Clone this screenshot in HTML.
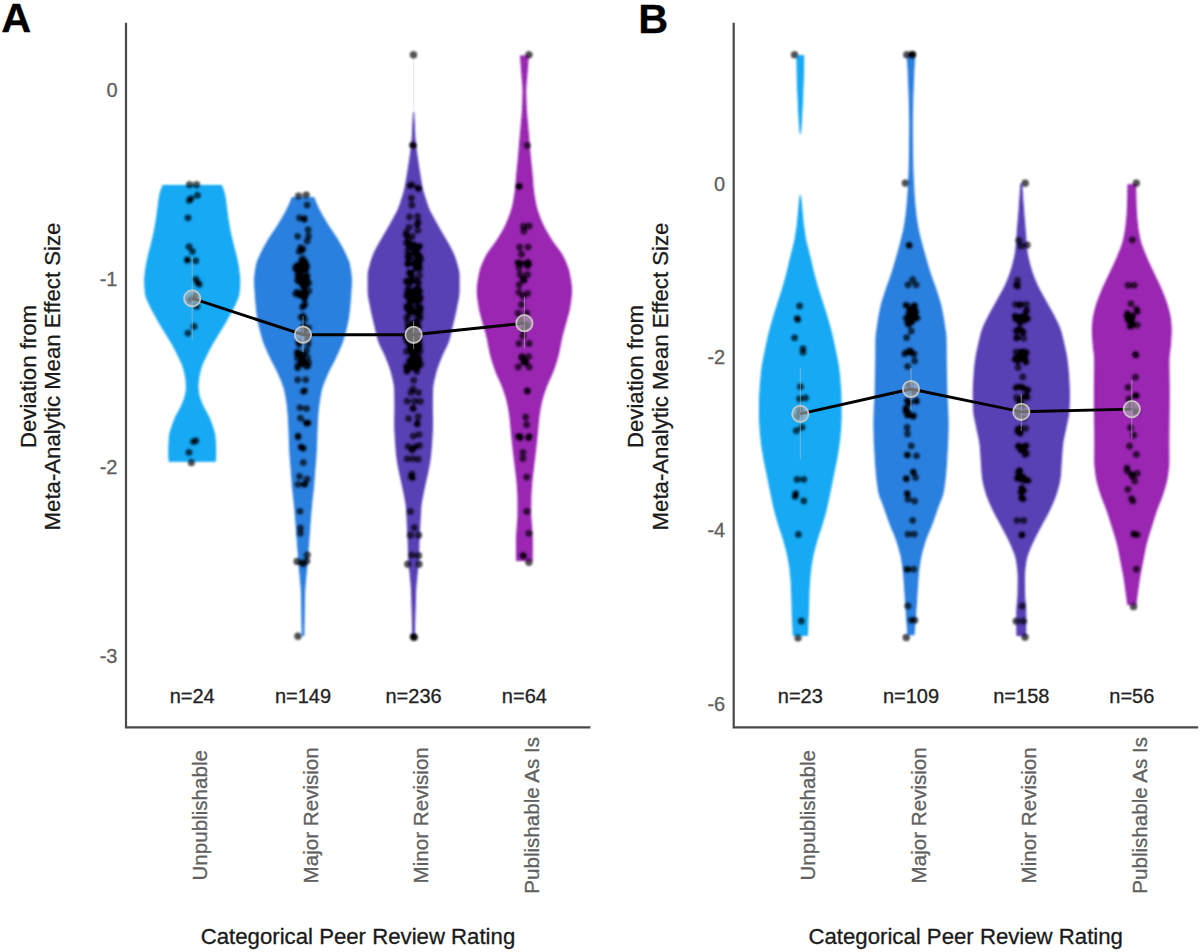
<!DOCTYPE html>
<html><head><meta charset="utf-8"><style>
html,body{margin:0;padding:0;background:#fff;}
body{width:1200px;height:952px;overflow:hidden;font-family:"Liberation Sans",sans-serif;}
svg{display:block;}
#w{width:1200px;height:952px;}
</style></head><body><div id="w">
<svg width="1200" height="952" viewBox="0 0 1200 952">
<style>text{stroke-width:0.3px;paint-order:stroke;} .d{fill:#000;fill-opacity:.68;stroke:#000;stroke-opacity:.55;stroke-width:.8}</style>
<defs><filter id="bl" x="0" y="0" width="1200" height="952" filterUnits="userSpaceOnUse"><feGaussianBlur stdDeviation="0.9"/></filter></defs>
<rect width="1200" height="952" fill="#fff"/>
<g filter="url(#bl)">
<path d="M221.40,185.60 L221.83,186.60 L222.23,187.60 L222.62,188.60 L222.98,189.60 L223.32,190.60 L223.62,191.60 L223.90,192.60 L224.15,193.60 L224.38,194.60 L224.60,195.60 L224.80,196.60 L224.98,197.60 L225.15,198.60 L225.31,199.60 L225.44,200.60 L225.57,201.60 L225.69,202.60 L225.80,203.60 L225.92,204.60 L226.05,205.60 L226.18,206.60 L226.31,207.60 L226.44,208.60 L226.57,209.60 L226.70,210.60 L226.83,211.60 L226.97,212.60 L227.10,213.60 L227.24,214.60 L227.38,215.60 L227.52,216.60 L227.67,217.60 L227.82,218.60 L227.97,219.60 L228.12,220.60 L228.28,221.60 L228.44,222.60 L228.60,223.60 L228.76,224.60 L228.93,225.60 L229.10,226.60 L229.28,227.60 L229.46,228.60 L229.65,229.60 L229.84,230.60 L230.04,231.60 L230.24,232.60 L230.46,233.60 L230.68,234.60 L230.91,235.60 L231.14,236.60 L231.37,237.60 L231.61,238.60 L231.85,239.60 L232.10,240.60 L232.34,241.60 L232.58,242.60 L232.82,243.60 L233.07,244.60 L233.33,245.60 L233.59,246.60 L233.85,247.60 L234.12,248.60 L234.38,249.60 L234.64,250.60 L234.90,251.60 L235.16,252.60 L235.41,253.60 L235.65,254.60 L235.88,255.60 L236.10,256.60 L236.33,257.60 L236.55,258.60 L236.78,259.60 L237.00,260.60 L237.21,261.60 L237.42,262.60 L237.62,263.60 L237.81,264.60 L237.99,265.60 L238.16,266.60 L238.31,267.60 L238.44,268.60 L238.57,269.60 L238.70,270.60 L238.84,271.60 L238.96,272.60 L239.09,273.60 L239.20,274.60 L239.31,275.60 L239.40,276.60 L239.48,277.60 L239.54,278.60 L239.58,279.60 L239.60,280.60 L239.60,281.60 L239.58,282.60 L239.56,283.60 L239.52,284.60 L239.47,285.60 L239.41,286.60 L239.34,287.60 L239.27,288.60 L239.19,289.60 L239.10,290.60 L239.00,291.60 L238.90,292.60 L238.79,293.60 L238.64,294.60 L238.41,295.60 L238.13,296.60 L237.80,297.60 L237.43,298.60 L237.02,299.60 L236.59,300.60 L236.14,301.60 L235.68,302.60 L235.22,303.60 L234.76,304.60 L234.32,305.60 L233.87,306.60 L233.39,307.60 L232.89,308.60 L232.37,309.60 L231.84,310.60 L231.30,311.60 L230.74,312.60 L230.18,313.60 L229.61,314.60 L229.05,315.60 L228.48,316.60 L227.91,317.60 L227.35,318.60 L226.77,319.60 L226.19,320.60 L225.60,321.60 L225.01,322.60 L224.41,323.60 L223.81,324.60 L223.20,325.60 L222.60,326.60 L221.99,327.60 L221.38,328.60 L220.78,329.60 L220.18,330.60 L219.58,331.60 L218.96,332.60 L218.35,333.60 L217.73,334.60 L217.11,335.60 L216.50,336.60 L215.88,337.60 L215.27,338.60 L214.67,339.60 L214.08,340.60 L213.50,341.60 L212.92,342.60 L212.37,343.60 L211.81,344.60 L211.26,345.60 L210.72,346.60 L210.18,347.60 L209.65,348.60 L209.13,349.60 L208.61,350.60 L208.10,351.60 L207.60,352.60 L207.11,353.60 L206.62,354.60 L206.15,355.60 L205.67,356.60 L205.19,357.60 L204.71,358.60 L204.22,359.60 L203.74,360.60 L203.27,361.60 L202.82,362.60 L202.38,363.60 L201.96,364.60 L201.58,365.60 L201.22,366.60 L200.90,367.60 L200.62,368.60 L200.35,369.60 L200.09,370.60 L199.83,371.60 L199.59,372.60 L199.36,373.60 L199.14,374.60 L198.94,375.60 L198.75,376.60 L198.58,377.60 L198.44,378.60 L198.32,379.60 L198.22,380.60 L198.15,381.60 L198.08,382.60 L198.01,383.60 L197.96,384.60 L197.92,385.60 L197.90,386.60 L197.91,387.60 L197.95,388.60 L198.03,389.60 L198.13,390.60 L198.25,391.60 L198.38,392.60 L198.51,393.60 L198.69,394.60 L198.91,395.60 L199.18,396.60 L199.48,397.60 L199.82,398.60 L200.18,399.60 L200.57,400.60 L200.96,401.60 L201.35,402.60 L201.75,403.60 L202.14,404.60 L202.57,405.60 L203.03,406.60 L203.52,407.60 L204.03,408.60 L204.57,409.60 L205.11,410.60 L205.66,411.60 L206.22,412.60 L206.77,413.60 L207.32,414.60 L207.85,415.60 L208.36,416.60 L208.85,417.60 L209.31,418.60 L209.74,419.60 L210.13,420.60 L210.49,421.60 L210.85,422.60 L211.21,423.60 L211.58,424.60 L211.93,425.60 L212.28,426.60 L212.62,427.60 L212.95,428.60 L213.27,429.60 L213.56,430.60 L213.84,431.60 L214.09,432.60 L214.31,433.60 L214.51,434.60 L214.67,435.60 L214.81,436.60 L214.90,437.60 L214.97,438.60 L215.04,439.60 L215.11,440.60 L215.18,441.60 L215.24,442.60 L215.29,443.60 L215.34,444.60 L215.38,445.60 L215.42,446.60 L215.45,447.60 L215.48,448.60 L215.49,449.60 L215.50,450.60 L215.50,451.60 L215.49,452.60 L215.48,453.60 L215.46,454.60 L215.44,455.60 L215.41,456.60 L215.38,457.60 L215.33,458.60 L215.29,459.60 L215.23,460.60 L215.20,461.10 L169.20,461.10 L169.17,460.60 L169.11,459.60 L169.07,458.60 L169.02,457.60 L168.99,456.60 L168.96,455.60 L168.94,454.60 L168.92,453.60 L168.91,452.60 L168.90,451.60 L168.90,450.60 L168.91,449.60 L168.92,448.60 L168.95,447.60 L168.98,446.60 L169.02,445.60 L169.06,444.60 L169.11,443.60 L169.16,442.60 L169.22,441.60 L169.29,440.60 L169.36,439.60 L169.43,438.60 L169.50,437.60 L169.59,436.60 L169.73,435.60 L169.89,434.60 L170.09,433.60 L170.31,432.60 L170.56,431.60 L170.84,430.60 L171.13,429.60 L171.45,428.60 L171.78,427.60 L172.12,426.60 L172.47,425.60 L172.82,424.60 L173.19,423.60 L173.55,422.60 L173.91,421.60 L174.27,420.60 L174.66,419.60 L175.09,418.60 L175.55,417.60 L176.04,416.60 L176.55,415.60 L177.08,414.60 L177.63,413.60 L178.18,412.60 L178.74,411.60 L179.29,410.60 L179.83,409.60 L180.37,408.60 L180.88,407.60 L181.37,406.60 L181.83,405.60 L182.26,404.60 L182.65,403.60 L183.05,402.60 L183.44,401.60 L183.83,400.60 L184.22,399.60 L184.58,398.60 L184.92,397.60 L185.22,396.60 L185.49,395.60 L185.71,394.60 L185.89,393.60 L186.02,392.60 L186.15,391.60 L186.27,390.60 L186.37,389.60 L186.45,388.60 L186.49,387.60 L186.50,386.60 L186.48,385.60 L186.44,384.60 L186.39,383.60 L186.32,382.60 L186.25,381.60 L186.18,380.60 L186.08,379.60 L185.96,378.60 L185.82,377.60 L185.65,376.60 L185.46,375.60 L185.26,374.60 L185.04,373.60 L184.81,372.60 L184.57,371.60 L184.31,370.60 L184.05,369.60 L183.78,368.60 L183.50,367.60 L183.18,366.60 L182.82,365.60 L182.44,364.60 L182.02,363.60 L181.58,362.60 L181.13,361.60 L180.66,360.60 L180.18,359.60 L179.69,358.60 L179.21,357.60 L178.73,356.60 L178.25,355.60 L177.78,354.60 L177.29,353.60 L176.80,352.60 L176.30,351.60 L175.79,350.60 L175.27,349.60 L174.75,348.60 L174.22,347.60 L173.68,346.60 L173.14,345.60 L172.59,344.60 L172.03,343.60 L171.48,342.60 L170.90,341.60 L170.32,340.60 L169.73,339.60 L169.13,338.60 L168.52,337.60 L167.90,336.60 L167.29,335.60 L166.67,334.60 L166.05,333.60 L165.44,332.60 L164.82,331.60 L164.22,330.60 L163.62,329.60 L163.02,328.60 L162.41,327.60 L161.80,326.60 L161.20,325.60 L160.59,324.60 L159.99,323.60 L159.39,322.60 L158.80,321.60 L158.21,320.60 L157.63,319.60 L157.05,318.60 L156.49,317.60 L155.92,316.60 L155.35,315.60 L154.79,314.60 L154.22,313.60 L153.66,312.60 L153.10,311.60 L152.56,310.60 L152.03,309.60 L151.51,308.60 L151.01,307.60 L150.53,306.60 L150.08,305.60 L149.64,304.60 L149.18,303.60 L148.72,302.60 L148.26,301.60 L147.81,300.60 L147.38,299.60 L146.97,298.60 L146.60,297.60 L146.27,296.60 L145.99,295.60 L145.76,294.60 L145.61,293.60 L145.50,292.60 L145.40,291.60 L145.30,290.60 L145.21,289.60 L145.13,288.60 L145.06,287.60 L144.99,286.60 L144.93,285.60 L144.88,284.60 L144.84,283.60 L144.82,282.60 L144.80,281.60 L144.80,280.60 L144.82,279.60 L144.86,278.60 L144.92,277.60 L145.00,276.60 L145.09,275.60 L145.20,274.60 L145.31,273.60 L145.44,272.60 L145.56,271.60 L145.70,270.60 L145.83,269.60 L145.96,268.60 L146.09,267.60 L146.24,266.60 L146.41,265.60 L146.59,264.60 L146.78,263.60 L146.98,262.60 L147.19,261.60 L147.40,260.60 L147.62,259.60 L147.85,258.60 L148.07,257.60 L148.30,256.60 L148.52,255.60 L148.75,254.60 L148.99,253.60 L149.24,252.60 L149.50,251.60 L149.76,250.60 L150.02,249.60 L150.28,248.60 L150.55,247.60 L150.81,246.60 L151.07,245.60 L151.33,244.60 L151.58,243.60 L151.82,242.60 L152.06,241.60 L152.30,240.60 L152.55,239.60 L152.79,238.60 L153.03,237.60 L153.26,236.60 L153.49,235.60 L153.72,234.60 L153.94,233.60 L154.16,232.60 L154.36,231.60 L154.56,230.60 L154.75,229.60 L154.94,228.60 L155.12,227.60 L155.30,226.60 L155.47,225.60 L155.64,224.60 L155.80,223.60 L155.96,222.60 L156.12,221.60 L156.28,220.60 L156.43,219.60 L156.58,218.60 L156.73,217.60 L156.88,216.60 L157.02,215.60 L157.16,214.60 L157.30,213.60 L157.43,212.60 L157.57,211.60 L157.70,210.60 L157.83,209.60 L157.96,208.60 L158.09,207.60 L158.22,206.60 L158.35,205.60 L158.48,204.60 L158.60,203.60 L158.71,202.60 L158.83,201.60 L158.96,200.60 L159.09,199.60 L159.25,198.60 L159.42,197.60 L159.60,196.60 L159.80,195.60 L160.02,194.60 L160.25,193.60 L160.50,192.60 L160.78,191.60 L161.08,190.60 L161.42,189.60 L161.78,188.60 L162.17,187.60 L162.57,186.60 L163.00,185.60Z" fill="#12a9f4" stroke="#06a0f2" stroke-width="1.1"/>
<path d="M313.80,197.80 L314.17,198.80 L314.56,199.80 L314.95,200.80 L315.36,201.80 L315.77,202.80 L316.20,203.80 L316.64,204.80 L317.09,205.80 L317.55,206.80 L318.02,207.80 L318.50,208.80 L318.99,209.80 L319.50,210.80 L320.03,211.80 L320.56,212.80 L321.12,213.80 L321.68,214.80 L322.25,215.80 L322.83,216.80 L323.42,217.80 L324.01,218.80 L324.61,219.80 L325.21,220.80 L325.82,221.80 L326.43,222.80 L327.04,223.80 L327.64,224.80 L328.27,225.80 L328.91,226.80 L329.56,227.80 L330.23,228.80 L330.90,229.80 L331.58,230.80 L332.26,231.80 L332.94,232.80 L333.61,233.80 L334.29,234.80 L334.95,235.80 L335.60,236.80 L336.24,237.80 L336.86,238.80 L337.46,239.80 L338.05,240.80 L338.63,241.80 L339.20,242.80 L339.77,243.80 L340.34,244.80 L340.90,245.80 L341.45,246.80 L341.99,247.80 L342.52,248.80 L343.05,249.80 L343.56,250.80 L344.06,251.80 L344.55,252.80 L345.03,253.80 L345.50,254.80 L345.96,255.80 L346.41,256.80 L346.87,257.80 L347.33,258.80 L347.78,259.80 L348.20,260.80 L348.58,261.80 L348.90,262.80 L349.16,263.80 L349.36,264.80 L349.56,265.80 L349.75,266.80 L349.93,267.80 L350.11,268.80 L350.28,269.80 L350.44,270.80 L350.59,271.80 L350.73,272.80 L350.85,273.80 L350.97,274.80 L351.06,275.80 L351.15,276.80 L351.21,277.80 L351.26,278.80 L351.29,279.80 L351.30,280.80 L351.29,281.80 L351.28,282.80 L351.25,283.80 L351.22,284.80 L351.18,285.80 L351.13,286.80 L351.08,287.80 L351.02,288.80 L350.96,289.80 L350.89,290.80 L350.82,291.80 L350.75,292.80 L350.67,293.80 L350.60,294.80 L350.53,295.80 L350.46,296.80 L350.39,297.80 L350.32,298.80 L350.24,299.80 L350.17,300.80 L350.09,301.80 L350.01,302.80 L349.93,303.80 L349.84,304.80 L349.75,305.80 L349.66,306.80 L349.56,307.80 L349.46,308.80 L349.35,309.80 L349.24,310.80 L349.12,311.80 L349.00,312.80 L348.88,313.80 L348.75,314.80 L348.61,315.80 L348.46,316.80 L348.30,317.80 L348.13,318.80 L347.95,319.80 L347.77,320.80 L347.58,321.80 L347.38,322.80 L347.17,323.80 L346.95,324.80 L346.73,325.80 L346.49,326.80 L346.26,327.80 L346.01,328.80 L345.76,329.80 L345.50,330.80 L345.24,331.80 L344.97,332.80 L344.70,333.80 L344.42,334.80 L344.14,335.80 L343.85,336.80 L343.56,337.80 L343.26,338.80 L342.96,339.80 L342.65,340.80 L342.32,341.80 L341.97,342.80 L341.60,343.80 L341.22,344.80 L340.82,345.80 L340.40,346.80 L339.98,347.80 L339.54,348.80 L339.10,349.80 L338.65,350.80 L338.20,351.80 L337.74,352.80 L337.28,353.80 L336.82,354.80 L336.36,355.80 L335.90,356.80 L335.44,357.80 L334.96,358.80 L334.46,359.80 L333.95,360.80 L333.44,361.80 L332.91,362.80 L332.39,363.80 L331.86,364.80 L331.33,365.80 L330.80,366.80 L330.28,367.80 L329.77,368.80 L329.27,369.80 L328.78,370.80 L328.31,371.80 L327.85,372.80 L327.41,373.80 L326.98,374.80 L326.55,375.80 L326.11,376.80 L325.68,377.80 L325.25,378.80 L324.83,379.80 L324.41,380.80 L324.00,381.80 L323.61,382.80 L323.23,383.80 L322.86,384.80 L322.51,385.80 L322.18,386.80 L321.88,387.80 L321.60,388.80 L321.34,389.80 L321.11,390.80 L320.89,391.80 L320.69,392.80 L320.49,393.80 L320.30,394.80 L320.11,395.80 L319.94,396.80 L319.77,397.80 L319.61,398.80 L319.46,399.80 L319.31,400.80 L319.17,401.80 L319.03,402.80 L318.90,403.80 L318.78,404.80 L318.66,405.80 L318.54,406.80 L318.43,407.80 L318.33,408.80 L318.22,409.80 L318.12,410.80 L318.03,411.80 L317.94,412.80 L317.85,413.80 L317.76,414.80 L317.68,415.80 L317.61,416.80 L317.54,417.80 L317.47,418.80 L317.41,419.80 L317.36,420.80 L317.30,421.80 L317.25,422.80 L317.21,423.80 L317.16,424.80 L317.12,425.80 L317.08,426.80 L317.04,427.80 L317.00,428.80 L316.97,429.80 L316.93,430.80 L316.89,431.80 L316.86,432.80 L316.82,433.80 L316.78,434.80 L316.74,435.80 L316.70,436.80 L316.66,437.80 L316.62,438.80 L316.58,439.80 L316.54,440.80 L316.50,441.80 L316.47,442.80 L316.43,443.80 L316.39,444.80 L316.35,445.80 L316.31,446.80 L316.27,447.80 L316.23,448.80 L316.19,449.80 L316.14,450.80 L316.09,451.80 L316.04,452.80 L315.99,453.80 L315.93,454.80 L315.87,455.80 L315.80,456.80 L315.73,457.80 L315.66,458.80 L315.58,459.80 L315.50,460.80 L315.42,461.80 L315.33,462.80 L315.25,463.80 L315.16,464.80 L315.08,465.80 L314.99,466.80 L314.91,467.80 L314.83,468.80 L314.75,469.80 L314.67,470.80 L314.59,471.80 L314.52,472.80 L314.44,473.80 L314.37,474.80 L314.30,475.80 L314.23,476.80 L314.15,477.80 L314.08,478.80 L314.00,479.80 L313.93,480.80 L313.85,481.80 L313.77,482.80 L313.69,483.80 L313.61,484.80 L313.52,485.80 L313.44,486.80 L313.34,487.80 L313.25,488.80 L313.14,489.80 L313.04,490.80 L312.93,491.80 L312.81,492.80 L312.70,493.80 L312.58,494.80 L312.47,495.80 L312.35,496.80 L312.24,497.80 L312.13,498.80 L312.02,499.80 L311.92,500.80 L311.81,501.80 L311.71,502.80 L311.60,503.80 L311.50,504.80 L311.40,505.80 L311.30,506.80 L311.20,507.80 L311.11,508.80 L311.02,509.80 L310.93,510.80 L310.84,511.80 L310.76,512.80 L310.68,513.80 L310.60,514.80 L310.52,515.80 L310.44,516.80 L310.36,517.80 L310.29,518.80 L310.21,519.80 L310.14,520.80 L310.06,521.80 L309.99,522.80 L309.91,523.80 L309.84,524.80 L309.77,525.80 L309.70,526.80 L309.63,527.80 L309.56,528.80 L309.50,529.80 L309.43,530.80 L309.36,531.80 L309.29,532.80 L309.23,533.80 L309.16,534.80 L309.09,535.80 L309.02,536.80 L308.94,537.80 L308.87,538.80 L308.79,539.80 L308.71,540.80 L308.63,541.80 L308.55,542.80 L308.47,543.80 L308.39,544.80 L308.31,545.80 L308.22,546.80 L308.14,547.80 L308.06,548.80 L307.97,549.80 L307.89,550.80 L307.82,551.80 L307.74,552.80 L307.66,553.80 L307.59,554.80 L307.52,555.80 L307.44,556.80 L307.37,557.80 L307.30,558.80 L307.23,559.80 L307.15,560.80 L307.08,561.80 L307.01,562.80 L306.93,563.80 L306.85,564.80 L306.77,565.80 L306.69,566.80 L306.61,567.80 L306.52,568.80 L306.43,569.80 L306.33,570.80 L306.23,571.80 L306.14,572.80 L306.04,573.80 L305.94,574.80 L305.85,575.80 L305.75,576.80 L305.66,577.80 L305.57,578.80 L305.48,579.80 L305.40,580.80 L305.32,581.80 L305.24,582.80 L305.15,583.80 L305.07,584.80 L304.98,585.80 L304.90,586.80 L304.82,587.80 L304.74,588.80 L304.67,589.80 L304.60,590.80 L304.54,591.80 L304.49,592.80 L304.44,593.80 L304.41,594.80 L304.38,595.80 L304.36,596.80 L304.34,597.80 L304.32,598.80 L304.30,599.80 L304.28,600.80 L304.26,601.80 L304.25,602.80 L304.24,603.80 L304.22,604.80 L304.21,605.80 L304.20,606.80 L304.18,607.80 L304.17,608.80 L304.16,609.80 L304.15,610.80 L304.14,611.80 L304.12,612.80 L304.11,613.80 L304.09,614.80 L304.08,615.80 L304.06,616.80 L304.05,617.80 L304.03,618.80 L304.02,619.80 L304.01,620.80 L303.99,621.80 L303.98,622.80 L303.96,623.80 L303.95,624.80 L303.93,625.80 L303.92,626.80 L303.91,627.80 L303.89,628.80 L303.88,629.80 L303.86,630.80 L303.85,631.80 L303.84,632.80 L303.82,633.80 L303.81,634.80 L303.80,635.40 L302.20,635.40 L302.19,634.80 L302.18,633.80 L302.16,632.80 L302.15,631.80 L302.14,630.80 L302.12,629.80 L302.11,628.80 L302.09,627.80 L302.08,626.80 L302.07,625.80 L302.05,624.80 L302.04,623.80 L302.02,622.80 L302.01,621.80 L301.99,620.80 L301.98,619.80 L301.97,618.80 L301.95,617.80 L301.94,616.80 L301.92,615.80 L301.91,614.80 L301.89,613.80 L301.88,612.80 L301.86,611.80 L301.85,610.80 L301.84,609.80 L301.83,608.80 L301.82,607.80 L301.80,606.80 L301.79,605.80 L301.78,604.80 L301.76,603.80 L301.75,602.80 L301.74,601.80 L301.72,600.80 L301.70,599.80 L301.68,598.80 L301.66,597.80 L301.64,596.80 L301.62,595.80 L301.59,594.80 L301.56,593.80 L301.51,592.80 L301.46,591.80 L301.40,590.80 L301.33,589.80 L301.26,588.80 L301.18,587.80 L301.10,586.80 L301.02,585.80 L300.93,584.80 L300.85,583.80 L300.76,582.80 L300.68,581.80 L300.60,580.80 L300.52,579.80 L300.43,578.80 L300.34,577.80 L300.25,576.80 L300.15,575.80 L300.06,574.80 L299.96,573.80 L299.86,572.80 L299.77,571.80 L299.67,570.80 L299.57,569.80 L299.48,568.80 L299.39,567.80 L299.31,566.80 L299.23,565.80 L299.15,564.80 L299.07,563.80 L298.99,562.80 L298.92,561.80 L298.85,560.80 L298.77,559.80 L298.70,558.80 L298.63,557.80 L298.56,556.80 L298.48,555.80 L298.41,554.80 L298.34,553.80 L298.26,552.80 L298.18,551.80 L298.11,550.80 L298.03,549.80 L297.94,548.80 L297.86,547.80 L297.78,546.80 L297.69,545.80 L297.61,544.80 L297.53,543.80 L297.45,542.80 L297.37,541.80 L297.29,540.80 L297.21,539.80 L297.13,538.80 L297.06,537.80 L296.98,536.80 L296.91,535.80 L296.84,534.80 L296.77,533.80 L296.71,532.80 L296.64,531.80 L296.57,530.80 L296.50,529.80 L296.44,528.80 L296.37,527.80 L296.30,526.80 L296.23,525.80 L296.16,524.80 L296.09,523.80 L296.01,522.80 L295.94,521.80 L295.86,520.80 L295.79,519.80 L295.71,518.80 L295.64,517.80 L295.56,516.80 L295.48,515.80 L295.40,514.80 L295.32,513.80 L295.24,512.80 L295.16,511.80 L295.07,510.80 L294.98,509.80 L294.89,508.80 L294.80,507.80 L294.70,506.80 L294.60,505.80 L294.50,504.80 L294.40,503.80 L294.29,502.80 L294.19,501.80 L294.08,500.80 L293.98,499.80 L293.87,498.80 L293.76,497.80 L293.65,496.80 L293.53,495.80 L293.42,494.80 L293.30,493.80 L293.19,492.80 L293.07,491.80 L292.96,490.80 L292.86,489.80 L292.75,488.80 L292.66,487.80 L292.56,486.80 L292.48,485.80 L292.39,484.80 L292.31,483.80 L292.23,482.80 L292.15,481.80 L292.07,480.80 L292.00,479.80 L291.92,478.80 L291.85,477.80 L291.77,476.80 L291.70,475.80 L291.63,474.80 L291.56,473.80 L291.48,472.80 L291.41,471.80 L291.33,470.80 L291.25,469.80 L291.17,468.80 L291.09,467.80 L291.01,466.80 L290.92,465.80 L290.84,464.80 L290.75,463.80 L290.67,462.80 L290.58,461.80 L290.50,460.80 L290.42,459.80 L290.34,458.80 L290.27,457.80 L290.20,456.80 L290.13,455.80 L290.07,454.80 L290.01,453.80 L289.96,452.80 L289.91,451.80 L289.86,450.80 L289.81,449.80 L289.77,448.80 L289.73,447.80 L289.69,446.80 L289.65,445.80 L289.61,444.80 L289.57,443.80 L289.53,442.80 L289.50,441.80 L289.46,440.80 L289.42,439.80 L289.38,438.80 L289.34,437.80 L289.30,436.80 L289.26,435.80 L289.22,434.80 L289.18,433.80 L289.14,432.80 L289.11,431.80 L289.07,430.80 L289.03,429.80 L289.00,428.80 L288.96,427.80 L288.92,426.80 L288.88,425.80 L288.84,424.80 L288.79,423.80 L288.75,422.80 L288.70,421.80 L288.64,420.80 L288.59,419.80 L288.53,418.80 L288.46,417.80 L288.39,416.80 L288.32,415.80 L288.24,414.80 L288.15,413.80 L288.06,412.80 L287.97,411.80 L287.88,410.80 L287.78,409.80 L287.67,408.80 L287.57,407.80 L287.46,406.80 L287.34,405.80 L287.22,404.80 L287.10,403.80 L286.97,402.80 L286.83,401.80 L286.69,400.80 L286.54,399.80 L286.39,398.80 L286.23,397.80 L286.06,396.80 L285.89,395.80 L285.70,394.80 L285.51,393.80 L285.31,392.80 L285.11,391.80 L284.89,390.80 L284.66,389.80 L284.40,388.80 L284.12,387.80 L283.82,386.80 L283.49,385.80 L283.14,384.80 L282.77,383.80 L282.39,382.80 L282.00,381.80 L281.59,380.80 L281.17,379.80 L280.75,378.80 L280.32,377.80 L279.89,376.80 L279.45,375.80 L279.02,374.80 L278.59,373.80 L278.15,372.80 L277.69,371.80 L277.22,370.80 L276.73,369.80 L276.23,368.80 L275.72,367.80 L275.20,366.80 L274.67,365.80 L274.14,364.80 L273.61,363.80 L273.09,362.80 L272.56,361.80 L272.05,360.80 L271.54,359.80 L271.04,358.80 L270.56,357.80 L270.10,356.80 L269.64,355.80 L269.18,354.80 L268.72,353.80 L268.26,352.80 L267.80,351.80 L267.35,350.80 L266.90,349.80 L266.46,348.80 L266.02,347.80 L265.60,346.80 L265.18,345.80 L264.78,344.80 L264.40,343.80 L264.03,342.80 L263.68,341.80 L263.35,340.80 L263.04,339.80 L262.74,338.80 L262.44,337.80 L262.15,336.80 L261.86,335.80 L261.58,334.80 L261.30,333.80 L261.03,332.80 L260.76,331.80 L260.50,330.80 L260.24,329.80 L259.99,328.80 L259.74,327.80 L259.51,326.80 L259.27,325.80 L259.05,324.80 L258.83,323.80 L258.62,322.80 L258.42,321.80 L258.23,320.80 L258.05,319.80 L257.87,318.80 L257.70,317.80 L257.54,316.80 L257.39,315.80 L257.25,314.80 L257.12,313.80 L257.00,312.80 L256.88,311.80 L256.76,310.80 L256.65,309.80 L256.54,308.80 L256.44,307.80 L256.34,306.80 L256.25,305.80 L256.16,304.80 L256.07,303.80 L255.99,302.80 L255.91,301.80 L255.83,300.80 L255.76,299.80 L255.68,298.80 L255.61,297.80 L255.54,296.80 L255.47,295.80 L255.40,294.80 L255.33,293.80 L255.25,292.80 L255.18,291.80 L255.11,290.80 L255.04,289.80 L254.98,288.80 L254.92,287.80 L254.87,286.80 L254.82,285.80 L254.78,284.80 L254.75,283.80 L254.72,282.80 L254.71,281.80 L254.70,280.80 L254.71,279.80 L254.74,278.80 L254.79,277.80 L254.85,276.80 L254.94,275.80 L255.03,274.80 L255.15,273.80 L255.27,272.80 L255.41,271.80 L255.56,270.80 L255.72,269.80 L255.89,268.80 L256.07,267.80 L256.25,266.80 L256.44,265.80 L256.64,264.80 L256.84,263.80 L257.10,262.80 L257.42,261.80 L257.80,260.80 L258.22,259.80 L258.67,258.80 L259.13,257.80 L259.59,256.80 L260.04,255.80 L260.50,254.80 L260.97,253.80 L261.45,252.80 L261.94,251.80 L262.44,250.80 L262.95,249.80 L263.48,248.80 L264.01,247.80 L264.55,246.80 L265.10,245.80 L265.66,244.80 L266.23,243.80 L266.80,242.80 L267.37,241.80 L267.95,240.80 L268.54,239.80 L269.14,238.80 L269.76,237.80 L270.40,236.80 L271.05,235.80 L271.71,234.80 L272.39,233.80 L273.06,232.80 L273.74,231.80 L274.42,230.80 L275.10,229.80 L275.77,228.80 L276.44,227.80 L277.09,226.80 L277.73,225.80 L278.36,224.80 L278.96,223.80 L279.57,222.80 L280.18,221.80 L280.79,220.80 L281.39,219.80 L281.99,218.80 L282.58,217.80 L283.17,216.80 L283.75,215.80 L284.32,214.80 L284.88,213.80 L285.44,212.80 L285.97,211.80 L286.50,210.80 L287.01,209.80 L287.50,208.80 L287.98,207.80 L288.45,206.80 L288.91,205.80 L289.36,204.80 L289.80,203.80 L290.23,202.80 L290.64,201.80 L291.05,200.80 L291.44,199.80 L291.83,198.80 L292.20,197.80Z" fill="#2b80df" stroke="#1f74da" stroke-width="1.1"/>
<path d="M413.60,112.00 L413.65,113.00 L413.70,114.00 L413.75,115.00 L413.80,116.00 L413.85,117.00 L413.90,118.00 L413.96,119.00 L414.02,120.00 L414.08,121.00 L414.14,122.00 L414.20,123.00 L414.25,124.00 L414.30,125.00 L414.34,126.00 L414.37,127.00 L414.41,128.00 L414.43,129.00 L414.46,130.00 L414.49,131.00 L414.53,132.00 L414.57,133.00 L414.61,134.00 L414.67,135.00 L414.73,136.00 L414.80,137.00 L414.88,138.00 L414.96,139.00 L415.05,140.00 L415.15,141.00 L415.24,142.00 L415.34,143.00 L415.45,144.00 L415.55,145.00 L415.66,146.00 L415.77,147.00 L415.88,148.00 L415.99,149.00 L416.12,150.00 L416.25,151.00 L416.38,152.00 L416.52,153.00 L416.66,154.00 L416.81,155.00 L416.96,156.00 L417.10,157.00 L417.25,158.00 L417.40,159.00 L417.55,160.00 L417.70,161.00 L417.85,162.00 L417.99,163.00 L418.14,164.00 L418.29,165.00 L418.44,166.00 L418.59,167.00 L418.75,168.00 L418.90,169.00 L419.06,170.00 L419.21,171.00 L419.37,172.00 L419.54,173.00 L419.70,174.00 L419.87,175.00 L420.03,176.00 L420.20,177.00 L420.36,178.00 L420.52,179.00 L420.69,180.00 L420.86,181.00 L421.03,182.00 L421.20,183.00 L421.38,184.00 L421.57,185.00 L421.76,186.00 L421.96,187.00 L422.16,188.00 L422.38,189.00 L422.60,190.00 L422.84,191.00 L423.10,192.00 L423.38,193.00 L423.67,194.00 L423.97,195.00 L424.28,196.00 L424.60,197.00 L424.92,198.00 L425.24,199.00 L425.56,200.00 L425.88,201.00 L426.20,202.00 L426.53,203.00 L426.87,204.00 L427.21,205.00 L427.57,206.00 L427.94,207.00 L428.33,208.00 L428.74,209.00 L429.18,210.00 L429.65,211.00 L430.15,212.00 L430.67,213.00 L431.20,214.00 L431.74,215.00 L432.29,216.00 L432.84,217.00 L433.39,218.00 L433.92,219.00 L434.46,220.00 L435.01,221.00 L435.55,222.00 L436.11,223.00 L436.66,224.00 L437.22,225.00 L437.78,226.00 L438.35,227.00 L438.91,228.00 L439.48,229.00 L440.06,230.00 L440.64,231.00 L441.22,232.00 L441.80,233.00 L442.38,234.00 L442.97,235.00 L443.55,236.00 L444.13,237.00 L444.71,238.00 L445.29,239.00 L445.88,240.00 L446.48,241.00 L447.07,242.00 L447.65,243.00 L448.23,244.00 L448.79,245.00 L449.33,246.00 L449.86,247.00 L450.38,248.00 L450.89,249.00 L451.40,250.00 L451.90,251.00 L452.39,252.00 L452.86,253.00 L453.31,254.00 L453.73,255.00 L454.12,256.00 L454.49,257.00 L454.85,258.00 L455.19,259.00 L455.52,260.00 L455.83,261.00 L456.13,262.00 L456.42,263.00 L456.69,264.00 L456.95,265.00 L457.20,266.00 L457.46,267.00 L457.73,268.00 L458.00,269.00 L458.25,270.00 L458.49,271.00 L458.69,272.00 L458.85,273.00 L458.96,274.00 L459.00,275.00 L459.00,276.00 L459.00,277.00 L459.00,278.00 L459.00,279.00 L459.00,280.00 L459.00,281.00 L459.00,282.00 L459.00,283.00 L459.00,284.00 L459.00,285.00 L459.00,286.00 L459.00,287.00 L459.00,288.00 L459.00,289.00 L459.00,290.00 L459.00,291.00 L458.98,292.00 L458.92,293.00 L458.84,294.00 L458.74,295.00 L458.61,296.00 L458.46,297.00 L458.30,298.00 L458.12,299.00 L457.93,300.00 L457.74,301.00 L457.53,302.00 L457.32,303.00 L457.12,304.00 L456.91,305.00 L456.71,306.00 L456.51,307.00 L456.33,308.00 L456.13,309.00 L455.94,310.00 L455.73,311.00 L455.52,312.00 L455.30,313.00 L455.07,314.00 L454.85,315.00 L454.61,316.00 L454.38,317.00 L454.14,318.00 L453.90,319.00 L453.66,320.00 L453.42,321.00 L453.18,322.00 L452.93,323.00 L452.70,324.00 L452.46,325.00 L452.23,326.00 L452.00,327.00 L451.77,328.00 L451.55,329.00 L451.32,330.00 L451.10,331.00 L450.87,332.00 L450.63,333.00 L450.40,334.00 L450.15,335.00 L449.90,336.00 L449.63,337.00 L449.36,338.00 L449.08,339.00 L448.78,340.00 L448.46,341.00 L448.13,342.00 L447.75,343.00 L447.35,344.00 L446.92,345.00 L446.46,346.00 L445.98,347.00 L445.49,348.00 L444.99,349.00 L444.49,350.00 L443.98,351.00 L443.49,352.00 L443.00,353.00 L442.52,354.00 L442.06,355.00 L441.63,356.00 L441.22,357.00 L440.82,358.00 L440.42,359.00 L440.02,360.00 L439.63,361.00 L439.23,362.00 L438.84,363.00 L438.46,364.00 L438.09,365.00 L437.72,366.00 L437.37,367.00 L437.02,368.00 L436.70,369.00 L436.38,370.00 L436.08,371.00 L435.81,372.00 L435.55,373.00 L435.30,374.00 L435.06,375.00 L434.82,376.00 L434.58,377.00 L434.34,378.00 L434.11,379.00 L433.88,380.00 L433.66,381.00 L433.45,382.00 L433.25,383.00 L433.07,384.00 L432.91,385.00 L432.76,386.00 L432.64,387.00 L432.54,388.00 L432.46,389.00 L432.41,390.00 L432.39,391.00 L432.37,392.00 L432.35,393.00 L432.33,394.00 L432.31,395.00 L432.29,396.00 L432.28,397.00 L432.26,398.00 L432.25,399.00 L432.24,400.00 L432.23,401.00 L432.22,402.00 L432.21,403.00 L432.21,404.00 L432.20,405.00 L432.20,406.00 L432.20,407.00 L432.20,408.00 L432.21,409.00 L432.21,410.00 L432.23,411.00 L432.24,412.00 L432.26,413.00 L432.27,414.00 L432.29,415.00 L432.31,416.00 L432.32,417.00 L432.34,418.00 L432.36,419.00 L432.37,420.00 L432.38,421.00 L432.39,422.00 L432.40,423.00 L432.40,424.00 L432.40,425.00 L432.38,426.00 L432.36,427.00 L432.34,428.00 L432.31,429.00 L432.27,430.00 L432.22,431.00 L432.18,432.00 L432.12,433.00 L432.07,434.00 L432.01,435.00 L431.95,436.00 L431.89,437.00 L431.83,438.00 L431.77,439.00 L431.70,440.00 L431.64,441.00 L431.58,442.00 L431.52,443.00 L431.45,444.00 L431.38,445.00 L431.31,446.00 L431.23,447.00 L431.15,448.00 L431.07,449.00 L430.98,450.00 L430.89,451.00 L430.80,452.00 L430.70,453.00 L430.60,454.00 L430.49,455.00 L430.38,456.00 L430.27,457.00 L430.15,458.00 L430.02,459.00 L429.88,460.00 L429.73,461.00 L429.57,462.00 L429.40,463.00 L429.22,464.00 L429.04,465.00 L428.86,466.00 L428.67,467.00 L428.48,468.00 L428.29,469.00 L428.10,470.00 L427.91,471.00 L427.71,472.00 L427.50,473.00 L427.29,474.00 L427.07,475.00 L426.85,476.00 L426.62,477.00 L426.39,478.00 L426.16,479.00 L425.94,480.00 L425.71,481.00 L425.48,482.00 L425.25,483.00 L425.03,484.00 L424.81,485.00 L424.59,486.00 L424.38,487.00 L424.18,488.00 L423.98,489.00 L423.78,490.00 L423.58,491.00 L423.38,492.00 L423.17,493.00 L422.96,494.00 L422.76,495.00 L422.55,496.00 L422.35,497.00 L422.15,498.00 L421.96,499.00 L421.77,500.00 L421.60,501.00 L421.43,502.00 L421.27,503.00 L421.13,504.00 L420.99,505.00 L420.87,506.00 L420.77,507.00 L420.68,508.00 L420.61,509.00 L420.53,510.00 L420.47,511.00 L420.40,512.00 L420.34,513.00 L420.29,514.00 L420.24,515.00 L420.19,516.00 L420.14,517.00 L420.09,518.00 L420.05,519.00 L420.00,520.00 L419.96,521.00 L419.92,522.00 L419.87,523.00 L419.83,524.00 L419.78,525.00 L419.73,526.00 L419.68,527.00 L419.63,528.00 L419.58,529.00 L419.53,530.00 L419.48,531.00 L419.43,532.00 L419.37,533.00 L419.32,534.00 L419.27,535.00 L419.22,536.00 L419.17,537.00 L419.12,538.00 L419.07,539.00 L419.03,540.00 L418.98,541.00 L418.94,542.00 L418.90,543.00 L418.86,544.00 L418.82,545.00 L418.79,546.00 L418.76,547.00 L418.73,548.00 L418.71,549.00 L418.69,550.00 L418.67,551.00 L418.65,552.00 L418.62,553.00 L418.60,554.00 L418.57,555.00 L418.54,556.00 L418.51,557.00 L418.46,558.00 L418.41,559.00 L418.35,560.00 L418.27,561.00 L418.19,562.00 L418.10,563.00 L418.01,564.00 L417.91,565.00 L417.81,566.00 L417.70,567.00 L417.60,568.00 L417.49,569.00 L417.39,570.00 L417.28,571.00 L417.18,572.00 L417.09,573.00 L417.00,574.00 L416.91,575.00 L416.82,576.00 L416.73,577.00 L416.63,578.00 L416.53,579.00 L416.44,580.00 L416.34,581.00 L416.25,582.00 L416.16,583.00 L416.07,584.00 L415.98,585.00 L415.90,586.00 L415.82,587.00 L415.76,588.00 L415.69,589.00 L415.64,590.00 L415.59,591.00 L415.55,592.00 L415.51,593.00 L415.48,594.00 L415.44,595.00 L415.41,596.00 L415.38,597.00 L415.35,598.00 L415.33,599.00 L415.30,600.00 L415.27,601.00 L415.25,602.00 L415.22,603.00 L415.20,604.00 L415.17,605.00 L415.15,606.00 L415.12,607.00 L415.09,608.00 L415.06,609.00 L415.03,610.00 L414.99,611.00 L414.96,612.00 L414.93,613.00 L414.90,614.00 L414.86,615.00 L414.83,616.00 L414.80,617.00 L414.77,618.00 L414.74,619.00 L414.71,620.00 L414.68,621.00 L414.66,622.00 L414.63,623.00 L414.61,624.00 L414.59,625.00 L414.57,626.00 L414.55,627.00 L414.53,628.00 L414.51,629.00 L414.49,630.00 L414.47,631.00 L414.46,632.00 L414.44,633.00 L414.43,634.00 L414.41,635.00 L414.40,636.00 L414.40,636.10 L412.80,636.10 L412.80,636.00 L412.79,635.00 L412.77,634.00 L412.76,633.00 L412.74,632.00 L412.73,631.00 L412.71,630.00 L412.69,629.00 L412.67,628.00 L412.65,627.00 L412.63,626.00 L412.61,625.00 L412.59,624.00 L412.57,623.00 L412.54,622.00 L412.52,621.00 L412.49,620.00 L412.46,619.00 L412.43,618.00 L412.40,617.00 L412.37,616.00 L412.34,615.00 L412.30,614.00 L412.27,613.00 L412.24,612.00 L412.21,611.00 L412.17,610.00 L412.14,609.00 L412.11,608.00 L412.08,607.00 L412.05,606.00 L412.03,605.00 L412.00,604.00 L411.98,603.00 L411.95,602.00 L411.93,601.00 L411.90,600.00 L411.87,599.00 L411.85,598.00 L411.82,597.00 L411.79,596.00 L411.76,595.00 L411.72,594.00 L411.69,593.00 L411.65,592.00 L411.61,591.00 L411.56,590.00 L411.51,589.00 L411.44,588.00 L411.38,587.00 L411.30,586.00 L411.22,585.00 L411.13,584.00 L411.04,583.00 L410.95,582.00 L410.86,581.00 L410.76,580.00 L410.67,579.00 L410.57,578.00 L410.47,577.00 L410.38,576.00 L410.29,575.00 L410.20,574.00 L410.11,573.00 L410.02,572.00 L409.92,571.00 L409.81,570.00 L409.71,569.00 L409.60,568.00 L409.50,567.00 L409.39,566.00 L409.29,565.00 L409.19,564.00 L409.10,563.00 L409.01,562.00 L408.93,561.00 L408.85,560.00 L408.79,559.00 L408.74,558.00 L408.69,557.00 L408.66,556.00 L408.63,555.00 L408.60,554.00 L408.58,553.00 L408.55,552.00 L408.53,551.00 L408.51,550.00 L408.49,549.00 L408.47,548.00 L408.44,547.00 L408.41,546.00 L408.38,545.00 L408.34,544.00 L408.30,543.00 L408.26,542.00 L408.22,541.00 L408.17,540.00 L408.13,539.00 L408.08,538.00 L408.03,537.00 L407.98,536.00 L407.93,535.00 L407.88,534.00 L407.83,533.00 L407.77,532.00 L407.72,531.00 L407.67,530.00 L407.62,529.00 L407.57,528.00 L407.52,527.00 L407.47,526.00 L407.42,525.00 L407.37,524.00 L407.33,523.00 L407.28,522.00 L407.24,521.00 L407.20,520.00 L407.15,519.00 L407.11,518.00 L407.06,517.00 L407.01,516.00 L406.96,515.00 L406.91,514.00 L406.86,513.00 L406.80,512.00 L406.73,511.00 L406.67,510.00 L406.59,509.00 L406.52,508.00 L406.43,507.00 L406.33,506.00 L406.21,505.00 L406.07,504.00 L405.93,503.00 L405.77,502.00 L405.60,501.00 L405.43,500.00 L405.24,499.00 L405.05,498.00 L404.85,497.00 L404.65,496.00 L404.44,495.00 L404.24,494.00 L404.03,493.00 L403.82,492.00 L403.62,491.00 L403.42,490.00 L403.22,489.00 L403.02,488.00 L402.82,487.00 L402.61,486.00 L402.39,485.00 L402.17,484.00 L401.95,483.00 L401.72,482.00 L401.49,481.00 L401.26,480.00 L401.04,479.00 L400.81,478.00 L400.58,477.00 L400.35,476.00 L400.13,475.00 L399.91,474.00 L399.70,473.00 L399.49,472.00 L399.29,471.00 L399.10,470.00 L398.91,469.00 L398.72,468.00 L398.53,467.00 L398.34,466.00 L398.16,465.00 L397.98,464.00 L397.80,463.00 L397.63,462.00 L397.47,461.00 L397.32,460.00 L397.18,459.00 L397.05,458.00 L396.93,457.00 L396.82,456.00 L396.71,455.00 L396.60,454.00 L396.50,453.00 L396.40,452.00 L396.31,451.00 L396.22,450.00 L396.13,449.00 L396.05,448.00 L395.97,447.00 L395.89,446.00 L395.82,445.00 L395.75,444.00 L395.68,443.00 L395.62,442.00 L395.56,441.00 L395.50,440.00 L395.43,439.00 L395.37,438.00 L395.31,437.00 L395.25,436.00 L395.19,435.00 L395.13,434.00 L395.08,433.00 L395.02,432.00 L394.98,431.00 L394.93,430.00 L394.89,429.00 L394.86,428.00 L394.84,427.00 L394.82,426.00 L394.80,425.00 L394.80,424.00 L394.80,423.00 L394.81,422.00 L394.82,421.00 L394.83,420.00 L394.84,419.00 L394.86,418.00 L394.88,417.00 L394.89,416.00 L394.91,415.00 L394.93,414.00 L394.94,413.00 L394.96,412.00 L394.97,411.00 L394.99,410.00 L394.99,409.00 L395.00,408.00 L395.00,407.00 L395.00,406.00 L395.00,405.00 L394.99,404.00 L394.99,403.00 L394.98,402.00 L394.97,401.00 L394.96,400.00 L394.95,399.00 L394.94,398.00 L394.92,397.00 L394.91,396.00 L394.89,395.00 L394.87,394.00 L394.85,393.00 L394.83,392.00 L394.81,391.00 L394.79,390.00 L394.74,389.00 L394.66,388.00 L394.56,387.00 L394.44,386.00 L394.29,385.00 L394.13,384.00 L393.95,383.00 L393.75,382.00 L393.54,381.00 L393.32,380.00 L393.09,379.00 L392.86,378.00 L392.62,377.00 L392.38,376.00 L392.14,375.00 L391.90,374.00 L391.65,373.00 L391.39,372.00 L391.12,371.00 L390.82,370.00 L390.50,369.00 L390.18,368.00 L389.83,367.00 L389.48,366.00 L389.11,365.00 L388.74,364.00 L388.36,363.00 L387.97,362.00 L387.57,361.00 L387.18,360.00 L386.78,359.00 L386.38,358.00 L385.98,357.00 L385.57,356.00 L385.14,355.00 L384.68,354.00 L384.20,353.00 L383.71,352.00 L383.22,351.00 L382.71,350.00 L382.21,349.00 L381.71,348.00 L381.22,347.00 L380.74,346.00 L380.28,345.00 L379.85,344.00 L379.45,343.00 L379.07,342.00 L378.74,341.00 L378.42,340.00 L378.12,339.00 L377.84,338.00 L377.57,337.00 L377.30,336.00 L377.05,335.00 L376.80,334.00 L376.57,333.00 L376.33,332.00 L376.10,331.00 L375.88,330.00 L375.65,329.00 L375.43,328.00 L375.20,327.00 L374.97,326.00 L374.74,325.00 L374.50,324.00 L374.27,323.00 L374.02,322.00 L373.78,321.00 L373.54,320.00 L373.30,319.00 L373.06,318.00 L372.82,317.00 L372.59,316.00 L372.35,315.00 L372.13,314.00 L371.90,313.00 L371.68,312.00 L371.47,311.00 L371.26,310.00 L371.07,309.00 L370.87,308.00 L370.69,307.00 L370.49,306.00 L370.29,305.00 L370.08,304.00 L369.88,303.00 L369.67,302.00 L369.46,301.00 L369.27,300.00 L369.08,299.00 L368.90,298.00 L368.74,297.00 L368.59,296.00 L368.46,295.00 L368.36,294.00 L368.28,293.00 L368.22,292.00 L368.20,291.00 L368.20,290.00 L368.20,289.00 L368.20,288.00 L368.20,287.00 L368.20,286.00 L368.20,285.00 L368.20,284.00 L368.20,283.00 L368.20,282.00 L368.20,281.00 L368.20,280.00 L368.20,279.00 L368.20,278.00 L368.20,277.00 L368.20,276.00 L368.20,275.00 L368.24,274.00 L368.35,273.00 L368.51,272.00 L368.71,271.00 L368.95,270.00 L369.20,269.00 L369.47,268.00 L369.74,267.00 L370.00,266.00 L370.25,265.00 L370.51,264.00 L370.78,263.00 L371.07,262.00 L371.37,261.00 L371.68,260.00 L372.01,259.00 L372.35,258.00 L372.71,257.00 L373.08,256.00 L373.47,255.00 L373.89,254.00 L374.34,253.00 L374.81,252.00 L375.30,251.00 L375.80,250.00 L376.31,249.00 L376.82,248.00 L377.34,247.00 L377.87,246.00 L378.41,245.00 L378.97,244.00 L379.55,243.00 L380.13,242.00 L380.72,241.00 L381.32,240.00 L381.91,239.00 L382.49,238.00 L383.07,237.00 L383.65,236.00 L384.23,235.00 L384.82,234.00 L385.40,233.00 L385.98,232.00 L386.56,231.00 L387.14,230.00 L387.72,229.00 L388.29,228.00 L388.85,227.00 L389.42,226.00 L389.98,225.00 L390.54,224.00 L391.09,223.00 L391.65,222.00 L392.19,221.00 L392.74,220.00 L393.28,219.00 L393.81,218.00 L394.36,217.00 L394.91,216.00 L395.46,215.00 L396.00,214.00 L396.53,213.00 L397.05,212.00 L397.55,211.00 L398.02,210.00 L398.46,209.00 L398.87,208.00 L399.26,207.00 L399.63,206.00 L399.99,205.00 L400.33,204.00 L400.67,203.00 L401.00,202.00 L401.32,201.00 L401.64,200.00 L401.96,199.00 L402.28,198.00 L402.60,197.00 L402.92,196.00 L403.23,195.00 L403.53,194.00 L403.82,193.00 L404.10,192.00 L404.36,191.00 L404.60,190.00 L404.82,189.00 L405.04,188.00 L405.24,187.00 L405.44,186.00 L405.63,185.00 L405.82,184.00 L406.00,183.00 L406.17,182.00 L406.34,181.00 L406.51,180.00 L406.68,179.00 L406.84,178.00 L407.00,177.00 L407.17,176.00 L407.33,175.00 L407.50,174.00 L407.66,173.00 L407.83,172.00 L407.99,171.00 L408.14,170.00 L408.30,169.00 L408.45,168.00 L408.61,167.00 L408.76,166.00 L408.91,165.00 L409.06,164.00 L409.21,163.00 L409.35,162.00 L409.50,161.00 L409.65,160.00 L409.80,159.00 L409.95,158.00 L410.10,157.00 L410.24,156.00 L410.39,155.00 L410.54,154.00 L410.68,153.00 L410.82,152.00 L410.95,151.00 L411.08,150.00 L411.21,149.00 L411.32,148.00 L411.43,147.00 L411.54,146.00 L411.65,145.00 L411.75,144.00 L411.86,143.00 L411.96,142.00 L412.05,141.00 L412.15,140.00 L412.24,139.00 L412.32,138.00 L412.40,137.00 L412.47,136.00 L412.53,135.00 L412.59,134.00 L412.63,133.00 L412.67,132.00 L412.71,131.00 L412.74,130.00 L412.77,129.00 L412.79,128.00 L412.83,127.00 L412.86,126.00 L412.90,125.00 L412.95,124.00 L413.00,123.00 L413.06,122.00 L413.12,121.00 L413.18,120.00 L413.24,119.00 L413.30,118.00 L413.35,117.00 L413.40,116.00 L413.45,115.00 L413.50,114.00 L413.55,113.00 L413.60,112.00Z" fill="#5841b5" stroke="#4d35ae" stroke-width="1.1"/>
<path d="M528.20,56.00 L528.12,57.00 L528.05,58.00 L527.98,59.00 L527.90,60.00 L527.83,61.00 L527.75,62.00 L527.68,63.00 L527.60,64.00 L527.53,65.00 L527.46,66.00 L527.38,67.00 L527.31,68.00 L527.24,69.00 L527.16,70.00 L527.09,71.00 L527.02,72.00 L526.94,73.00 L526.87,74.00 L526.79,75.00 L526.71,76.00 L526.62,77.00 L526.52,78.00 L526.43,79.00 L526.33,80.00 L526.24,81.00 L526.15,82.00 L526.06,83.00 L525.98,84.00 L525.91,85.00 L525.84,86.00 L525.79,87.00 L525.75,88.00 L525.72,89.00 L525.70,90.00 L525.70,91.00 L525.71,92.00 L525.71,93.00 L525.73,94.00 L525.74,95.00 L525.76,96.00 L525.78,97.00 L525.80,98.00 L525.83,99.00 L525.86,100.00 L525.89,101.00 L525.92,102.00 L525.95,103.00 L525.99,104.00 L526.02,105.00 L526.06,106.00 L526.09,107.00 L526.13,108.00 L526.18,109.00 L526.23,110.00 L526.30,111.00 L526.37,112.00 L526.44,113.00 L526.52,114.00 L526.60,115.00 L526.69,116.00 L526.78,117.00 L526.87,118.00 L526.96,119.00 L527.05,120.00 L527.14,121.00 L527.23,122.00 L527.32,123.00 L527.40,124.00 L527.48,125.00 L527.57,126.00 L527.66,127.00 L527.74,128.00 L527.83,129.00 L527.92,130.00 L528.02,131.00 L528.11,132.00 L528.20,133.00 L528.29,134.00 L528.38,135.00 L528.47,136.00 L528.56,137.00 L528.65,138.00 L528.74,139.00 L528.83,140.00 L528.92,141.00 L529.00,142.00 L529.09,143.00 L529.17,144.00 L529.25,145.00 L529.33,146.00 L529.41,147.00 L529.49,148.00 L529.57,149.00 L529.65,150.00 L529.73,151.00 L529.82,152.00 L529.90,153.00 L529.98,154.00 L530.07,155.00 L530.16,156.00 L530.25,157.00 L530.34,158.00 L530.43,159.00 L530.53,160.00 L530.63,161.00 L530.73,162.00 L530.83,163.00 L530.94,164.00 L531.04,165.00 L531.15,166.00 L531.26,167.00 L531.36,168.00 L531.47,169.00 L531.57,170.00 L531.67,171.00 L531.77,172.00 L531.87,173.00 L531.96,174.00 L532.05,175.00 L532.14,176.00 L532.22,177.00 L532.30,178.00 L532.37,179.00 L532.45,180.00 L532.52,181.00 L532.60,182.00 L532.67,183.00 L532.75,184.00 L532.83,185.00 L532.91,186.00 L533.00,187.00 L533.09,188.00 L533.19,189.00 L533.30,190.00 L533.42,191.00 L533.55,192.00 L533.70,193.00 L533.85,194.00 L534.01,195.00 L534.18,196.00 L534.35,197.00 L534.52,198.00 L534.69,199.00 L534.86,200.00 L535.03,201.00 L535.21,202.00 L535.39,203.00 L535.59,204.00 L535.79,205.00 L536.01,206.00 L536.25,207.00 L536.50,208.00 L536.78,209.00 L537.07,210.00 L537.38,211.00 L537.71,212.00 L538.05,213.00 L538.40,214.00 L538.76,215.00 L539.13,216.00 L539.50,217.00 L539.88,218.00 L540.26,219.00 L540.67,220.00 L541.08,221.00 L541.51,222.00 L541.96,223.00 L542.41,224.00 L542.88,225.00 L543.36,226.00 L543.85,227.00 L544.35,228.00 L544.88,229.00 L545.41,230.00 L545.97,231.00 L546.53,232.00 L547.11,233.00 L547.71,234.00 L548.31,235.00 L548.91,236.00 L549.53,237.00 L550.15,238.00 L550.77,239.00 L551.40,240.00 L552.04,241.00 L552.72,242.00 L553.43,243.00 L554.15,244.00 L554.89,245.00 L555.64,246.00 L556.40,247.00 L557.15,248.00 L557.90,249.00 L558.63,250.00 L559.35,251.00 L560.05,252.00 L560.72,253.00 L561.35,254.00 L561.94,255.00 L562.50,256.00 L563.00,257.00 L563.48,258.00 L563.95,259.00 L564.42,260.00 L564.88,261.00 L565.32,262.00 L565.76,263.00 L566.18,264.00 L566.58,265.00 L566.97,266.00 L567.34,267.00 L567.69,268.00 L568.01,269.00 L568.32,270.00 L568.60,271.00 L568.85,272.00 L569.08,273.00 L569.28,274.00 L569.47,275.00 L569.66,276.00 L569.85,277.00 L570.04,278.00 L570.22,279.00 L570.39,280.00 L570.55,281.00 L570.71,282.00 L570.85,283.00 L570.98,284.00 L571.09,285.00 L571.19,286.00 L571.27,287.00 L571.34,288.00 L571.38,289.00 L571.40,290.00 L571.40,291.00 L571.38,292.00 L571.34,293.00 L571.28,294.00 L571.21,295.00 L571.12,296.00 L571.03,297.00 L570.92,298.00 L570.80,299.00 L570.67,300.00 L570.53,301.00 L570.39,302.00 L570.24,303.00 L570.09,304.00 L569.94,305.00 L569.78,306.00 L569.63,307.00 L569.47,308.00 L569.28,309.00 L569.07,310.00 L568.84,311.00 L568.59,312.00 L568.33,313.00 L568.06,314.00 L567.79,315.00 L567.50,316.00 L567.22,317.00 L566.94,318.00 L566.67,319.00 L566.40,320.00 L566.14,321.00 L565.86,322.00 L565.59,323.00 L565.31,324.00 L565.02,325.00 L564.73,326.00 L564.44,327.00 L564.16,328.00 L563.87,329.00 L563.58,330.00 L563.30,331.00 L563.03,332.00 L562.76,333.00 L562.49,334.00 L562.24,335.00 L561.99,336.00 L561.75,337.00 L561.53,338.00 L561.31,339.00 L561.11,340.00 L560.91,341.00 L560.72,342.00 L560.53,343.00 L560.35,344.00 L560.16,345.00 L559.98,346.00 L559.79,347.00 L559.60,348.00 L559.41,349.00 L559.20,350.00 L558.99,351.00 L558.78,352.00 L558.54,353.00 L558.30,354.00 L558.05,355.00 L557.79,356.00 L557.52,357.00 L557.24,358.00 L556.95,359.00 L556.65,360.00 L556.35,361.00 L556.04,362.00 L555.72,363.00 L555.40,364.00 L555.07,365.00 L554.74,366.00 L554.40,367.00 L554.05,368.00 L553.70,369.00 L553.34,370.00 L552.98,371.00 L552.60,372.00 L552.19,373.00 L551.77,374.00 L551.34,375.00 L550.89,376.00 L550.44,377.00 L549.98,378.00 L549.52,379.00 L549.06,380.00 L548.60,381.00 L548.15,382.00 L547.70,383.00 L547.27,384.00 L546.85,385.00 L546.45,386.00 L546.07,387.00 L545.71,388.00 L545.35,389.00 L544.99,390.00 L544.63,391.00 L544.29,392.00 L543.95,393.00 L543.61,394.00 L543.29,395.00 L542.98,396.00 L542.69,397.00 L542.41,398.00 L542.15,399.00 L541.90,400.00 L541.67,401.00 L541.44,402.00 L541.22,403.00 L541.00,404.00 L540.79,405.00 L540.59,406.00 L540.39,407.00 L540.20,408.00 L540.02,409.00 L539.84,410.00 L539.67,411.00 L539.50,412.00 L539.34,413.00 L539.19,414.00 L539.05,415.00 L538.92,416.00 L538.79,417.00 L538.67,418.00 L538.55,419.00 L538.45,420.00 L538.34,421.00 L538.25,422.00 L538.15,423.00 L538.06,424.00 L537.97,425.00 L537.89,426.00 L537.80,427.00 L537.72,428.00 L537.63,429.00 L537.55,430.00 L537.46,431.00 L537.36,432.00 L537.27,433.00 L537.17,434.00 L537.07,435.00 L536.97,436.00 L536.86,437.00 L536.76,438.00 L536.65,439.00 L536.55,440.00 L536.44,441.00 L536.34,442.00 L536.23,443.00 L536.12,444.00 L536.01,445.00 L535.90,446.00 L535.79,447.00 L535.68,448.00 L535.57,449.00 L535.46,450.00 L535.34,451.00 L535.23,452.00 L535.11,453.00 L535.00,454.00 L534.88,455.00 L534.76,456.00 L534.64,457.00 L534.52,458.00 L534.40,459.00 L534.28,460.00 L534.16,461.00 L534.04,462.00 L533.92,463.00 L533.80,464.00 L533.68,465.00 L533.56,466.00 L533.45,467.00 L533.33,468.00 L533.21,469.00 L533.08,470.00 L532.96,471.00 L532.83,472.00 L532.70,473.00 L532.58,474.00 L532.45,475.00 L532.33,476.00 L532.21,477.00 L532.10,478.00 L531.99,479.00 L531.89,480.00 L531.80,481.00 L531.72,482.00 L531.65,483.00 L531.57,484.00 L531.50,485.00 L531.42,486.00 L531.35,487.00 L531.28,488.00 L531.21,489.00 L531.14,490.00 L531.07,491.00 L531.01,492.00 L530.95,493.00 L530.90,494.00 L530.85,495.00 L530.81,496.00 L530.77,497.00 L530.74,498.00 L530.72,499.00 L530.71,500.00 L530.70,501.00 L530.70,502.00 L530.70,503.00 L530.70,504.00 L530.70,505.00 L530.70,506.00 L530.70,507.00 L530.70,508.00 L530.70,509.00 L530.70,510.00 L530.70,511.00 L530.70,512.00 L530.70,513.00 L530.70,514.00 L530.70,515.00 L530.71,516.00 L530.74,517.00 L530.79,518.00 L530.85,519.00 L530.93,520.00 L531.01,521.00 L531.10,522.00 L531.20,523.00 L531.29,524.00 L531.38,525.00 L531.46,526.00 L531.54,527.00 L531.60,528.00 L531.66,529.00 L531.72,530.00 L531.79,531.00 L531.85,532.00 L531.92,533.00 L531.98,534.00 L532.03,535.00 L532.08,536.00 L532.13,537.00 L532.16,538.00 L532.19,539.00 L532.20,540.00 L532.20,541.00 L532.20,542.00 L532.20,543.00 L532.20,544.00 L532.20,545.00 L532.20,546.00 L532.20,547.00 L532.19,548.00 L532.19,549.00 L532.19,550.00 L532.19,551.00 L532.18,552.00 L532.18,553.00 L532.17,554.00 L532.16,555.00 L532.15,556.00 L532.14,557.00 L532.13,558.00 L532.12,559.00 L532.11,560.00 L532.10,560.50 L516.70,560.50 L516.69,560.00 L516.68,559.00 L516.67,558.00 L516.66,557.00 L516.65,556.00 L516.64,555.00 L516.63,554.00 L516.62,553.00 L516.62,552.00 L516.61,551.00 L516.61,550.00 L516.61,549.00 L516.61,548.00 L516.60,547.00 L516.60,546.00 L516.60,545.00 L516.60,544.00 L516.60,543.00 L516.60,542.00 L516.60,541.00 L516.60,540.00 L516.61,539.00 L516.64,538.00 L516.67,537.00 L516.72,536.00 L516.77,535.00 L516.82,534.00 L516.88,533.00 L516.95,532.00 L517.01,531.00 L517.08,530.00 L517.14,529.00 L517.20,528.00 L517.26,527.00 L517.34,526.00 L517.42,525.00 L517.51,524.00 L517.60,523.00 L517.70,522.00 L517.79,521.00 L517.87,520.00 L517.95,519.00 L518.01,518.00 L518.06,517.00 L518.09,516.00 L518.10,515.00 L518.10,514.00 L518.10,513.00 L518.10,512.00 L518.10,511.00 L518.10,510.00 L518.10,509.00 L518.10,508.00 L518.10,507.00 L518.10,506.00 L518.10,505.00 L518.10,504.00 L518.10,503.00 L518.10,502.00 L518.10,501.00 L518.09,500.00 L518.08,499.00 L518.06,498.00 L518.03,497.00 L517.99,496.00 L517.95,495.00 L517.90,494.00 L517.85,493.00 L517.79,492.00 L517.73,491.00 L517.66,490.00 L517.59,489.00 L517.52,488.00 L517.45,487.00 L517.38,486.00 L517.30,485.00 L517.23,484.00 L517.15,483.00 L517.08,482.00 L517.00,481.00 L516.91,480.00 L516.81,479.00 L516.70,478.00 L516.59,477.00 L516.47,476.00 L516.35,475.00 L516.22,474.00 L516.10,473.00 L515.97,472.00 L515.84,471.00 L515.72,470.00 L515.59,469.00 L515.47,468.00 L515.35,467.00 L515.24,466.00 L515.12,465.00 L515.00,464.00 L514.88,463.00 L514.76,462.00 L514.64,461.00 L514.52,460.00 L514.40,459.00 L514.28,458.00 L514.16,457.00 L514.04,456.00 L513.92,455.00 L513.80,454.00 L513.69,453.00 L513.57,452.00 L513.46,451.00 L513.34,450.00 L513.23,449.00 L513.12,448.00 L513.01,447.00 L512.90,446.00 L512.79,445.00 L512.68,444.00 L512.57,443.00 L512.46,442.00 L512.36,441.00 L512.25,440.00 L512.15,439.00 L512.04,438.00 L511.94,437.00 L511.83,436.00 L511.73,435.00 L511.63,434.00 L511.53,433.00 L511.44,432.00 L511.34,431.00 L511.25,430.00 L511.17,429.00 L511.08,428.00 L511.00,427.00 L510.91,426.00 L510.83,425.00 L510.74,424.00 L510.65,423.00 L510.55,422.00 L510.46,421.00 L510.35,420.00 L510.25,419.00 L510.13,418.00 L510.01,417.00 L509.88,416.00 L509.75,415.00 L509.61,414.00 L509.46,413.00 L509.30,412.00 L509.13,411.00 L508.96,410.00 L508.78,409.00 L508.60,408.00 L508.41,407.00 L508.21,406.00 L508.01,405.00 L507.80,404.00 L507.58,403.00 L507.36,402.00 L507.13,401.00 L506.90,400.00 L506.65,399.00 L506.39,398.00 L506.11,397.00 L505.82,396.00 L505.51,395.00 L505.19,394.00 L504.85,393.00 L504.51,392.00 L504.17,391.00 L503.81,390.00 L503.45,389.00 L503.09,388.00 L502.73,387.00 L502.35,386.00 L501.95,385.00 L501.53,384.00 L501.10,383.00 L500.65,382.00 L500.20,381.00 L499.74,380.00 L499.28,379.00 L498.82,378.00 L498.36,377.00 L497.91,376.00 L497.46,375.00 L497.03,374.00 L496.61,373.00 L496.20,372.00 L495.82,371.00 L495.46,370.00 L495.10,369.00 L494.75,368.00 L494.40,367.00 L494.06,366.00 L493.73,365.00 L493.40,364.00 L493.08,363.00 L492.76,362.00 L492.45,361.00 L492.15,360.00 L491.85,359.00 L491.56,358.00 L491.28,357.00 L491.01,356.00 L490.75,355.00 L490.50,354.00 L490.26,353.00 L490.02,352.00 L489.81,351.00 L489.60,350.00 L489.39,349.00 L489.20,348.00 L489.01,347.00 L488.82,346.00 L488.64,345.00 L488.45,344.00 L488.27,343.00 L488.08,342.00 L487.89,341.00 L487.69,340.00 L487.49,339.00 L487.27,338.00 L487.05,337.00 L486.81,336.00 L486.56,335.00 L486.31,334.00 L486.04,333.00 L485.77,332.00 L485.50,331.00 L485.22,330.00 L484.93,329.00 L484.64,328.00 L484.36,327.00 L484.07,326.00 L483.78,325.00 L483.49,324.00 L483.21,323.00 L482.94,322.00 L482.66,321.00 L482.40,320.00 L482.13,319.00 L481.86,318.00 L481.58,317.00 L481.30,316.00 L481.01,315.00 L480.74,314.00 L480.47,313.00 L480.21,312.00 L479.96,311.00 L479.73,310.00 L479.52,309.00 L479.33,308.00 L479.17,307.00 L479.02,306.00 L478.86,305.00 L478.71,304.00 L478.56,303.00 L478.41,302.00 L478.27,301.00 L478.13,300.00 L478.00,299.00 L477.88,298.00 L477.77,297.00 L477.68,296.00 L477.59,295.00 L477.52,294.00 L477.46,293.00 L477.42,292.00 L477.40,291.00 L477.40,290.00 L477.42,289.00 L477.46,288.00 L477.53,287.00 L477.61,286.00 L477.71,285.00 L477.82,284.00 L477.95,283.00 L478.09,282.00 L478.25,281.00 L478.41,280.00 L478.58,279.00 L478.76,278.00 L478.95,277.00 L479.14,276.00 L479.33,275.00 L479.52,274.00 L479.72,273.00 L479.95,272.00 L480.20,271.00 L480.48,270.00 L480.79,269.00 L481.11,268.00 L481.46,267.00 L481.83,266.00 L482.22,265.00 L482.62,264.00 L483.04,263.00 L483.48,262.00 L483.92,261.00 L484.38,260.00 L484.85,259.00 L485.32,258.00 L485.80,257.00 L486.30,256.00 L486.86,255.00 L487.45,254.00 L488.08,253.00 L488.75,252.00 L489.45,251.00 L490.17,250.00 L490.90,249.00 L491.65,248.00 L492.40,247.00 L493.16,246.00 L493.91,245.00 L494.65,244.00 L495.37,243.00 L496.08,242.00 L496.76,241.00 L497.40,240.00 L498.03,239.00 L498.65,238.00 L499.27,237.00 L499.89,236.00 L500.49,235.00 L501.09,234.00 L501.69,233.00 L502.27,232.00 L502.83,231.00 L503.39,230.00 L503.92,229.00 L504.45,228.00 L504.95,227.00 L505.44,226.00 L505.92,225.00 L506.39,224.00 L506.84,223.00 L507.29,222.00 L507.72,221.00 L508.13,220.00 L508.54,219.00 L508.92,218.00 L509.30,217.00 L509.67,216.00 L510.04,215.00 L510.40,214.00 L510.75,213.00 L511.09,212.00 L511.42,211.00 L511.73,210.00 L512.02,209.00 L512.30,208.00 L512.55,207.00 L512.79,206.00 L513.01,205.00 L513.21,204.00 L513.41,203.00 L513.59,202.00 L513.77,201.00 L513.94,200.00 L514.11,199.00 L514.28,198.00 L514.45,197.00 L514.62,196.00 L514.79,195.00 L514.95,194.00 L515.10,193.00 L515.25,192.00 L515.38,191.00 L515.50,190.00 L515.61,189.00 L515.71,188.00 L515.80,187.00 L515.89,186.00 L515.97,185.00 L516.05,184.00 L516.13,183.00 L516.20,182.00 L516.28,181.00 L516.35,180.00 L516.43,179.00 L516.50,178.00 L516.58,177.00 L516.66,176.00 L516.75,175.00 L516.84,174.00 L516.93,173.00 L517.03,172.00 L517.13,171.00 L517.23,170.00 L517.33,169.00 L517.44,168.00 L517.54,167.00 L517.65,166.00 L517.76,165.00 L517.86,164.00 L517.97,163.00 L518.07,162.00 L518.17,161.00 L518.27,160.00 L518.37,159.00 L518.46,158.00 L518.55,157.00 L518.64,156.00 L518.73,155.00 L518.82,154.00 L518.90,153.00 L518.98,152.00 L519.07,151.00 L519.15,150.00 L519.23,149.00 L519.31,148.00 L519.39,147.00 L519.47,146.00 L519.55,145.00 L519.63,144.00 L519.71,143.00 L519.80,142.00 L519.88,141.00 L519.97,140.00 L520.06,139.00 L520.15,138.00 L520.24,137.00 L520.33,136.00 L520.42,135.00 L520.51,134.00 L520.60,133.00 L520.69,132.00 L520.78,131.00 L520.88,130.00 L520.97,129.00 L521.06,128.00 L521.14,127.00 L521.23,126.00 L521.32,125.00 L521.40,124.00 L521.48,123.00 L521.57,122.00 L521.66,121.00 L521.75,120.00 L521.84,119.00 L521.93,118.00 L522.02,117.00 L522.11,116.00 L522.20,115.00 L522.28,114.00 L522.36,113.00 L522.43,112.00 L522.50,111.00 L522.57,110.00 L522.62,109.00 L522.67,108.00 L522.71,107.00 L522.74,106.00 L522.78,105.00 L522.81,104.00 L522.85,103.00 L522.88,102.00 L522.91,101.00 L522.94,100.00 L522.97,99.00 L523.00,98.00 L523.02,97.00 L523.04,96.00 L523.06,95.00 L523.07,94.00 L523.09,93.00 L523.09,92.00 L523.10,91.00 L523.10,90.00 L523.08,89.00 L523.05,88.00 L523.01,87.00 L522.96,86.00 L522.89,85.00 L522.82,84.00 L522.74,83.00 L522.65,82.00 L522.56,81.00 L522.47,80.00 L522.37,79.00 L522.28,78.00 L522.18,77.00 L522.09,76.00 L522.01,75.00 L521.93,74.00 L521.86,73.00 L521.78,72.00 L521.71,71.00 L521.64,70.00 L521.56,69.00 L521.49,68.00 L521.42,67.00 L521.34,66.00 L521.27,65.00 L521.20,64.00 L521.12,63.00 L521.05,62.00 L520.97,61.00 L520.90,60.00 L520.82,59.00 L520.75,58.00 L520.68,57.00 L520.60,56.00Z" fill="#9a25b2" stroke="#9018ab" stroke-width="1.1"/>
<circle class="d" cx="189.5" cy="184.8" r="3.4"/>
<circle class="d" cx="196.6" cy="184.8" r="3.4"/>
<circle class="d" cx="190.8" cy="198.7" r="3.4"/>
<circle class="d" cx="197.5" cy="195.3" r="3.4"/>
<circle class="d" cx="188.0" cy="217.8" r="3.4"/>
<circle class="d" cx="189.0" cy="246.7" r="3.4"/>
<circle class="d" cx="192.4" cy="251.4" r="3.4"/>
<circle class="d" cx="187.4" cy="259.8" r="3.4"/>
<circle class="d" cx="195.8" cy="260.8" r="3.4"/>
<circle class="d" cx="195.8" cy="279.3" r="3.4"/>
<circle class="d" cx="199.2" cy="284.4" r="3.4"/>
<circle class="d" cx="197.6" cy="282.5" r="3.4"/>
<circle class="d" cx="196.8" cy="306.5" r="3.4"/>
<circle class="d" cx="194.1" cy="326.4" r="3.4"/>
<circle class="d" cx="188.0" cy="333.1" r="3.4"/>
<circle class="d" cx="195.8" cy="440.7" r="3.4"/>
<circle class="d" cx="193.4" cy="441.7" r="3.4"/>
<circle class="d" cx="189.0" cy="452.4" r="3.4"/>
<circle class="d" cx="191.4" cy="462.5" r="3.4"/>
<circle class="d" cx="193.0" cy="298.0" r="3.4"/>
<circle class="d" cx="190.0" cy="300.0" r="3.4"/>
<circle class="d" cx="195.0" cy="296.0" r="3.4"/>
<circle class="d" cx="187.4" cy="260.2" r="3.4"/>
<circle class="d" cx="189.4" cy="200.4" r="3.4"/>
<circle class="d" cx="298.6" cy="196.1" r="3.4"/>
<circle class="d" cx="306.2" cy="195.2" r="3.4"/>
<circle class="d" cx="307.1" cy="205.1" r="3.4"/>
<circle class="d" cx="299.5" cy="217.9" r="3.4"/>
<circle class="d" cx="304.3" cy="218.4" r="3.4"/>
<circle class="d" cx="304.3" cy="219.5" r="3.4"/>
<circle class="d" cx="308.1" cy="229.7" r="3.4"/>
<circle class="d" cx="297.7" cy="236.3" r="3.4"/>
<circle class="d" cx="308.5" cy="236.3" r="3.4"/>
<circle class="d" cx="307.1" cy="241.1" r="3.4"/>
<circle class="d" cx="300.5" cy="247.7" r="3.4"/>
<circle class="d" cx="301.9" cy="250.5" r="3.4"/>
<circle class="d" cx="299.1" cy="251.5" r="3.4"/>
<circle class="d" cx="303.0" cy="249.0" r="3.4"/>
<circle class="d" cx="304.5" cy="295.0" r="3.4"/>
<circle class="d" cx="306.3" cy="268.8" r="3.4"/>
<circle class="d" cx="300.6" cy="294.1" r="3.4"/>
<circle class="d" cx="297.1" cy="292.0" r="3.4"/>
<circle class="d" cx="306.6" cy="278.2" r="3.4"/>
<circle class="d" cx="300.6" cy="270.9" r="3.4"/>
<circle class="d" cx="300.1" cy="277.4" r="3.4"/>
<circle class="d" cx="303.1" cy="281.6" r="3.4"/>
<circle class="d" cx="308.9" cy="290.9" r="3.4"/>
<circle class="d" cx="304.5" cy="298.6" r="3.4"/>
<circle class="d" cx="299.6" cy="266.2" r="3.4"/>
<circle class="d" cx="304.4" cy="261.7" r="3.4"/>
<circle class="d" cx="297.4" cy="280.1" r="3.4"/>
<circle class="d" cx="302.6" cy="295.8" r="3.4"/>
<circle class="d" cx="304.6" cy="280.1" r="3.4"/>
<circle class="d" cx="303.0" cy="269.7" r="3.4"/>
<circle class="d" cx="297.1" cy="267.5" r="3.4"/>
<circle class="d" cx="305.3" cy="267.8" r="3.4"/>
<circle class="d" cx="301.4" cy="260.1" r="3.4"/>
<circle class="d" cx="307.0" cy="266.0" r="3.4"/>
<circle class="d" cx="300.2" cy="294.3" r="3.4"/>
<circle class="d" cx="303.1" cy="293.0" r="3.4"/>
<circle class="d" cx="304.7" cy="288.9" r="3.4"/>
<circle class="d" cx="298.1" cy="281.1" r="3.4"/>
<circle class="d" cx="303.1" cy="294.0" r="3.4"/>
<circle class="d" cx="301.3" cy="283.3" r="3.4"/>
<circle class="d" cx="297.7" cy="275.1" r="3.4"/>
<circle class="d" cx="300.9" cy="265.9" r="3.4"/>
<circle class="d" cx="306.8" cy="274.8" r="3.4"/>
<circle class="d" cx="308.7" cy="283.0" r="3.4"/>
<circle class="d" cx="304.3" cy="284.9" r="3.4"/>
<circle class="d" cx="305.1" cy="265.9" r="3.4"/>
<circle class="d" cx="302.3" cy="269.3" r="3.4"/>
<circle class="d" cx="301.8" cy="263.8" r="3.4"/>
<circle class="d" cx="303.8" cy="305.9" r="3.4"/>
<circle class="d" cx="302.5" cy="307.0" r="3.4"/>
<circle class="d" cx="305.0" cy="304.5" r="3.4"/>
<circle class="d" cx="301.0" cy="317.3" r="3.4"/>
<circle class="d" cx="304.7" cy="319.2" r="3.4"/>
<circle class="d" cx="303.0" cy="316.0" r="3.4"/>
<circle class="d" cx="308.6" cy="327.9" r="3.4"/>
<circle class="d" cx="305.1" cy="329.9" r="3.4"/>
<circle class="d" cx="307.5" cy="338.2" r="3.4"/>
<circle class="d" cx="298.6" cy="342.4" r="3.4"/>
<circle class="d" cx="308.3" cy="343.8" r="3.4"/>
<circle class="d" cx="303.8" cy="326.3" r="3.4"/>
<circle class="d" cx="299.3" cy="344.3" r="3.4"/>
<circle class="d" cx="303.6" cy="327.2" r="3.4"/>
<circle class="d" cx="307.6" cy="337.8" r="3.4"/>
<circle class="d" cx="303.8" cy="331.7" r="3.4"/>
<circle class="d" cx="297.2" cy="352.3" r="3.4"/>
<circle class="d" cx="306.6" cy="350.4" r="3.4"/>
<circle class="d" cx="301.9" cy="355.8" r="3.4"/>
<circle class="d" cx="297.5" cy="366.0" r="3.4"/>
<circle class="d" cx="302.6" cy="360.8" r="3.4"/>
<circle class="d" cx="300.9" cy="364.0" r="3.4"/>
<circle class="d" cx="297.3" cy="358.0" r="3.4"/>
<circle class="d" cx="297.4" cy="354.0" r="3.4"/>
<circle class="d" cx="308.6" cy="362.5" r="3.4"/>
<circle class="d" cx="302.1" cy="360.4" r="3.4"/>
<circle class="d" cx="307.5" cy="357.5" r="3.4"/>
<circle class="d" cx="304.1" cy="362.9" r="3.4"/>
<circle class="d" cx="301.3" cy="360.3" r="3.4"/>
<circle class="d" cx="306.2" cy="366.5" r="3.4"/>
<circle class="d" cx="297.7" cy="379.8" r="3.4"/>
<circle class="d" cx="305.7" cy="379.8" r="3.4"/>
<circle class="d" cx="303.3" cy="391.6" r="3.4"/>
<circle class="d" cx="304.7" cy="390.7" r="3.4"/>
<circle class="d" cx="300.0" cy="407.7" r="3.4"/>
<circle class="d" cx="306.6" cy="408.6" r="3.4"/>
<circle class="d" cx="300.5" cy="418.1" r="3.4"/>
<circle class="d" cx="306.2" cy="422.8" r="3.4"/>
<circle class="d" cx="308.1" cy="422.8" r="3.4"/>
<circle class="d" cx="307.0" cy="423.5" r="3.4"/>
<circle class="d" cx="298.1" cy="436.0" r="3.4"/>
<circle class="d" cx="298.1" cy="437.1" r="3.4"/>
<circle class="d" cx="301.0" cy="447.0" r="3.4"/>
<circle class="d" cx="303.3" cy="448.4" r="3.4"/>
<circle class="d" cx="302.0" cy="447.5" r="3.4"/>
<circle class="d" cx="303.3" cy="462.6" r="3.4"/>
<circle class="d" cx="299.5" cy="476.3" r="3.4"/>
<circle class="d" cx="307.1" cy="479.2" r="3.4"/>
<circle class="d" cx="304.3" cy="484.4" r="3.4"/>
<circle class="d" cx="298.1" cy="484.4" r="3.4"/>
<circle class="d" cx="305.0" cy="484.0" r="3.4"/>
<circle class="d" cx="300.0" cy="511.3" r="3.4"/>
<circle class="d" cx="300.5" cy="528.0" r="3.4"/>
<circle class="d" cx="300.5" cy="533.2" r="3.4"/>
<circle class="d" cx="307.1" cy="554.9" r="3.4"/>
<circle class="d" cx="297.2" cy="561.5" r="3.4"/>
<circle class="d" cx="303.3" cy="563.9" r="3.4"/>
<circle class="d" cx="306.6" cy="561.1" r="3.4"/>
<circle class="d" cx="298.0" cy="636.2" r="3.4"/>
<circle class="d" cx="295.6" cy="293.8" r="3.4"/>
<circle class="d" cx="308.2" cy="283.1" r="3.4"/>
<circle class="d" cx="304.2" cy="264.4" r="3.4"/>
<circle class="d" cx="297.9" cy="352.3" r="3.4"/>
<circle class="d" cx="297.7" cy="367.9" r="3.4"/>
<circle class="d" cx="304.7" cy="298.5" r="3.4"/>
<circle class="d" cx="297.5" cy="266.4" r="3.4"/>
<circle class="d" cx="303.4" cy="354.3" r="3.4"/>
<circle class="d" cx="303.8" cy="287.3" r="3.4"/>
<circle class="d" cx="301.9" cy="359.0" r="3.4"/>
<circle class="d" cx="303.9" cy="267.5" r="3.4"/>
<circle class="d" cx="297.7" cy="265.1" r="3.4"/>
<circle class="d" cx="297.0" cy="269.1" r="3.4"/>
<circle class="d" cx="301.6" cy="267.4" r="3.4"/>
<circle class="d" cx="305.0" cy="281.4" r="3.4"/>
<circle class="d" cx="300.5" cy="267.5" r="3.4"/>
<circle class="d" cx="301.2" cy="363.3" r="3.4"/>
<circle class="d" cx="301.3" cy="268.3" r="3.4"/>
<circle class="d" cx="305.9" cy="294.9" r="3.4"/>
<circle class="d" cx="301.0" cy="276.1" r="3.4"/>
<circle class="d" cx="301.0" cy="295.7" r="3.4"/>
<circle class="d" cx="305.7" cy="293.8" r="3.4"/>
<circle class="d" cx="298.7" cy="270.0" r="3.4"/>
<circle class="d" cx="301.8" cy="265.2" r="3.4"/>
<circle class="d" cx="298.8" cy="265.3" r="3.4"/>
<circle class="d" cx="307.9" cy="365.9" r="3.4"/>
<circle class="d" cx="299.5" cy="295.3" r="3.4"/>
<circle class="d" cx="304.6" cy="268.4" r="3.4"/>
<circle class="d" cx="305.7" cy="262.7" r="3.4"/>
<circle class="d" cx="298.4" cy="275.9" r="3.4"/>
<circle class="d" cx="305.5" cy="330.3" r="3.4"/>
<circle class="d" cx="302.8" cy="284.7" r="3.4"/>
<circle class="d" cx="298.8" cy="353.3" r="3.4"/>
<circle class="d" cx="305.7" cy="267.4" r="3.4"/>
<circle class="d" cx="301.9" cy="562.9" r="3.4"/>
<circle class="d" cx="295.4" cy="269.0" r="3.4"/>
<circle class="d" cx="302.9" cy="284.9" r="3.4"/>
<circle class="d" cx="307.0" cy="277.2" r="3.4"/>
<circle class="d" cx="304.8" cy="269.0" r="3.4"/>
<circle class="d" cx="303.6" cy="285.5" r="3.4"/>
<circle class="d" cx="295.7" cy="266.8" r="3.4"/>
<circle class="d" cx="303.1" cy="258.6" r="3.4"/>
<circle class="d" cx="412.9" cy="145.1" r="3.4"/>
<circle class="d" cx="413.2" cy="145.6" r="3.4"/>
<circle class="d" cx="410.0" cy="185.8" r="3.4"/>
<circle class="d" cx="411.9" cy="184.8" r="3.4"/>
<circle class="d" cx="418.1" cy="188.2" r="3.4"/>
<circle class="d" cx="418.3" cy="188.6" r="3.4"/>
<circle class="d" cx="411.4" cy="198.1" r="3.4"/>
<circle class="d" cx="411.9" cy="205.2" r="3.4"/>
<circle class="d" cx="409.5" cy="217.0" r="3.4"/>
<circle class="d" cx="417.6" cy="216.5" r="3.4"/>
<circle class="d" cx="413.5" cy="54.8" r="3.4"/>
<circle class="d" cx="408.3" cy="238.7" r="3.4"/>
<circle class="d" cx="406.1" cy="235.1" r="3.4"/>
<circle class="d" cx="418.2" cy="222.7" r="3.4"/>
<circle class="d" cx="412.3" cy="236.3" r="3.4"/>
<circle class="d" cx="406.2" cy="232.6" r="3.4"/>
<circle class="d" cx="417.9" cy="230.3" r="3.4"/>
<circle class="d" cx="416.9" cy="224.5" r="3.4"/>
<circle class="d" cx="409.0" cy="227.3" r="3.4"/>
<circle class="d" cx="408.7" cy="285.7" r="3.4"/>
<circle class="d" cx="420.2" cy="315.7" r="3.4"/>
<circle class="d" cx="411.1" cy="275.8" r="3.4"/>
<circle class="d" cx="420.3" cy="298.7" r="3.4"/>
<circle class="d" cx="420.7" cy="308.0" r="3.4"/>
<circle class="d" cx="413.8" cy="358.3" r="3.4"/>
<circle class="d" cx="417.1" cy="316.6" r="3.4"/>
<circle class="d" cx="412.4" cy="355.9" r="3.4"/>
<circle class="d" cx="412.2" cy="361.8" r="3.4"/>
<circle class="d" cx="407.0" cy="296.8" r="3.4"/>
<circle class="d" cx="413.8" cy="365.5" r="3.4"/>
<circle class="d" cx="409.8" cy="346.4" r="3.4"/>
<circle class="d" cx="416.1" cy="334.7" r="3.4"/>
<circle class="d" cx="415.4" cy="368.2" r="3.4"/>
<circle class="d" cx="411.0" cy="292.6" r="3.4"/>
<circle class="d" cx="409.0" cy="246.7" r="3.4"/>
<circle class="d" cx="409.2" cy="360.8" r="3.4"/>
<circle class="d" cx="418.6" cy="254.8" r="3.4"/>
<circle class="d" cx="415.1" cy="303.3" r="3.4"/>
<circle class="d" cx="414.9" cy="327.0" r="3.4"/>
<circle class="d" cx="410.6" cy="366.9" r="3.4"/>
<circle class="d" cx="413.0" cy="322.9" r="3.4"/>
<circle class="d" cx="415.5" cy="264.3" r="3.4"/>
<circle class="d" cx="406.9" cy="294.3" r="3.4"/>
<circle class="d" cx="417.5" cy="347.6" r="3.4"/>
<circle class="d" cx="416.9" cy="254.9" r="3.4"/>
<circle class="d" cx="419.7" cy="345.9" r="3.4"/>
<circle class="d" cx="419.2" cy="309.1" r="3.4"/>
<circle class="d" cx="419.7" cy="246.2" r="3.4"/>
<circle class="d" cx="406.5" cy="242.7" r="3.4"/>
<circle class="d" cx="409.8" cy="272.8" r="3.4"/>
<circle class="d" cx="408.8" cy="314.9" r="3.4"/>
<circle class="d" cx="406.6" cy="317.9" r="3.4"/>
<circle class="d" cx="408.5" cy="329.5" r="3.4"/>
<circle class="d" cx="406.3" cy="281.0" r="3.4"/>
<circle class="d" cx="420.1" cy="311.1" r="3.4"/>
<circle class="d" cx="418.2" cy="326.9" r="3.4"/>
<circle class="d" cx="415.2" cy="265.2" r="3.4"/>
<circle class="d" cx="414.6" cy="245.2" r="3.4"/>
<circle class="d" cx="418.0" cy="366.7" r="3.4"/>
<circle class="d" cx="418.8" cy="246.7" r="3.4"/>
<circle class="d" cx="411.1" cy="282.0" r="3.4"/>
<circle class="d" cx="407.7" cy="322.7" r="3.4"/>
<circle class="d" cx="418.0" cy="281.4" r="3.4"/>
<circle class="d" cx="418.9" cy="345.2" r="3.4"/>
<circle class="d" cx="407.9" cy="341.2" r="3.4"/>
<circle class="d" cx="419.2" cy="266.0" r="3.4"/>
<circle class="d" cx="414.6" cy="324.3" r="3.4"/>
<circle class="d" cx="415.1" cy="252.7" r="3.4"/>
<circle class="d" cx="415.9" cy="323.4" r="3.4"/>
<circle class="d" cx="418.4" cy="346.1" r="3.4"/>
<circle class="d" cx="410.9" cy="335.3" r="3.4"/>
<circle class="d" cx="419.0" cy="357.9" r="3.4"/>
<circle class="d" cx="408.4" cy="243.5" r="3.4"/>
<circle class="d" cx="415.8" cy="268.3" r="3.4"/>
<circle class="d" cx="414.5" cy="364.7" r="3.4"/>
<circle class="d" cx="411.7" cy="273.4" r="3.4"/>
<circle class="d" cx="412.8" cy="326.8" r="3.4"/>
<circle class="d" cx="407.5" cy="290.2" r="3.4"/>
<circle class="d" cx="408.0" cy="327.4" r="3.4"/>
<circle class="d" cx="418.5" cy="289.7" r="3.4"/>
<circle class="d" cx="411.6" cy="311.2" r="3.4"/>
<circle class="d" cx="409.2" cy="272.7" r="3.4"/>
<circle class="d" cx="410.9" cy="300.4" r="3.4"/>
<circle class="d" cx="407.2" cy="339.4" r="3.4"/>
<circle class="d" cx="414.7" cy="279.6" r="3.4"/>
<circle class="d" cx="407.2" cy="340.7" r="3.4"/>
<circle class="d" cx="408.0" cy="257.6" r="3.4"/>
<circle class="d" cx="408.0" cy="250.7" r="3.4"/>
<circle class="d" cx="419.6" cy="275.5" r="3.4"/>
<circle class="d" cx="410.6" cy="349.9" r="3.4"/>
<circle class="d" cx="415.3" cy="264.7" r="3.4"/>
<circle class="d" cx="412.5" cy="356.7" r="3.4"/>
<circle class="d" cx="411.6" cy="333.8" r="3.4"/>
<circle class="d" cx="407.5" cy="336.0" r="3.4"/>
<circle class="d" cx="417.6" cy="349.0" r="3.4"/>
<circle class="d" cx="416.1" cy="288.9" r="3.4"/>
<circle class="d" cx="407.0" cy="308.5" r="3.4"/>
<circle class="d" cx="417.4" cy="265.2" r="3.4"/>
<circle class="d" cx="410.0" cy="310.8" r="3.4"/>
<circle class="d" cx="417.2" cy="358.3" r="3.4"/>
<circle class="d" cx="407.9" cy="264.3" r="3.4"/>
<circle class="d" cx="418.0" cy="325.1" r="3.4"/>
<circle class="d" cx="416.8" cy="371.6" r="3.4"/>
<circle class="d" cx="420.1" cy="351.3" r="3.4"/>
<circle class="d" cx="417.7" cy="292.1" r="3.4"/>
<circle class="d" cx="415.6" cy="264.3" r="3.4"/>
<circle class="d" cx="417.4" cy="340.0" r="3.4"/>
<circle class="d" cx="416.8" cy="298.7" r="3.4"/>
<circle class="d" cx="411.7" cy="295.4" r="3.4"/>
<circle class="d" cx="406.5" cy="351.5" r="3.4"/>
<circle class="d" cx="414.1" cy="291.2" r="3.4"/>
<circle class="d" cx="414.2" cy="335.3" r="3.4"/>
<circle class="d" cx="411.7" cy="349.6" r="3.4"/>
<circle class="d" cx="419.8" cy="291.1" r="3.4"/>
<circle class="d" cx="408.1" cy="340.4" r="3.4"/>
<circle class="d" cx="420.9" cy="259.5" r="3.4"/>
<circle class="d" cx="416.7" cy="348.9" r="3.4"/>
<circle class="d" cx="419.8" cy="256.3" r="3.4"/>
<circle class="d" cx="407.4" cy="370.4" r="3.4"/>
<circle class="d" cx="407.8" cy="263.3" r="3.4"/>
<circle class="d" cx="414.6" cy="298.9" r="3.4"/>
<circle class="d" cx="417.3" cy="265.2" r="3.4"/>
<circle class="d" cx="419.7" cy="268.7" r="3.4"/>
<circle class="d" cx="417.5" cy="248.9" r="3.4"/>
<circle class="d" cx="413.1" cy="244.3" r="3.4"/>
<circle class="d" cx="410.7" cy="281.2" r="3.4"/>
<circle class="d" cx="416.8" cy="300.1" r="3.4"/>
<circle class="d" cx="406.9" cy="371.4" r="3.4"/>
<circle class="d" cx="419.3" cy="361.0" r="3.4"/>
<circle class="d" cx="409.7" cy="292.0" r="3.4"/>
<circle class="d" cx="409.4" cy="256.5" r="3.4"/>
<circle class="d" cx="406.5" cy="306.4" r="3.4"/>
<circle class="d" cx="407.8" cy="263.3" r="3.4"/>
<circle class="d" cx="418.9" cy="303.9" r="3.4"/>
<circle class="d" cx="408.8" cy="328.4" r="3.4"/>
<circle class="d" cx="410.0" cy="309.6" r="3.4"/>
<circle class="d" cx="410.2" cy="308.1" r="3.4"/>
<circle class="d" cx="415.4" cy="310.8" r="3.4"/>
<circle class="d" cx="411.9" cy="344.4" r="3.4"/>
<circle class="d" cx="419.1" cy="263.7" r="3.4"/>
<circle class="d" cx="408.0" cy="254.9" r="3.4"/>
<circle class="d" cx="420.7" cy="364.3" r="3.4"/>
<circle class="d" cx="409.5" cy="368.0" r="3.4"/>
<circle class="d" cx="409.1" cy="306.9" r="3.4"/>
<circle class="d" cx="413.5" cy="360.8" r="3.4"/>
<circle class="d" cx="406.6" cy="281.6" r="3.4"/>
<circle class="d" cx="415.0" cy="248.8" r="3.4"/>
<circle class="d" cx="409.5" cy="301.4" r="3.4"/>
<circle class="d" cx="419.2" cy="340.4" r="3.4"/>
<circle class="d" cx="418.4" cy="340.5" r="3.4"/>
<circle class="d" cx="416.6" cy="352.2" r="3.4"/>
<circle class="d" cx="416.2" cy="337.1" r="3.4"/>
<circle class="d" cx="410.5" cy="262.1" r="3.4"/>
<circle class="d" cx="417.3" cy="261.9" r="3.4"/>
<circle class="d" cx="419.8" cy="318.8" r="3.4"/>
<circle class="d" cx="410.9" cy="363.6" r="3.4"/>
<circle class="d" cx="408.3" cy="307.9" r="3.4"/>
<circle class="d" cx="407.4" cy="367.4" r="3.4"/>
<circle class="d" cx="414.6" cy="346.1" r="3.4"/>
<circle class="d" cx="410.2" cy="345.8" r="3.4"/>
<circle class="d" cx="416.5" cy="325.0" r="3.4"/>
<circle class="d" cx="420.3" cy="297.2" r="3.4"/>
<circle class="d" cx="412.2" cy="331.4" r="3.4"/>
<circle class="d" cx="418.5" cy="284.2" r="3.4"/>
<circle class="d" cx="416.0" cy="267.6" r="3.4"/>
<circle class="d" cx="414.3" cy="341.5" r="3.4"/>
<circle class="d" cx="407.0" cy="336.1" r="3.4"/>
<circle class="d" cx="406.2" cy="366.5" r="3.4"/>
<circle class="d" cx="413.0" cy="294.0" r="3.4"/>
<circle class="d" cx="413.8" cy="380.3" r="3.4"/>
<circle class="d" cx="413.0" cy="389.0" r="3.4"/>
<circle class="d" cx="411.0" cy="392.6" r="3.4"/>
<circle class="d" cx="418.5" cy="392.6" r="3.4"/>
<circle class="d" cx="407.2" cy="401.1" r="3.4"/>
<circle class="d" cx="414.7" cy="401.1" r="3.4"/>
<circle class="d" cx="420.4" cy="401.5" r="3.4"/>
<circle class="d" cx="412.9" cy="408.2" r="3.4"/>
<circle class="d" cx="413.3" cy="408.8" r="3.4"/>
<circle class="d" cx="408.6" cy="418.6" r="3.4"/>
<circle class="d" cx="418.1" cy="416.7" r="3.4"/>
<circle class="d" cx="417.1" cy="424.2" r="3.4"/>
<circle class="d" cx="417.5" cy="423.5" r="3.4"/>
<circle class="d" cx="413.3" cy="436.1" r="3.4"/>
<circle class="d" cx="419.0" cy="434.6" r="3.4"/>
<circle class="d" cx="408.1" cy="446.5" r="3.4"/>
<circle class="d" cx="415.7" cy="446.5" r="3.4"/>
<circle class="d" cx="419.5" cy="445.5" r="3.4"/>
<circle class="d" cx="412.0" cy="450.0" r="3.4"/>
<circle class="d" cx="413.0" cy="449.0" r="3.4"/>
<circle class="d" cx="407.2" cy="458.8" r="3.4"/>
<circle class="d" cx="412.9" cy="458.8" r="3.4"/>
<circle class="d" cx="418.1" cy="459.2" r="3.4"/>
<circle class="d" cx="411.9" cy="473.9" r="3.4"/>
<circle class="d" cx="411.9" cy="477.1" r="3.4"/>
<circle class="d" cx="412.5" cy="477.8" r="3.4"/>
<circle class="d" cx="411.2" cy="476.5" r="3.4"/>
<circle class="d" cx="410.5" cy="511.6" r="3.4"/>
<circle class="d" cx="414.3" cy="527.7" r="3.4"/>
<circle class="d" cx="410.5" cy="535.2" r="3.4"/>
<circle class="d" cx="418.5" cy="535.2" r="3.4"/>
<circle class="d" cx="411.9" cy="555.1" r="3.4"/>
<circle class="d" cx="418.5" cy="555.6" r="3.4"/>
<circle class="d" cx="407.9" cy="564.2" r="3.4"/>
<circle class="d" cx="418.9" cy="564.2" r="3.4"/>
<circle class="d" cx="413.8" cy="637.0" r="3.4"/>
<circle class="d" cx="414.2" cy="637.3" r="3.4"/>
<circle class="d" cx="413.4" cy="636.7" r="3.4"/>
<circle class="d" cx="416.4" cy="336.5" r="3.4"/>
<circle class="d" cx="411.0" cy="344.1" r="3.4"/>
<circle class="d" cx="410.3" cy="300.0" r="3.4"/>
<circle class="d" cx="405.6" cy="337.2" r="3.4"/>
<circle class="d" cx="410.0" cy="329.5" r="3.4"/>
<circle class="d" cx="409.1" cy="340.2" r="3.4"/>
<circle class="d" cx="410.2" cy="366.9" r="3.4"/>
<circle class="d" cx="415.6" cy="253.1" r="3.4"/>
<circle class="d" cx="418.5" cy="366.2" r="3.4"/>
<circle class="d" cx="414.6" cy="312.0" r="3.4"/>
<circle class="d" cx="407.4" cy="341.4" r="3.4"/>
<circle class="d" cx="417.0" cy="327.0" r="3.4"/>
<circle class="d" cx="410.3" cy="292.8" r="3.4"/>
<circle class="d" cx="412.4" cy="359.5" r="3.4"/>
<circle class="d" cx="409.7" cy="308.5" r="3.4"/>
<circle class="d" cx="411.1" cy="345.0" r="3.4"/>
<circle class="d" cx="415.5" cy="364.3" r="3.4"/>
<circle class="d" cx="417.0" cy="265.0" r="3.4"/>
<circle class="d" cx="412.2" cy="345.5" r="3.4"/>
<circle class="d" cx="412.8" cy="354.9" r="3.4"/>
<circle class="d" cx="418.7" cy="340.8" r="3.4"/>
<circle class="d" cx="415.0" cy="250.3" r="3.4"/>
<circle class="d" cx="410.7" cy="360.3" r="3.4"/>
<circle class="d" cx="415.9" cy="368.1" r="3.4"/>
<circle class="d" cx="412.0" cy="348.5" r="3.4"/>
<circle class="d" cx="407.7" cy="340.5" r="3.4"/>
<circle class="d" cx="415.9" cy="265.2" r="3.4"/>
<circle class="d" cx="416.0" cy="259.9" r="3.4"/>
<circle class="d" cx="413.6" cy="367.4" r="3.4"/>
<circle class="d" cx="528.9" cy="54.8" r="3.4"/>
<circle class="d" cx="527.2" cy="145.5" r="3.4"/>
<circle class="d" cx="519.1" cy="186.1" r="3.4"/>
<circle class="d" cx="519.3" cy="186.6" r="3.4"/>
<circle class="d" cx="523.4" cy="226.3" r="3.4"/>
<circle class="d" cx="529.1" cy="225.9" r="3.4"/>
<circle class="d" cx="523.9" cy="231.1" r="3.4"/>
<circle class="d" cx="519.6" cy="247.1" r="3.4"/>
<circle class="d" cx="528.1" cy="247.1" r="3.4"/>
<circle class="d" cx="521.5" cy="254.2" r="3.4"/>
<circle class="d" cx="519.1" cy="263.2" r="3.4"/>
<circle class="d" cx="527.2" cy="263.7" r="3.4"/>
<circle class="d" cx="528.6" cy="264.2" r="3.4"/>
<circle class="d" cx="528.2" cy="263.4" r="3.4"/>
<circle class="d" cx="519.1" cy="267.8" r="3.4"/>
<circle class="d" cx="527.6" cy="265.9" r="3.4"/>
<circle class="d" cx="520.1" cy="274.5" r="3.4"/>
<circle class="d" cx="527.6" cy="274.5" r="3.4"/>
<circle class="d" cx="522.9" cy="279.2" r="3.4"/>
<circle class="d" cx="519.1" cy="284.9" r="3.4"/>
<circle class="d" cx="519.1" cy="292.4" r="3.4"/>
<circle class="d" cx="527.6" cy="293.4" r="3.4"/>
<circle class="d" cx="522.9" cy="296.2" r="3.4"/>
<circle class="d" cx="521.5" cy="304.7" r="3.4"/>
<circle class="d" cx="518.2" cy="313.2" r="3.4"/>
<circle class="d" cx="526.7" cy="313.2" r="3.4"/>
<circle class="d" cx="521.0" cy="320.0" r="3.4"/>
<circle class="d" cx="527.0" cy="326.0" r="3.4"/>
<circle class="d" cx="523.0" cy="330.0" r="3.4"/>
<circle class="d" cx="522.9" cy="335.9" r="3.4"/>
<circle class="d" cx="519.1" cy="343.5" r="3.4"/>
<circle class="d" cx="529.1" cy="343.5" r="3.4"/>
<circle class="d" cx="522.0" cy="356.6" r="3.4"/>
<circle class="d" cx="528.6" cy="356.6" r="3.4"/>
<circle class="d" cx="523.9" cy="361.8" r="3.4"/>
<circle class="d" cx="524.5" cy="361.2" r="3.4"/>
<circle class="d" cx="525.0" cy="362.5" r="3.4"/>
<circle class="d" cx="518.2" cy="367.0" r="3.4"/>
<circle class="d" cx="529.1" cy="367.0" r="3.4"/>
<circle class="d" cx="525.7" cy="362.3" r="3.4"/>
<circle class="d" cx="527.2" cy="390.7" r="3.4"/>
<circle class="d" cx="527.5" cy="391.2" r="3.4"/>
<circle class="d" cx="525.7" cy="417.1" r="3.4"/>
<circle class="d" cx="526.7" cy="424.7" r="3.4"/>
<circle class="d" cx="520.1" cy="436.5" r="3.4"/>
<circle class="d" cx="529.1" cy="436.5" r="3.4"/>
<circle class="d" cx="520.1" cy="437.8" r="3.4"/>
<circle class="d" cx="528.6" cy="437.8" r="3.4"/>
<circle class="d" cx="522.9" cy="452.5" r="3.4"/>
<circle class="d" cx="522.9" cy="458.6" r="3.4"/>
<circle class="d" cx="526.7" cy="477.1" r="3.4"/>
<circle class="d" cx="526.8" cy="511.5" r="3.4"/>
<circle class="d" cx="528.9" cy="533.3" r="3.4"/>
<circle class="d" cx="523.0" cy="555.5" r="3.4"/>
<circle class="d" cx="523.5" cy="555.8" r="3.4"/>
<circle class="d" cx="528.9" cy="562.2" r="3.4"/>
<circle class="d" cx="521.1" cy="263.3" r="3.4"/>
<circle class="d" cx="527.9" cy="262.2" r="3.4"/>
<circle class="d" cx="525.2" cy="361.7" r="3.4"/>
<circle class="d" cx="524.4" cy="280.3" r="3.4"/>
<circle class="d" cx="521.6" cy="357.5" r="3.4"/>
<circle class="d" cx="518.4" cy="436.4" r="3.4"/>
<circle class="d" cx="527.0" cy="324.3" r="3.4"/>
<circle class="d" cx="518.0" cy="262.7" r="3.4"/>
</g>
<line x1="413.6" y1="58" x2="413.6" y2="110" stroke="#5841b5" stroke-opacity="0.12" stroke-width="1.2"/>
<line x1="192.2" y1="257" x2="192.2" y2="340" stroke="#c0c0c0" stroke-opacity="0.55" stroke-width="1.1"/>
<line x1="303.0" y1="316" x2="303.0" y2="352" stroke="#c0c0c0" stroke-opacity="0.55" stroke-width="1.1"/>
<line x1="413.6" y1="321" x2="413.6" y2="349" stroke="#c0c0c0" stroke-opacity="0.55" stroke-width="1.1"/>
<line x1="524.4" y1="297" x2="524.4" y2="348" stroke="#c0c0c0" stroke-opacity="0.55" stroke-width="1.1"/>
<polyline points="192.2,298.4 303.0,334.7 413.6,334.8 524.4,323.2" fill="none" stroke="#000" stroke-width="2.9" stroke-linejoin="round"/>
<circle cx="192.2" cy="298.4" r="8.2" fill="#bcbcbc" fill-opacity="0.58" stroke="#d0ccc8" stroke-opacity="0.9" stroke-width="1.8"/>
<circle cx="303.0" cy="334.7" r="8.2" fill="#bcbcbc" fill-opacity="0.58" stroke="#d0ccc8" stroke-opacity="0.9" stroke-width="1.8"/>
<circle cx="413.6" cy="334.8" r="8.2" fill="#bcbcbc" fill-opacity="0.58" stroke="#d0ccc8" stroke-opacity="0.9" stroke-width="1.8"/>
<circle cx="524.4" cy="323.2" r="8.2" fill="#bcbcbc" fill-opacity="0.58" stroke="#d0ccc8" stroke-opacity="0.9" stroke-width="1.8"/>
<path d="M126,22.7 V727.3 H590.5" fill="none" stroke="#4a4a4a" stroke-width="2.2" stroke-linejoin="miter"/>
<text x="117.5" y="97.3" text-anchor="end" font-size="20" fill="#606060" stroke="#606060" font-family="Liberation Sans, sans-serif">0</text>
<text x="117.5" y="285.8" text-anchor="end" font-size="20" fill="#606060" stroke="#606060" font-family="Liberation Sans, sans-serif">-1</text>
<text x="117.5" y="474.3" text-anchor="end" font-size="20" fill="#606060" stroke="#606060" font-family="Liberation Sans, sans-serif">-2</text>
<text x="117.5" y="662.8" text-anchor="end" font-size="20" fill="#606060" stroke="#606060" font-family="Liberation Sans, sans-serif">-3</text>
<text x="192.2" y="702.8" text-anchor="middle" font-size="20" fill="#222" stroke="#222" font-family="Liberation Sans, sans-serif">n=24</text>
<text x="303.0" y="702.8" text-anchor="middle" font-size="20" fill="#222" stroke="#222" font-family="Liberation Sans, sans-serif">n=149</text>
<text x="413.6" y="702.8" text-anchor="middle" font-size="20" fill="#222" stroke="#222" font-family="Liberation Sans, sans-serif">n=236</text>
<text x="524.4" y="702.8" text-anchor="middle" font-size="20" fill="#222" stroke="#222" font-family="Liberation Sans, sans-serif">n=64</text>
<text x="207.0" y="815.3" transform="rotate(-90 207.0 815.3)" text-anchor="middle" font-size="20.6" fill="#606060" stroke="#606060" font-family="Liberation Sans, sans-serif">Unpublishable</text>
<text x="317.8" y="815.3" transform="rotate(-90 317.8 815.3)" text-anchor="middle" font-size="20.6" fill="#606060" stroke="#606060" font-family="Liberation Sans, sans-serif">Major Revision</text>
<text x="428.4" y="815.3" transform="rotate(-90 428.4 815.3)" text-anchor="middle" font-size="20.6" fill="#606060" stroke="#606060" font-family="Liberation Sans, sans-serif">Minor Revision</text>
<text x="539.2" y="815.3" transform="rotate(-90 539.2 815.3)" text-anchor="middle" font-size="20.6" fill="#606060" stroke="#606060" font-family="Liberation Sans, sans-serif">Publishable As Is</text>
<text x="358" y="943.5" text-anchor="middle" font-size="22.2" fill="#1a1a1a" stroke="#1a1a1a" font-family="Liberation Sans, sans-serif">Categorical Peer Review Rating</text>
<text x="35.5" y="376.5" transform="rotate(-90 35.5 376.5)" text-anchor="middle" font-size="22.2" fill="#1a1a1a" stroke="#1a1a1a" font-family="Liberation Sans, sans-serif">Deviation from</text>
<text x="60.2" y="376.5" transform="rotate(-90 60.2 376.5)" text-anchor="middle" font-size="22.2" fill="#1a1a1a" stroke="#1a1a1a" font-family="Liberation Sans, sans-serif">Meta-Analytic Mean Effect Size</text>
<g filter="url(#bl)">
<path d="M803.60,55.70 L803.59,56.70 L803.59,57.70 L803.58,58.70 L803.57,59.70 L803.55,60.70 L803.54,61.70 L803.53,62.70 L803.51,63.70 L803.50,64.70 L803.48,65.70 L803.46,66.70 L803.45,67.70 L803.43,68.70 L803.41,69.70 L803.39,70.70 L803.37,71.70 L803.35,72.70 L803.33,73.70 L803.31,74.70 L803.28,75.70 L803.26,76.70 L803.23,77.70 L803.21,78.70 L803.18,79.70 L803.15,80.70 L803.11,81.70 L803.08,82.70 L803.05,83.70 L803.01,84.70 L802.97,85.70 L802.94,86.70 L802.90,87.70 L802.86,88.70 L802.82,89.70 L802.78,90.70 L802.74,91.70 L802.69,92.70 L802.65,93.70 L802.61,94.70 L802.57,95.70 L802.53,96.70 L802.48,97.70 L802.44,98.70 L802.39,99.70 L802.35,100.70 L802.30,101.70 L802.25,102.70 L802.20,103.70 L802.15,104.70 L802.10,105.70 L802.05,106.70 L802.00,107.70 L801.94,108.70 L801.89,109.70 L801.84,110.70 L801.78,111.70 L801.73,112.70 L801.67,113.70 L801.62,114.70 L801.56,115.70 L801.51,116.70 L801.45,117.70 L801.39,118.70 L801.33,119.70 L801.27,120.70 L801.21,121.70 L801.15,122.70 L801.09,123.70 L801.03,124.70 L800.96,125.70 L800.89,126.70 L800.82,127.70 L800.75,128.70 L800.67,129.70 L800.59,130.70 L800.50,131.70 L800.42,132.70 L800.33,133.70 L800.30,134.00 L800.30,134.00 L800.27,133.70 L800.18,132.70 L800.10,131.70 L800.01,130.70 L799.93,129.70 L799.85,128.70 L799.78,127.70 L799.71,126.70 L799.64,125.70 L799.57,124.70 L799.51,123.70 L799.45,122.70 L799.39,121.70 L799.33,120.70 L799.27,119.70 L799.21,118.70 L799.15,117.70 L799.09,116.70 L799.04,115.70 L798.98,114.70 L798.93,113.70 L798.87,112.70 L798.82,111.70 L798.76,110.70 L798.71,109.70 L798.66,108.70 L798.60,107.70 L798.55,106.70 L798.50,105.70 L798.45,104.70 L798.40,103.70 L798.35,102.70 L798.30,101.70 L798.25,100.70 L798.21,99.70 L798.16,98.70 L798.12,97.70 L798.07,96.70 L798.03,95.70 L797.99,94.70 L797.95,93.70 L797.91,92.70 L797.86,91.70 L797.82,90.70 L797.78,89.70 L797.74,88.70 L797.70,87.70 L797.66,86.70 L797.63,85.70 L797.59,84.70 L797.55,83.70 L797.52,82.70 L797.49,81.70 L797.45,80.70 L797.42,79.70 L797.39,78.70 L797.37,77.70 L797.34,76.70 L797.32,75.70 L797.29,74.70 L797.27,73.70 L797.25,72.70 L797.23,71.70 L797.21,70.70 L797.19,69.70 L797.17,68.70 L797.15,67.70 L797.14,66.70 L797.12,65.70 L797.10,64.70 L797.09,63.70 L797.07,62.70 L797.06,61.70 L797.05,60.70 L797.03,59.70 L797.02,58.70 L797.01,57.70 L797.01,56.70 L797.00,55.70Z M800.30,195.00 L800.41,196.00 L800.53,197.00 L800.64,198.00 L800.74,199.00 L800.85,200.00 L800.96,201.00 L801.06,202.00 L801.16,203.00 L801.26,204.00 L801.36,205.00 L801.45,206.00 L801.55,207.00 L801.64,208.00 L801.73,209.00 L801.83,210.00 L801.92,211.00 L802.02,212.00 L802.11,213.00 L802.21,214.00 L802.30,215.00 L802.40,216.00 L802.49,217.00 L802.58,218.00 L802.67,219.00 L802.76,220.00 L802.85,221.00 L802.95,222.00 L803.05,223.00 L803.15,224.00 L803.27,225.00 L803.41,226.00 L803.55,227.00 L803.70,228.00 L803.86,229.00 L804.02,230.00 L804.18,231.00 L804.33,232.00 L804.47,233.00 L804.62,234.00 L804.76,235.00 L804.90,236.00 L805.05,237.00 L805.21,238.00 L805.38,239.00 L805.57,240.00 L805.78,241.00 L806.01,242.00 L806.25,243.00 L806.49,244.00 L806.74,245.00 L806.98,246.00 L807.22,247.00 L807.46,248.00 L807.70,249.00 L807.95,250.00 L808.20,251.00 L808.45,252.00 L808.70,253.00 L808.95,254.00 L809.21,255.00 L809.47,256.00 L809.73,257.00 L809.99,258.00 L810.25,259.00 L810.50,260.00 L810.75,261.00 L810.99,262.00 L811.22,263.00 L811.44,264.00 L811.67,265.00 L811.89,266.00 L812.11,267.00 L812.33,268.00 L812.56,269.00 L812.80,270.00 L813.05,271.00 L813.29,272.00 L813.54,273.00 L813.80,274.00 L814.06,275.00 L814.32,276.00 L814.58,277.00 L814.84,278.00 L815.11,279.00 L815.38,280.00 L815.66,281.00 L815.93,282.00 L816.21,283.00 L816.49,284.00 L816.78,285.00 L817.07,286.00 L817.36,287.00 L817.65,288.00 L817.96,289.00 L818.27,290.00 L818.58,291.00 L818.90,292.00 L819.22,293.00 L819.54,294.00 L819.87,295.00 L820.20,296.00 L820.52,297.00 L820.85,298.00 L821.18,299.00 L821.51,300.00 L821.83,301.00 L822.15,302.00 L822.47,303.00 L822.79,304.00 L823.11,305.00 L823.42,306.00 L823.74,307.00 L824.06,308.00 L824.38,309.00 L824.70,310.00 L825.02,311.00 L825.34,312.00 L825.65,313.00 L825.96,314.00 L826.27,315.00 L826.58,316.00 L826.88,317.00 L827.18,318.00 L827.48,319.00 L827.77,320.00 L828.06,321.00 L828.34,322.00 L828.63,323.00 L828.91,324.00 L829.19,325.00 L829.47,326.00 L829.75,327.00 L830.02,328.00 L830.29,329.00 L830.56,330.00 L830.82,331.00 L831.08,332.00 L831.34,333.00 L831.59,334.00 L831.84,335.00 L832.08,336.00 L832.32,337.00 L832.56,338.00 L832.79,339.00 L833.01,340.00 L833.23,341.00 L833.45,342.00 L833.66,343.00 L833.87,344.00 L834.08,345.00 L834.29,346.00 L834.49,347.00 L834.70,348.00 L834.90,349.00 L835.10,350.00 L835.30,351.00 L835.51,352.00 L835.72,353.00 L835.93,354.00 L836.14,355.00 L836.35,356.00 L836.56,357.00 L836.76,358.00 L836.96,359.00 L837.16,360.00 L837.35,361.00 L837.54,362.00 L837.71,363.00 L837.88,364.00 L838.04,365.00 L838.19,366.00 L838.33,367.00 L838.46,368.00 L838.58,369.00 L838.71,370.00 L838.83,371.00 L838.94,372.00 L839.06,373.00 L839.16,374.00 L839.27,375.00 L839.37,376.00 L839.47,377.00 L839.56,378.00 L839.65,379.00 L839.74,380.00 L839.82,381.00 L839.90,382.00 L839.97,383.00 L840.04,384.00 L840.11,385.00 L840.19,386.00 L840.26,387.00 L840.33,388.00 L840.40,389.00 L840.46,390.00 L840.53,391.00 L840.59,392.00 L840.65,393.00 L840.70,394.00 L840.75,395.00 L840.79,396.00 L840.83,397.00 L840.86,398.00 L840.88,399.00 L840.90,400.00 L840.91,401.00 L840.92,402.00 L840.93,403.00 L840.94,404.00 L840.95,405.00 L840.95,406.00 L840.96,407.00 L840.97,408.00 L840.98,409.00 L840.98,410.00 L840.99,411.00 L840.99,412.00 L840.99,413.00 L841.00,414.00 L841.00,415.00 L841.00,416.00 L841.00,417.00 L840.99,418.00 L840.96,419.00 L840.92,420.00 L840.87,421.00 L840.81,422.00 L840.76,423.00 L840.70,424.00 L840.64,425.00 L840.58,426.00 L840.52,427.00 L840.45,428.00 L840.38,429.00 L840.31,430.00 L840.23,431.00 L840.15,432.00 L840.06,433.00 L839.97,434.00 L839.88,435.00 L839.79,436.00 L839.69,437.00 L839.59,438.00 L839.49,439.00 L839.38,440.00 L839.28,441.00 L839.17,442.00 L839.05,443.00 L838.92,444.00 L838.79,445.00 L838.66,446.00 L838.51,447.00 L838.37,448.00 L838.22,449.00 L838.06,450.00 L837.90,451.00 L837.74,452.00 L837.58,453.00 L837.41,454.00 L837.24,455.00 L837.07,456.00 L836.90,457.00 L836.73,458.00 L836.55,459.00 L836.37,460.00 L836.18,461.00 L835.98,462.00 L835.78,463.00 L835.58,464.00 L835.37,465.00 L835.16,466.00 L834.95,467.00 L834.74,468.00 L834.52,469.00 L834.31,470.00 L834.10,471.00 L833.89,472.00 L833.68,473.00 L833.48,474.00 L833.28,475.00 L833.08,476.00 L832.88,477.00 L832.69,478.00 L832.49,479.00 L832.29,480.00 L832.10,481.00 L831.90,482.00 L831.70,483.00 L831.51,484.00 L831.31,485.00 L831.11,486.00 L830.91,487.00 L830.71,488.00 L830.51,489.00 L830.30,490.00 L830.09,491.00 L829.89,492.00 L829.69,493.00 L829.48,494.00 L829.28,495.00 L829.07,496.00 L828.86,497.00 L828.66,498.00 L828.45,499.00 L828.23,500.00 L828.02,501.00 L827.80,502.00 L827.58,503.00 L827.35,504.00 L827.12,505.00 L826.89,506.00 L826.65,507.00 L826.41,508.00 L826.16,509.00 L825.90,510.00 L825.65,511.00 L825.38,512.00 L825.12,513.00 L824.85,514.00 L824.57,515.00 L824.29,516.00 L824.01,517.00 L823.73,518.00 L823.44,519.00 L823.15,520.00 L822.86,521.00 L822.57,522.00 L822.28,523.00 L821.98,524.00 L821.68,525.00 L821.36,526.00 L821.04,527.00 L820.71,528.00 L820.38,529.00 L820.05,530.00 L819.71,531.00 L819.37,532.00 L819.03,533.00 L818.70,534.00 L818.37,535.00 L818.04,536.00 L817.72,537.00 L817.41,538.00 L817.11,539.00 L816.81,540.00 L816.53,541.00 L816.25,542.00 L815.97,543.00 L815.69,544.00 L815.42,545.00 L815.14,546.00 L814.87,547.00 L814.61,548.00 L814.35,549.00 L814.10,550.00 L813.85,551.00 L813.61,552.00 L813.38,553.00 L813.15,554.00 L812.94,555.00 L812.73,556.00 L812.54,557.00 L812.35,558.00 L812.17,559.00 L811.99,560.00 L811.81,561.00 L811.64,562.00 L811.47,563.00 L811.30,564.00 L811.14,565.00 L810.99,566.00 L810.84,567.00 L810.70,568.00 L810.56,569.00 L810.43,570.00 L810.31,571.00 L810.20,572.00 L810.10,573.00 L810.00,574.00 L809.91,575.00 L809.82,576.00 L809.74,577.00 L809.66,578.00 L809.58,579.00 L809.51,580.00 L809.44,581.00 L809.37,582.00 L809.31,583.00 L809.24,584.00 L809.19,585.00 L809.13,586.00 L809.08,587.00 L809.03,588.00 L808.98,589.00 L808.93,590.00 L808.89,591.00 L808.85,592.00 L808.82,593.00 L808.78,594.00 L808.75,595.00 L808.72,596.00 L808.70,597.00 L808.67,598.00 L808.64,599.00 L808.62,600.00 L808.59,601.00 L808.57,602.00 L808.54,603.00 L808.51,604.00 L808.48,605.00 L808.45,606.00 L808.42,607.00 L808.39,608.00 L808.35,609.00 L808.31,610.00 L808.27,611.00 L808.23,612.00 L808.19,613.00 L808.15,614.00 L808.10,615.00 L808.06,616.00 L808.01,617.00 L807.97,618.00 L807.93,619.00 L807.88,620.00 L807.84,621.00 L807.80,622.00 L807.76,623.00 L807.72,624.00 L807.68,625.00 L807.64,626.00 L807.60,627.00 L807.56,628.00 L807.53,629.00 L807.49,630.00 L807.45,631.00 L807.42,632.00 L807.38,633.00 L807.35,634.00 L807.31,635.00 L807.30,635.30 L793.30,635.30 L793.29,635.00 L793.25,634.00 L793.22,633.00 L793.18,632.00 L793.15,631.00 L793.11,630.00 L793.07,629.00 L793.04,628.00 L793.00,627.00 L792.96,626.00 L792.92,625.00 L792.88,624.00 L792.84,623.00 L792.80,622.00 L792.76,621.00 L792.72,620.00 L792.67,619.00 L792.63,618.00 L792.59,617.00 L792.54,616.00 L792.50,615.00 L792.45,614.00 L792.41,613.00 L792.37,612.00 L792.33,611.00 L792.29,610.00 L792.25,609.00 L792.21,608.00 L792.18,607.00 L792.15,606.00 L792.12,605.00 L792.09,604.00 L792.06,603.00 L792.03,602.00 L792.01,601.00 L791.98,600.00 L791.96,599.00 L791.93,598.00 L791.90,597.00 L791.88,596.00 L791.85,595.00 L791.82,594.00 L791.78,593.00 L791.75,592.00 L791.71,591.00 L791.67,590.00 L791.62,589.00 L791.57,588.00 L791.52,587.00 L791.47,586.00 L791.41,585.00 L791.36,584.00 L791.29,583.00 L791.23,582.00 L791.16,581.00 L791.09,580.00 L791.02,579.00 L790.94,578.00 L790.86,577.00 L790.78,576.00 L790.69,575.00 L790.60,574.00 L790.50,573.00 L790.40,572.00 L790.29,571.00 L790.17,570.00 L790.04,569.00 L789.90,568.00 L789.76,567.00 L789.61,566.00 L789.46,565.00 L789.30,564.00 L789.13,563.00 L788.96,562.00 L788.79,561.00 L788.61,560.00 L788.43,559.00 L788.25,558.00 L788.06,557.00 L787.87,556.00 L787.66,555.00 L787.45,554.00 L787.22,553.00 L786.99,552.00 L786.75,551.00 L786.50,550.00 L786.25,549.00 L785.99,548.00 L785.73,547.00 L785.46,546.00 L785.18,545.00 L784.91,544.00 L784.63,543.00 L784.35,542.00 L784.07,541.00 L783.79,540.00 L783.49,539.00 L783.19,538.00 L782.88,537.00 L782.56,536.00 L782.23,535.00 L781.90,534.00 L781.57,533.00 L781.23,532.00 L780.89,531.00 L780.55,530.00 L780.22,529.00 L779.89,528.00 L779.56,527.00 L779.24,526.00 L778.92,525.00 L778.62,524.00 L778.32,523.00 L778.03,522.00 L777.74,521.00 L777.45,520.00 L777.16,519.00 L776.87,518.00 L776.59,517.00 L776.31,516.00 L776.03,515.00 L775.75,514.00 L775.48,513.00 L775.22,512.00 L774.95,511.00 L774.70,510.00 L774.44,509.00 L774.19,508.00 L773.95,507.00 L773.71,506.00 L773.48,505.00 L773.25,504.00 L773.02,503.00 L772.80,502.00 L772.58,501.00 L772.37,500.00 L772.15,499.00 L771.94,498.00 L771.74,497.00 L771.53,496.00 L771.32,495.00 L771.12,494.00 L770.91,493.00 L770.71,492.00 L770.51,491.00 L770.30,490.00 L770.09,489.00 L769.89,488.00 L769.69,487.00 L769.49,486.00 L769.29,485.00 L769.09,484.00 L768.90,483.00 L768.70,482.00 L768.50,481.00 L768.31,480.00 L768.11,479.00 L767.91,478.00 L767.72,477.00 L767.52,476.00 L767.32,475.00 L767.12,474.00 L766.92,473.00 L766.71,472.00 L766.50,471.00 L766.29,470.00 L766.08,469.00 L765.86,468.00 L765.65,467.00 L765.44,466.00 L765.23,465.00 L765.02,464.00 L764.82,463.00 L764.62,462.00 L764.42,461.00 L764.23,460.00 L764.05,459.00 L763.87,458.00 L763.70,457.00 L763.53,456.00 L763.36,455.00 L763.19,454.00 L763.02,453.00 L762.86,452.00 L762.70,451.00 L762.54,450.00 L762.38,449.00 L762.23,448.00 L762.09,447.00 L761.94,446.00 L761.81,445.00 L761.68,444.00 L761.55,443.00 L761.43,442.00 L761.32,441.00 L761.22,440.00 L761.11,439.00 L761.01,438.00 L760.91,437.00 L760.81,436.00 L760.72,435.00 L760.63,434.00 L760.54,433.00 L760.45,432.00 L760.37,431.00 L760.29,430.00 L760.22,429.00 L760.15,428.00 L760.08,427.00 L760.02,426.00 L759.96,425.00 L759.90,424.00 L759.84,423.00 L759.79,422.00 L759.73,421.00 L759.68,420.00 L759.64,419.00 L759.61,418.00 L759.60,417.00 L759.60,416.00 L759.60,415.00 L759.60,414.00 L759.61,413.00 L759.61,412.00 L759.61,411.00 L759.62,410.00 L759.62,409.00 L759.63,408.00 L759.64,407.00 L759.65,406.00 L759.65,405.00 L759.66,404.00 L759.67,403.00 L759.68,402.00 L759.69,401.00 L759.70,400.00 L759.72,399.00 L759.74,398.00 L759.77,397.00 L759.81,396.00 L759.85,395.00 L759.90,394.00 L759.95,393.00 L760.01,392.00 L760.07,391.00 L760.14,390.00 L760.20,389.00 L760.27,388.00 L760.34,387.00 L760.41,386.00 L760.49,385.00 L760.56,384.00 L760.63,383.00 L760.70,382.00 L760.78,381.00 L760.86,380.00 L760.95,379.00 L761.04,378.00 L761.13,377.00 L761.23,376.00 L761.33,375.00 L761.44,374.00 L761.54,373.00 L761.66,372.00 L761.77,371.00 L761.89,370.00 L762.02,369.00 L762.14,368.00 L762.27,367.00 L762.41,366.00 L762.56,365.00 L762.72,364.00 L762.89,363.00 L763.06,362.00 L763.25,361.00 L763.44,360.00 L763.64,359.00 L763.84,358.00 L764.04,357.00 L764.25,356.00 L764.46,355.00 L764.67,354.00 L764.88,353.00 L765.09,352.00 L765.30,351.00 L765.50,350.00 L765.70,349.00 L765.90,348.00 L766.11,347.00 L766.31,346.00 L766.52,345.00 L766.73,344.00 L766.94,343.00 L767.15,342.00 L767.37,341.00 L767.59,340.00 L767.81,339.00 L768.04,338.00 L768.28,337.00 L768.52,336.00 L768.76,335.00 L769.01,334.00 L769.26,333.00 L769.52,332.00 L769.78,331.00 L770.04,330.00 L770.31,329.00 L770.58,328.00 L770.85,327.00 L771.13,326.00 L771.41,325.00 L771.69,324.00 L771.97,323.00 L772.26,322.00 L772.54,321.00 L772.83,320.00 L773.12,319.00 L773.42,318.00 L773.72,317.00 L774.02,316.00 L774.33,315.00 L774.64,314.00 L774.95,313.00 L775.26,312.00 L775.58,311.00 L775.90,310.00 L776.22,309.00 L776.54,308.00 L776.86,307.00 L777.18,306.00 L777.49,305.00 L777.81,304.00 L778.13,303.00 L778.45,302.00 L778.77,301.00 L779.09,300.00 L779.42,299.00 L779.75,298.00 L780.08,297.00 L780.40,296.00 L780.73,295.00 L781.06,294.00 L781.38,293.00 L781.70,292.00 L782.02,291.00 L782.33,290.00 L782.64,289.00 L782.95,288.00 L783.24,287.00 L783.53,286.00 L783.82,285.00 L784.11,284.00 L784.39,283.00 L784.67,282.00 L784.94,281.00 L785.22,280.00 L785.49,279.00 L785.76,278.00 L786.02,277.00 L786.28,276.00 L786.54,275.00 L786.80,274.00 L787.06,273.00 L787.31,272.00 L787.55,271.00 L787.80,270.00 L788.04,269.00 L788.27,268.00 L788.49,267.00 L788.71,266.00 L788.93,265.00 L789.16,264.00 L789.38,263.00 L789.61,262.00 L789.85,261.00 L790.10,260.00 L790.35,259.00 L790.61,258.00 L790.87,257.00 L791.13,256.00 L791.39,255.00 L791.65,254.00 L791.90,253.00 L792.15,252.00 L792.40,251.00 L792.65,250.00 L792.90,249.00 L793.14,248.00 L793.38,247.00 L793.62,246.00 L793.86,245.00 L794.11,244.00 L794.35,243.00 L794.59,242.00 L794.82,241.00 L795.03,240.00 L795.22,239.00 L795.39,238.00 L795.55,237.00 L795.70,236.00 L795.84,235.00 L795.98,234.00 L796.13,233.00 L796.27,232.00 L796.42,231.00 L796.58,230.00 L796.74,229.00 L796.90,228.00 L797.05,227.00 L797.19,226.00 L797.33,225.00 L797.45,224.00 L797.55,223.00 L797.65,222.00 L797.75,221.00 L797.84,220.00 L797.93,219.00 L798.02,218.00 L798.11,217.00 L798.20,216.00 L798.30,215.00 L798.39,214.00 L798.49,213.00 L798.58,212.00 L798.68,211.00 L798.77,210.00 L798.87,209.00 L798.96,208.00 L799.05,207.00 L799.15,206.00 L799.24,205.00 L799.34,204.00 L799.44,203.00 L799.54,202.00 L799.64,201.00 L799.75,200.00 L799.86,199.00 L799.96,198.00 L800.07,197.00 L800.19,196.00 L800.30,195.00Z" fill="#12a9f4" stroke="#06a0f2" stroke-width="1.1"/>
<path d="M914.60,56.00 L914.54,57.00 L914.48,58.00 L914.43,59.00 L914.37,60.00 L914.32,61.00 L914.26,62.00 L914.21,63.00 L914.15,64.00 L914.10,65.00 L914.05,66.00 L913.99,67.00 L913.94,68.00 L913.89,69.00 L913.84,70.00 L913.79,71.00 L913.74,72.00 L913.70,73.00 L913.65,74.00 L913.60,75.00 L913.56,76.00 L913.51,77.00 L913.47,78.00 L913.42,79.00 L913.38,80.00 L913.34,81.00 L913.30,82.00 L913.26,83.00 L913.22,84.00 L913.19,85.00 L913.15,86.00 L913.11,87.00 L913.08,88.00 L913.05,89.00 L913.01,90.00 L912.98,91.00 L912.95,92.00 L912.92,93.00 L912.88,94.00 L912.85,95.00 L912.82,96.00 L912.79,97.00 L912.75,98.00 L912.72,99.00 L912.69,100.00 L912.66,101.00 L912.62,102.00 L912.59,103.00 L912.56,104.00 L912.53,105.00 L912.50,106.00 L912.47,107.00 L912.45,108.00 L912.42,109.00 L912.39,110.00 L912.37,111.00 L912.35,112.00 L912.32,113.00 L912.30,114.00 L912.29,115.00 L912.27,116.00 L912.25,117.00 L912.24,118.00 L912.23,119.00 L912.22,120.00 L912.21,121.00 L912.20,122.00 L912.20,123.00 L912.20,124.00 L912.20,125.00 L912.20,126.00 L912.20,127.00 L912.21,128.00 L912.21,129.00 L912.21,130.00 L912.22,131.00 L912.22,132.00 L912.23,133.00 L912.23,134.00 L912.24,135.00 L912.25,136.00 L912.26,137.00 L912.26,138.00 L912.27,139.00 L912.28,140.00 L912.29,141.00 L912.30,142.00 L912.31,143.00 L912.32,144.00 L912.33,145.00 L912.35,146.00 L912.36,147.00 L912.37,148.00 L912.38,149.00 L912.39,150.00 L912.41,151.00 L912.42,152.00 L912.43,153.00 L912.45,154.00 L912.46,155.00 L912.48,156.00 L912.49,157.00 L912.51,158.00 L912.52,159.00 L912.54,160.00 L912.56,161.00 L912.58,162.00 L912.61,163.00 L912.63,164.00 L912.66,165.00 L912.69,166.00 L912.72,167.00 L912.75,168.00 L912.78,169.00 L912.82,170.00 L912.85,171.00 L912.89,172.00 L912.93,173.00 L912.97,174.00 L913.01,175.00 L913.05,176.00 L913.10,177.00 L913.14,178.00 L913.19,179.00 L913.23,180.00 L913.28,181.00 L913.33,182.00 L913.38,183.00 L913.43,184.00 L913.48,185.00 L913.53,186.00 L913.58,187.00 L913.63,188.00 L913.68,189.00 L913.74,190.00 L913.79,191.00 L913.84,192.00 L913.90,193.00 L913.96,194.00 L914.03,195.00 L914.10,196.00 L914.17,197.00 L914.24,198.00 L914.32,199.00 L914.40,200.00 L914.48,201.00 L914.57,202.00 L914.65,203.00 L914.74,204.00 L914.83,205.00 L914.92,206.00 L915.02,207.00 L915.12,208.00 L915.22,209.00 L915.32,210.00 L915.43,211.00 L915.54,212.00 L915.65,213.00 L915.77,214.00 L915.89,215.00 L916.02,216.00 L916.15,217.00 L916.28,218.00 L916.42,219.00 L916.56,220.00 L916.70,221.00 L916.85,222.00 L917.01,223.00 L917.16,224.00 L917.33,225.00 L917.51,226.00 L917.69,227.00 L917.89,228.00 L918.09,229.00 L918.29,230.00 L918.51,231.00 L918.73,232.00 L918.95,233.00 L919.18,234.00 L919.41,235.00 L919.65,236.00 L919.88,237.00 L920.12,238.00 L920.36,239.00 L920.60,240.00 L920.85,241.00 L921.09,242.00 L921.35,243.00 L921.60,244.00 L921.87,245.00 L922.14,246.00 L922.41,247.00 L922.68,248.00 L922.96,249.00 L923.24,250.00 L923.53,251.00 L923.81,252.00 L924.10,253.00 L924.38,254.00 L924.67,255.00 L924.96,256.00 L925.24,257.00 L925.53,258.00 L925.81,259.00 L926.10,260.00 L926.39,261.00 L926.67,262.00 L926.96,263.00 L927.25,264.00 L927.55,265.00 L927.84,266.00 L928.14,267.00 L928.44,268.00 L928.74,269.00 L929.04,270.00 L929.35,271.00 L929.66,272.00 L929.98,273.00 L930.30,274.00 L930.63,275.00 L930.96,276.00 L931.31,277.00 L931.66,278.00 L932.01,279.00 L932.38,280.00 L932.74,281.00 L933.10,282.00 L933.47,283.00 L933.83,284.00 L934.20,285.00 L934.56,286.00 L934.91,287.00 L935.26,288.00 L935.60,289.00 L935.94,290.00 L936.26,291.00 L936.59,292.00 L936.91,293.00 L937.24,294.00 L937.57,295.00 L937.89,296.00 L938.21,297.00 L938.53,298.00 L938.85,299.00 L939.15,300.00 L939.46,301.00 L939.75,302.00 L940.03,303.00 L940.31,304.00 L940.57,305.00 L940.82,306.00 L941.06,307.00 L941.29,308.00 L941.51,309.00 L941.72,310.00 L941.92,311.00 L942.13,312.00 L942.32,313.00 L942.51,314.00 L942.70,315.00 L942.88,316.00 L943.05,317.00 L943.22,318.00 L943.38,319.00 L943.55,320.00 L943.70,321.00 L943.85,322.00 L944.00,323.00 L944.14,324.00 L944.29,325.00 L944.43,326.00 L944.58,327.00 L944.73,328.00 L944.89,329.00 L945.04,330.00 L945.18,331.00 L945.32,332.00 L945.46,333.00 L945.58,334.00 L945.69,335.00 L945.79,336.00 L945.87,337.00 L945.93,338.00 L945.98,339.00 L946.00,340.00 L946.01,341.00 L946.02,342.00 L946.03,343.00 L946.03,344.00 L946.04,345.00 L946.05,346.00 L946.05,347.00 L946.05,348.00 L946.06,349.00 L946.06,350.00 L946.07,351.00 L946.07,352.00 L946.08,353.00 L946.08,354.00 L946.09,355.00 L946.09,356.00 L946.10,357.00 L946.11,358.00 L946.12,359.00 L946.13,360.00 L946.14,361.00 L946.15,362.00 L946.17,363.00 L946.18,364.00 L946.19,365.00 L946.21,366.00 L946.22,367.00 L946.24,368.00 L946.25,369.00 L946.27,370.00 L946.29,371.00 L946.30,372.00 L946.32,373.00 L946.34,374.00 L946.36,375.00 L946.38,376.00 L946.40,377.00 L946.42,378.00 L946.44,379.00 L946.46,380.00 L946.48,381.00 L946.50,382.00 L946.53,383.00 L946.55,384.00 L946.57,385.00 L946.59,386.00 L946.62,387.00 L946.64,388.00 L946.67,389.00 L946.69,390.00 L946.72,391.00 L946.74,392.00 L946.78,393.00 L946.81,394.00 L946.85,395.00 L946.89,396.00 L946.93,397.00 L946.98,398.00 L947.03,399.00 L947.08,400.00 L947.13,401.00 L947.18,402.00 L947.23,403.00 L947.28,404.00 L947.34,405.00 L947.39,406.00 L947.44,407.00 L947.49,408.00 L947.54,409.00 L947.59,410.00 L947.64,411.00 L947.69,412.00 L947.73,413.00 L947.77,414.00 L947.81,415.00 L947.85,416.00 L947.88,417.00 L947.91,418.00 L947.94,419.00 L947.96,420.00 L947.98,421.00 L947.99,422.00 L948.00,423.00 L948.00,424.00 L948.00,425.00 L947.99,426.00 L947.98,427.00 L947.97,428.00 L947.96,429.00 L947.94,430.00 L947.92,431.00 L947.90,432.00 L947.87,433.00 L947.84,434.00 L947.81,435.00 L947.78,436.00 L947.74,437.00 L947.70,438.00 L947.66,439.00 L947.62,440.00 L947.58,441.00 L947.53,442.00 L947.48,443.00 L947.44,444.00 L947.39,445.00 L947.34,446.00 L947.28,447.00 L947.23,448.00 L947.18,449.00 L947.12,450.00 L947.07,451.00 L947.01,452.00 L946.96,453.00 L946.90,454.00 L946.85,455.00 L946.79,456.00 L946.73,457.00 L946.68,458.00 L946.62,459.00 L946.56,460.00 L946.50,461.00 L946.44,462.00 L946.37,463.00 L946.31,464.00 L946.24,465.00 L946.17,466.00 L946.10,467.00 L946.02,468.00 L945.94,469.00 L945.86,470.00 L945.78,471.00 L945.69,472.00 L945.60,473.00 L945.51,474.00 L945.41,475.00 L945.31,476.00 L945.21,477.00 L945.10,478.00 L944.99,479.00 L944.88,480.00 L944.76,481.00 L944.64,482.00 L944.51,483.00 L944.38,484.00 L944.24,485.00 L944.10,486.00 L943.96,487.00 L943.81,488.00 L943.66,489.00 L943.50,490.00 L943.33,491.00 L943.15,492.00 L942.93,493.00 L942.67,494.00 L942.37,495.00 L942.05,496.00 L941.70,497.00 L941.34,498.00 L940.95,499.00 L940.56,500.00 L940.15,501.00 L939.75,502.00 L939.35,503.00 L938.95,504.00 L938.56,505.00 L938.19,506.00 L937.83,507.00 L937.48,508.00 L937.14,509.00 L936.79,510.00 L936.45,511.00 L936.10,512.00 L935.76,513.00 L935.42,514.00 L935.07,515.00 L934.72,516.00 L934.38,517.00 L934.03,518.00 L933.67,519.00 L933.32,520.00 L932.96,521.00 L932.59,522.00 L932.22,523.00 L931.85,524.00 L931.46,525.00 L931.07,526.00 L930.66,527.00 L930.24,528.00 L929.82,529.00 L929.40,530.00 L928.97,531.00 L928.55,532.00 L928.13,533.00 L927.71,534.00 L927.30,535.00 L926.90,536.00 L926.51,537.00 L926.13,538.00 L925.77,539.00 L925.43,540.00 L925.11,541.00 L924.78,542.00 L924.46,543.00 L924.15,544.00 L923.84,545.00 L923.53,546.00 L923.23,547.00 L922.94,548.00 L922.66,549.00 L922.38,550.00 L922.11,551.00 L921.85,552.00 L921.61,553.00 L921.37,554.00 L921.15,555.00 L920.94,556.00 L920.74,557.00 L920.55,558.00 L920.37,559.00 L920.19,560.00 L920.02,561.00 L919.86,562.00 L919.70,563.00 L919.54,564.00 L919.39,565.00 L919.25,566.00 L919.11,567.00 L918.98,568.00 L918.85,569.00 L918.73,570.00 L918.61,571.00 L918.50,572.00 L918.40,573.00 L918.30,574.00 L918.21,575.00 L918.12,576.00 L918.04,577.00 L917.96,578.00 L917.88,579.00 L917.81,580.00 L917.74,581.00 L917.67,582.00 L917.60,583.00 L917.54,584.00 L917.48,585.00 L917.41,586.00 L917.35,587.00 L917.28,588.00 L917.22,589.00 L917.15,590.00 L917.09,591.00 L917.02,592.00 L916.95,593.00 L916.89,594.00 L916.82,595.00 L916.76,596.00 L916.69,597.00 L916.63,598.00 L916.56,599.00 L916.50,600.00 L916.43,601.00 L916.37,602.00 L916.31,603.00 L916.24,604.00 L916.17,605.00 L916.11,606.00 L916.04,607.00 L915.97,608.00 L915.90,609.00 L915.83,610.00 L915.77,611.00 L915.70,612.00 L915.63,613.00 L915.55,614.00 L915.48,615.00 L915.41,616.00 L915.34,617.00 L915.27,618.00 L915.20,619.00 L915.12,620.00 L915.05,621.00 L914.98,622.00 L914.90,623.00 L914.83,624.00 L914.76,625.00 L914.68,626.00 L914.60,627.00 L914.53,628.00 L914.45,629.00 L914.38,630.00 L914.30,631.00 L914.22,632.00 L914.14,633.00 L914.06,634.00 L914.00,634.80 L908.00,634.80 L907.94,634.00 L907.86,633.00 L907.78,632.00 L907.70,631.00 L907.62,630.00 L907.55,629.00 L907.47,628.00 L907.40,627.00 L907.32,626.00 L907.24,625.00 L907.17,624.00 L907.10,623.00 L907.02,622.00 L906.95,621.00 L906.88,620.00 L906.80,619.00 L906.73,618.00 L906.66,617.00 L906.59,616.00 L906.52,615.00 L906.45,614.00 L906.37,613.00 L906.30,612.00 L906.23,611.00 L906.17,610.00 L906.10,609.00 L906.03,608.00 L905.96,607.00 L905.89,606.00 L905.83,605.00 L905.76,604.00 L905.69,603.00 L905.63,602.00 L905.57,601.00 L905.50,600.00 L905.44,599.00 L905.37,598.00 L905.31,597.00 L905.24,596.00 L905.18,595.00 L905.11,594.00 L905.05,593.00 L904.98,592.00 L904.91,591.00 L904.85,590.00 L904.78,589.00 L904.72,588.00 L904.65,587.00 L904.59,586.00 L904.52,585.00 L904.46,584.00 L904.40,583.00 L904.33,582.00 L904.26,581.00 L904.19,580.00 L904.12,579.00 L904.04,578.00 L903.96,577.00 L903.88,576.00 L903.79,575.00 L903.70,574.00 L903.60,573.00 L903.50,572.00 L903.39,571.00 L903.27,570.00 L903.15,569.00 L903.02,568.00 L902.89,567.00 L902.75,566.00 L902.61,565.00 L902.46,564.00 L902.30,563.00 L902.14,562.00 L901.98,561.00 L901.81,560.00 L901.63,559.00 L901.45,558.00 L901.26,557.00 L901.06,556.00 L900.85,555.00 L900.63,554.00 L900.39,553.00 L900.15,552.00 L899.89,551.00 L899.62,550.00 L899.34,549.00 L899.06,548.00 L898.77,547.00 L898.47,546.00 L898.16,545.00 L897.85,544.00 L897.54,543.00 L897.22,542.00 L896.89,541.00 L896.57,540.00 L896.23,539.00 L895.87,538.00 L895.49,537.00 L895.10,536.00 L894.70,535.00 L894.29,534.00 L893.87,533.00 L893.45,532.00 L893.03,531.00 L892.60,530.00 L892.18,529.00 L891.76,528.00 L891.34,527.00 L890.93,526.00 L890.54,525.00 L890.15,524.00 L889.78,523.00 L889.41,522.00 L889.04,521.00 L888.68,520.00 L888.33,519.00 L887.97,518.00 L887.62,517.00 L887.28,516.00 L886.93,515.00 L886.58,514.00 L886.24,513.00 L885.90,512.00 L885.55,511.00 L885.21,510.00 L884.86,509.00 L884.52,508.00 L884.17,507.00 L883.81,506.00 L883.44,505.00 L883.05,504.00 L882.65,503.00 L882.25,502.00 L881.85,501.00 L881.44,500.00 L881.05,499.00 L880.66,498.00 L880.30,497.00 L879.95,496.00 L879.63,495.00 L879.33,494.00 L879.07,493.00 L878.85,492.00 L878.67,491.00 L878.50,490.00 L878.34,489.00 L878.19,488.00 L878.04,487.00 L877.90,486.00 L877.76,485.00 L877.62,484.00 L877.49,483.00 L877.36,482.00 L877.24,481.00 L877.12,480.00 L877.01,479.00 L876.90,478.00 L876.79,477.00 L876.69,476.00 L876.59,475.00 L876.49,474.00 L876.40,473.00 L876.31,472.00 L876.22,471.00 L876.14,470.00 L876.06,469.00 L875.98,468.00 L875.90,467.00 L875.83,466.00 L875.76,465.00 L875.69,464.00 L875.63,463.00 L875.56,462.00 L875.50,461.00 L875.44,460.00 L875.38,459.00 L875.32,458.00 L875.27,457.00 L875.21,456.00 L875.15,455.00 L875.10,454.00 L875.04,453.00 L874.99,452.00 L874.93,451.00 L874.88,450.00 L874.82,449.00 L874.77,448.00 L874.72,447.00 L874.66,446.00 L874.61,445.00 L874.56,444.00 L874.52,443.00 L874.47,442.00 L874.42,441.00 L874.38,440.00 L874.34,439.00 L874.30,438.00 L874.26,437.00 L874.22,436.00 L874.19,435.00 L874.16,434.00 L874.13,433.00 L874.10,432.00 L874.08,431.00 L874.06,430.00 L874.04,429.00 L874.03,428.00 L874.02,427.00 L874.01,426.00 L874.00,425.00 L874.00,424.00 L874.00,423.00 L874.01,422.00 L874.02,421.00 L874.04,420.00 L874.06,419.00 L874.09,418.00 L874.12,417.00 L874.15,416.00 L874.19,415.00 L874.23,414.00 L874.27,413.00 L874.31,412.00 L874.36,411.00 L874.41,410.00 L874.46,409.00 L874.51,408.00 L874.56,407.00 L874.61,406.00 L874.66,405.00 L874.72,404.00 L874.77,403.00 L874.82,402.00 L874.87,401.00 L874.92,400.00 L874.97,399.00 L875.02,398.00 L875.07,397.00 L875.11,396.00 L875.15,395.00 L875.19,394.00 L875.22,393.00 L875.26,392.00 L875.28,391.00 L875.31,390.00 L875.33,389.00 L875.36,388.00 L875.38,387.00 L875.41,386.00 L875.43,385.00 L875.45,384.00 L875.47,383.00 L875.50,382.00 L875.52,381.00 L875.54,380.00 L875.56,379.00 L875.58,378.00 L875.60,377.00 L875.62,376.00 L875.64,375.00 L875.66,374.00 L875.68,373.00 L875.70,372.00 L875.71,371.00 L875.73,370.00 L875.75,369.00 L875.76,368.00 L875.78,367.00 L875.79,366.00 L875.81,365.00 L875.82,364.00 L875.83,363.00 L875.85,362.00 L875.86,361.00 L875.87,360.00 L875.88,359.00 L875.89,358.00 L875.90,357.00 L875.91,356.00 L875.91,355.00 L875.92,354.00 L875.92,353.00 L875.93,352.00 L875.93,351.00 L875.94,350.00 L875.94,349.00 L875.95,348.00 L875.95,347.00 L875.95,346.00 L875.96,345.00 L875.97,344.00 L875.97,343.00 L875.98,342.00 L875.99,341.00 L876.00,340.00 L876.02,339.00 L876.07,338.00 L876.13,337.00 L876.21,336.00 L876.31,335.00 L876.42,334.00 L876.54,333.00 L876.68,332.00 L876.82,331.00 L876.96,330.00 L877.11,329.00 L877.27,328.00 L877.42,327.00 L877.57,326.00 L877.71,325.00 L877.86,324.00 L878.00,323.00 L878.15,322.00 L878.30,321.00 L878.45,320.00 L878.62,319.00 L878.78,318.00 L878.95,317.00 L879.12,316.00 L879.30,315.00 L879.49,314.00 L879.68,313.00 L879.87,312.00 L880.08,311.00 L880.28,310.00 L880.49,309.00 L880.71,308.00 L880.94,307.00 L881.18,306.00 L881.43,305.00 L881.69,304.00 L881.97,303.00 L882.25,302.00 L882.54,301.00 L882.85,300.00 L883.15,299.00 L883.47,298.00 L883.79,297.00 L884.11,296.00 L884.43,295.00 L884.76,294.00 L885.09,293.00 L885.41,292.00 L885.74,291.00 L886.06,290.00 L886.40,289.00 L886.74,288.00 L887.09,287.00 L887.44,286.00 L887.80,285.00 L888.17,284.00 L888.53,283.00 L888.90,282.00 L889.26,281.00 L889.62,280.00 L889.99,279.00 L890.34,278.00 L890.69,277.00 L891.04,276.00 L891.37,275.00 L891.70,274.00 L892.02,273.00 L892.34,272.00 L892.65,271.00 L892.96,270.00 L893.26,269.00 L893.56,268.00 L893.86,267.00 L894.16,266.00 L894.45,265.00 L894.75,264.00 L895.04,263.00 L895.33,262.00 L895.61,261.00 L895.90,260.00 L896.19,259.00 L896.47,258.00 L896.76,257.00 L897.04,256.00 L897.33,255.00 L897.62,254.00 L897.90,253.00 L898.19,252.00 L898.47,251.00 L898.76,250.00 L899.04,249.00 L899.32,248.00 L899.59,247.00 L899.86,246.00 L900.13,245.00 L900.40,244.00 L900.65,243.00 L900.91,242.00 L901.15,241.00 L901.40,240.00 L901.64,239.00 L901.88,238.00 L902.12,237.00 L902.35,236.00 L902.59,235.00 L902.82,234.00 L903.05,233.00 L903.27,232.00 L903.49,231.00 L903.71,230.00 L903.91,229.00 L904.11,228.00 L904.31,227.00 L904.49,226.00 L904.67,225.00 L904.84,224.00 L904.99,223.00 L905.15,222.00 L905.30,221.00 L905.44,220.00 L905.58,219.00 L905.72,218.00 L905.85,217.00 L905.98,216.00 L906.11,215.00 L906.23,214.00 L906.35,213.00 L906.46,212.00 L906.57,211.00 L906.68,210.00 L906.78,209.00 L906.88,208.00 L906.98,207.00 L907.08,206.00 L907.17,205.00 L907.26,204.00 L907.35,203.00 L907.43,202.00 L907.52,201.00 L907.60,200.00 L907.68,199.00 L907.76,198.00 L907.83,197.00 L907.90,196.00 L907.97,195.00 L908.04,194.00 L908.10,193.00 L908.16,192.00 L908.21,191.00 L908.26,190.00 L908.32,189.00 L908.37,188.00 L908.42,187.00 L908.47,186.00 L908.52,185.00 L908.57,184.00 L908.62,183.00 L908.67,182.00 L908.72,181.00 L908.77,180.00 L908.81,179.00 L908.86,178.00 L908.90,177.00 L908.95,176.00 L908.99,175.00 L909.03,174.00 L909.07,173.00 L909.11,172.00 L909.15,171.00 L909.18,170.00 L909.22,169.00 L909.25,168.00 L909.28,167.00 L909.31,166.00 L909.34,165.00 L909.37,164.00 L909.39,163.00 L909.42,162.00 L909.44,161.00 L909.46,160.00 L909.48,159.00 L909.49,158.00 L909.51,157.00 L909.52,156.00 L909.54,155.00 L909.55,154.00 L909.57,153.00 L909.58,152.00 L909.59,151.00 L909.61,150.00 L909.62,149.00 L909.63,148.00 L909.64,147.00 L909.65,146.00 L909.67,145.00 L909.68,144.00 L909.69,143.00 L909.70,142.00 L909.71,141.00 L909.72,140.00 L909.73,139.00 L909.74,138.00 L909.74,137.00 L909.75,136.00 L909.76,135.00 L909.77,134.00 L909.77,133.00 L909.78,132.00 L909.78,131.00 L909.79,130.00 L909.79,129.00 L909.79,128.00 L909.80,127.00 L909.80,126.00 L909.80,125.00 L909.80,124.00 L909.80,123.00 L909.80,122.00 L909.79,121.00 L909.78,120.00 L909.77,119.00 L909.76,118.00 L909.75,117.00 L909.73,116.00 L909.71,115.00 L909.70,114.00 L909.68,113.00 L909.65,112.00 L909.63,111.00 L909.61,110.00 L909.58,109.00 L909.55,108.00 L909.53,107.00 L909.50,106.00 L909.47,105.00 L909.44,104.00 L909.41,103.00 L909.38,102.00 L909.34,101.00 L909.31,100.00 L909.28,99.00 L909.25,98.00 L909.21,97.00 L909.18,96.00 L909.15,95.00 L909.12,94.00 L909.08,93.00 L909.05,92.00 L909.02,91.00 L908.99,90.00 L908.95,89.00 L908.92,88.00 L908.89,87.00 L908.85,86.00 L908.81,85.00 L908.78,84.00 L908.74,83.00 L908.70,82.00 L908.66,81.00 L908.62,80.00 L908.58,79.00 L908.53,78.00 L908.49,77.00 L908.44,76.00 L908.40,75.00 L908.35,74.00 L908.30,73.00 L908.26,72.00 L908.21,71.00 L908.16,70.00 L908.11,69.00 L908.06,68.00 L908.01,67.00 L907.95,66.00 L907.90,65.00 L907.85,64.00 L907.79,63.00 L907.74,62.00 L907.68,61.00 L907.63,60.00 L907.57,59.00 L907.52,58.00 L907.46,57.00 L907.40,56.00Z" fill="#2b80df" stroke="#1f74da" stroke-width="1.1"/>
<path d="M1021.80,184.40 L1021.85,185.40 L1021.91,186.40 L1021.97,187.40 L1022.03,188.40 L1022.08,189.40 L1022.14,190.40 L1022.21,191.40 L1022.27,192.40 L1022.33,193.40 L1022.39,194.40 L1022.46,195.40 L1022.52,196.40 L1022.59,197.40 L1022.65,198.40 L1022.72,199.40 L1022.79,200.40 L1022.86,201.40 L1022.93,202.40 L1023.00,203.40 L1023.07,204.40 L1023.14,205.40 L1023.21,206.40 L1023.28,207.40 L1023.35,208.40 L1023.43,209.40 L1023.50,210.40 L1023.58,211.40 L1023.65,212.40 L1023.73,213.40 L1023.81,214.40 L1023.90,215.40 L1023.98,216.40 L1024.07,217.40 L1024.15,218.40 L1024.24,219.40 L1024.32,220.40 L1024.41,221.40 L1024.50,222.40 L1024.58,223.40 L1024.67,224.40 L1024.75,225.40 L1024.84,226.40 L1024.92,227.40 L1025.00,228.40 L1025.08,229.40 L1025.15,230.40 L1025.23,231.40 L1025.31,232.40 L1025.39,233.40 L1025.46,234.40 L1025.54,235.40 L1025.62,236.40 L1025.70,237.40 L1025.77,238.40 L1025.85,239.40 L1025.93,240.40 L1026.01,241.40 L1026.08,242.40 L1026.15,243.40 L1026.22,244.40 L1026.29,245.40 L1026.36,246.40 L1026.45,247.40 L1026.54,248.40 L1026.63,249.40 L1026.75,250.40 L1026.87,251.40 L1027.02,252.40 L1027.18,253.40 L1027.35,254.40 L1027.54,255.40 L1027.74,256.40 L1027.95,257.40 L1028.17,258.40 L1028.40,259.40 L1028.64,260.40 L1028.89,261.40 L1029.14,262.40 L1029.40,263.40 L1029.66,264.40 L1029.92,265.40 L1030.19,266.40 L1030.46,267.40 L1030.75,268.40 L1031.05,269.40 L1031.36,270.40 L1031.68,271.40 L1032.02,272.40 L1032.36,273.40 L1032.72,274.40 L1033.09,275.40 L1033.46,276.40 L1033.85,277.40 L1034.24,278.40 L1034.64,279.40 L1035.05,280.40 L1035.47,281.40 L1035.89,282.40 L1036.31,283.40 L1036.75,284.40 L1037.21,285.40 L1037.69,286.40 L1038.18,287.40 L1038.69,288.40 L1039.22,289.40 L1039.75,290.40 L1040.29,291.40 L1040.85,292.40 L1041.40,293.40 L1041.96,294.40 L1042.53,295.40 L1043.09,296.40 L1043.65,297.40 L1044.21,298.40 L1044.76,299.40 L1045.30,300.40 L1045.84,301.40 L1046.39,302.40 L1046.95,303.40 L1047.51,304.40 L1048.07,305.40 L1048.64,306.40 L1049.20,307.40 L1049.77,308.40 L1050.33,309.40 L1050.89,310.40 L1051.45,311.40 L1052.00,312.40 L1052.54,313.40 L1053.07,314.40 L1053.59,315.40 L1054.10,316.40 L1054.60,317.40 L1055.10,318.40 L1055.60,319.40 L1056.10,320.40 L1056.59,321.40 L1057.08,322.40 L1057.57,323.40 L1058.03,324.40 L1058.49,325.40 L1058.92,326.40 L1059.33,327.40 L1059.71,328.40 L1060.07,329.40 L1060.39,330.40 L1060.70,331.40 L1061.00,332.40 L1061.28,333.40 L1061.55,334.40 L1061.81,335.40 L1062.06,336.40 L1062.30,337.40 L1062.53,338.40 L1062.76,339.40 L1062.99,340.40 L1063.21,341.40 L1063.43,342.40 L1063.66,343.40 L1063.88,344.40 L1064.10,345.40 L1064.33,346.40 L1064.55,347.40 L1064.77,348.40 L1064.99,349.40 L1065.21,350.40 L1065.42,351.40 L1065.63,352.40 L1065.83,353.40 L1066.03,354.40 L1066.21,355.40 L1066.39,356.40 L1066.56,357.40 L1066.72,358.40 L1066.87,359.40 L1067.00,360.40 L1067.13,361.40 L1067.25,362.40 L1067.37,363.40 L1067.48,364.40 L1067.60,365.40 L1067.70,366.40 L1067.81,367.40 L1067.91,368.40 L1068.00,369.40 L1068.10,370.40 L1068.18,371.40 L1068.27,372.40 L1068.34,373.40 L1068.42,374.40 L1068.49,375.40 L1068.55,376.40 L1068.61,377.40 L1068.67,378.40 L1068.73,379.40 L1068.79,380.40 L1068.85,381.40 L1068.90,382.40 L1068.96,383.40 L1069.01,384.40 L1069.06,385.40 L1069.11,386.40 L1069.15,387.40 L1069.19,388.40 L1069.22,389.40 L1069.25,390.40 L1069.27,391.40 L1069.29,392.40 L1069.30,393.40 L1069.30,394.40 L1069.30,395.40 L1069.29,396.40 L1069.27,397.40 L1069.26,398.40 L1069.24,399.40 L1069.21,400.40 L1069.19,401.40 L1069.16,402.40 L1069.12,403.40 L1069.09,404.40 L1069.05,405.40 L1069.01,406.40 L1068.96,407.40 L1068.92,408.40 L1068.87,409.40 L1068.82,410.40 L1068.76,411.40 L1068.68,412.40 L1068.58,413.40 L1068.45,414.40 L1068.30,415.40 L1068.13,416.40 L1067.95,417.40 L1067.75,418.40 L1067.54,419.40 L1067.33,420.40 L1067.11,421.40 L1066.89,422.40 L1066.67,423.40 L1066.45,424.40 L1066.24,425.40 L1066.03,426.40 L1065.84,427.40 L1065.65,428.40 L1065.44,429.40 L1065.23,430.40 L1065.02,431.40 L1064.80,432.40 L1064.57,433.40 L1064.35,434.40 L1064.12,435.40 L1063.90,436.40 L1063.68,437.40 L1063.48,438.40 L1063.28,439.40 L1063.09,440.40 L1062.92,441.40 L1062.76,442.40 L1062.62,443.40 L1062.50,444.40 L1062.39,445.40 L1062.30,446.40 L1062.20,447.40 L1062.12,448.40 L1062.04,449.40 L1061.96,450.40 L1061.89,451.40 L1061.82,452.40 L1061.75,453.40 L1061.68,454.40 L1061.62,455.40 L1061.55,456.40 L1061.48,457.40 L1061.41,458.40 L1061.34,459.40 L1061.27,460.40 L1061.20,461.40 L1061.13,462.40 L1061.07,463.40 L1061.01,464.40 L1060.95,465.40 L1060.89,466.40 L1060.83,467.40 L1060.77,468.40 L1060.71,469.40 L1060.65,470.40 L1060.58,471.40 L1060.50,472.40 L1060.42,473.40 L1060.34,474.40 L1060.24,475.40 L1060.14,476.40 L1060.03,477.40 L1059.90,478.40 L1059.75,479.40 L1059.58,480.40 L1059.39,481.40 L1059.19,482.40 L1058.97,483.40 L1058.74,484.40 L1058.50,485.40 L1058.25,486.40 L1057.98,487.40 L1057.71,488.40 L1057.43,489.40 L1057.15,490.40 L1056.85,491.40 L1056.56,492.40 L1056.26,493.40 L1055.95,494.40 L1055.62,495.40 L1055.27,496.40 L1054.91,497.40 L1054.52,498.40 L1054.12,499.40 L1053.70,500.40 L1053.27,501.40 L1052.83,502.40 L1052.38,503.40 L1051.92,504.40 L1051.46,505.40 L1050.99,506.40 L1050.52,507.40 L1050.04,508.40 L1049.57,509.40 L1049.10,510.40 L1048.62,511.40 L1048.13,512.40 L1047.62,513.40 L1047.11,514.40 L1046.58,515.40 L1046.05,516.40 L1045.51,517.40 L1044.96,518.40 L1044.41,519.40 L1043.86,520.40 L1043.31,521.40 L1042.76,522.40 L1042.22,523.40 L1041.68,524.40 L1041.14,525.40 L1040.61,526.40 L1040.10,527.40 L1039.58,528.40 L1039.05,529.40 L1038.53,530.40 L1038.00,531.40 L1037.47,532.40 L1036.94,533.40 L1036.41,534.40 L1035.89,535.40 L1035.37,536.40 L1034.86,537.40 L1034.36,538.40 L1033.87,539.40 L1033.40,540.40 L1032.93,541.40 L1032.48,542.40 L1032.05,543.40 L1031.63,544.40 L1031.21,545.40 L1030.79,546.40 L1030.36,547.40 L1029.94,548.40 L1029.51,549.40 L1029.10,550.40 L1028.69,551.40 L1028.30,552.40 L1027.92,553.40 L1027.56,554.40 L1027.22,555.40 L1026.91,556.40 L1026.62,557.40 L1026.37,558.40 L1026.15,559.40 L1025.96,560.40 L1025.81,561.40 L1025.66,562.40 L1025.52,563.40 L1025.38,564.40 L1025.24,565.40 L1025.11,566.40 L1024.99,567.40 L1024.87,568.40 L1024.76,569.40 L1024.67,570.40 L1024.58,571.40 L1024.50,572.40 L1024.43,573.40 L1024.38,574.40 L1024.34,575.40 L1024.31,576.40 L1024.30,577.40 L1024.30,578.40 L1024.30,579.40 L1024.31,580.40 L1024.31,581.40 L1024.32,582.40 L1024.33,583.40 L1024.34,584.40 L1024.35,585.40 L1024.36,586.40 L1024.38,587.40 L1024.39,588.40 L1024.41,589.40 L1024.42,590.40 L1024.44,591.40 L1024.46,592.40 L1024.48,593.40 L1024.50,594.40 L1024.53,595.40 L1024.58,596.40 L1024.64,597.40 L1024.72,598.40 L1024.81,599.40 L1024.90,600.40 L1025.00,601.40 L1025.10,602.40 L1025.20,603.40 L1025.30,604.40 L1025.40,605.40 L1025.48,606.40 L1025.56,607.40 L1025.62,608.40 L1025.67,609.40 L1025.69,610.40 L1025.70,611.40 L1025.70,612.40 L1025.70,613.40 L1025.70,614.40 L1025.70,615.40 L1025.70,616.40 L1025.70,617.40 L1025.70,618.40 L1025.70,619.40 L1025.69,620.40 L1025.69,621.40 L1025.69,622.40 L1025.69,623.40 L1025.68,624.40 L1025.68,625.40 L1025.68,626.40 L1025.67,627.40 L1025.66,628.40 L1025.66,629.40 L1025.65,630.40 L1025.64,631.40 L1025.63,632.40 L1025.62,633.40 L1025.61,634.40 L1025.60,635.40 L1025.60,635.50 L1017.00,635.50 L1017.00,635.40 L1016.99,634.40 L1016.98,633.40 L1016.97,632.40 L1016.96,631.40 L1016.95,630.40 L1016.94,629.40 L1016.94,628.40 L1016.93,627.40 L1016.92,626.40 L1016.92,625.40 L1016.92,624.40 L1016.91,623.40 L1016.91,622.40 L1016.91,621.40 L1016.91,620.40 L1016.90,619.40 L1016.90,618.40 L1016.90,617.40 L1016.90,616.40 L1016.90,615.40 L1016.90,614.40 L1016.90,613.40 L1016.90,612.40 L1016.90,611.40 L1016.91,610.40 L1016.93,609.40 L1016.98,608.40 L1017.04,607.40 L1017.12,606.40 L1017.20,605.40 L1017.30,604.40 L1017.40,603.40 L1017.50,602.40 L1017.60,601.40 L1017.70,600.40 L1017.79,599.40 L1017.88,598.40 L1017.96,597.40 L1018.02,596.40 L1018.07,595.40 L1018.10,594.40 L1018.12,593.40 L1018.14,592.40 L1018.16,591.40 L1018.18,590.40 L1018.19,589.40 L1018.21,588.40 L1018.22,587.40 L1018.24,586.40 L1018.25,585.40 L1018.26,584.40 L1018.27,583.40 L1018.28,582.40 L1018.29,581.40 L1018.29,580.40 L1018.30,579.40 L1018.30,578.40 L1018.30,577.40 L1018.29,576.40 L1018.26,575.40 L1018.22,574.40 L1018.17,573.40 L1018.10,572.40 L1018.02,571.40 L1017.93,570.40 L1017.84,569.40 L1017.73,568.40 L1017.61,567.40 L1017.49,566.40 L1017.36,565.40 L1017.22,564.40 L1017.08,563.40 L1016.94,562.40 L1016.79,561.40 L1016.64,560.40 L1016.45,559.40 L1016.23,558.40 L1015.98,557.40 L1015.69,556.40 L1015.38,555.40 L1015.04,554.40 L1014.68,553.40 L1014.30,552.40 L1013.91,551.40 L1013.50,550.40 L1013.09,549.40 L1012.66,548.40 L1012.24,547.40 L1011.81,546.40 L1011.39,545.40 L1010.97,544.40 L1010.55,543.40 L1010.12,542.40 L1009.67,541.40 L1009.20,540.40 L1008.73,539.40 L1008.24,538.40 L1007.74,537.40 L1007.23,536.40 L1006.71,535.40 L1006.19,534.40 L1005.66,533.40 L1005.13,532.40 L1004.60,531.40 L1004.07,530.40 L1003.55,529.40 L1003.02,528.40 L1002.50,527.40 L1001.99,526.40 L1001.46,525.40 L1000.92,524.40 L1000.38,523.40 L999.84,522.40 L999.29,521.40 L998.74,520.40 L998.19,519.40 L997.64,518.40 L997.09,517.40 L996.55,516.40 L996.02,515.40 L995.49,514.40 L994.98,513.40 L994.47,512.40 L993.98,511.40 L993.50,510.40 L993.03,509.40 L992.56,508.40 L992.08,507.40 L991.61,506.40 L991.14,505.40 L990.68,504.40 L990.22,503.40 L989.77,502.40 L989.33,501.40 L988.90,500.40 L988.48,499.40 L988.08,498.40 L987.69,497.40 L987.33,496.40 L986.98,495.40 L986.65,494.40 L986.34,493.40 L986.04,492.40 L985.75,491.40 L985.45,490.40 L985.17,489.40 L984.89,488.40 L984.62,487.40 L984.35,486.40 L984.10,485.40 L983.86,484.40 L983.63,483.40 L983.41,482.40 L983.21,481.40 L983.02,480.40 L982.85,479.40 L982.70,478.40 L982.57,477.40 L982.46,476.40 L982.36,475.40 L982.26,474.40 L982.18,473.40 L982.10,472.40 L982.02,471.40 L981.95,470.40 L981.89,469.40 L981.83,468.40 L981.77,467.40 L981.71,466.40 L981.65,465.40 L981.59,464.40 L981.53,463.40 L981.47,462.40 L981.40,461.40 L981.33,460.40 L981.26,459.40 L981.19,458.40 L981.12,457.40 L981.05,456.40 L980.98,455.40 L980.92,454.40 L980.85,453.40 L980.78,452.40 L980.71,451.40 L980.64,450.40 L980.56,449.40 L980.48,448.40 L980.40,447.40 L980.30,446.40 L980.21,445.40 L980.10,444.40 L979.98,443.40 L979.84,442.40 L979.68,441.40 L979.51,440.40 L979.32,439.40 L979.12,438.40 L978.92,437.40 L978.70,436.40 L978.48,435.40 L978.25,434.40 L978.03,433.40 L977.80,432.40 L977.58,431.40 L977.37,430.40 L977.16,429.40 L976.95,428.40 L976.76,427.40 L976.57,426.40 L976.36,425.40 L976.15,424.40 L975.93,423.40 L975.71,422.40 L975.49,421.40 L975.27,420.40 L975.06,419.40 L974.85,418.40 L974.65,417.40 L974.47,416.40 L974.30,415.40 L974.15,414.40 L974.02,413.40 L973.92,412.40 L973.84,411.40 L973.78,410.40 L973.73,409.40 L973.68,408.40 L973.64,407.40 L973.59,406.40 L973.55,405.40 L973.51,404.40 L973.48,403.40 L973.44,402.40 L973.41,401.40 L973.39,400.40 L973.36,399.40 L973.34,398.40 L973.33,397.40 L973.31,396.40 L973.30,395.40 L973.30,394.40 L973.30,393.40 L973.31,392.40 L973.33,391.40 L973.35,390.40 L973.38,389.40 L973.41,388.40 L973.45,387.40 L973.49,386.40 L973.54,385.40 L973.59,384.40 L973.64,383.40 L973.70,382.40 L973.75,381.40 L973.81,380.40 L973.87,379.40 L973.93,378.40 L973.99,377.40 L974.05,376.40 L974.11,375.40 L974.18,374.40 L974.26,373.40 L974.33,372.40 L974.42,371.40 L974.50,370.40 L974.60,369.40 L974.69,368.40 L974.79,367.40 L974.90,366.40 L975.00,365.40 L975.12,364.40 L975.23,363.40 L975.35,362.40 L975.47,361.40 L975.60,360.40 L975.73,359.40 L975.88,358.40 L976.04,357.40 L976.21,356.40 L976.39,355.40 L976.57,354.40 L976.77,353.40 L976.97,352.40 L977.18,351.40 L977.39,350.40 L977.61,349.40 L977.83,348.40 L978.05,347.40 L978.27,346.40 L978.50,345.40 L978.72,344.40 L978.94,343.40 L979.17,342.40 L979.39,341.40 L979.61,340.40 L979.84,339.40 L980.07,338.40 L980.30,337.40 L980.54,336.40 L980.79,335.40 L981.05,334.40 L981.32,333.40 L981.60,332.40 L981.90,331.40 L982.21,330.40 L982.53,329.40 L982.89,328.40 L983.27,327.40 L983.68,326.40 L984.11,325.40 L984.57,324.40 L985.03,323.40 L985.52,322.40 L986.01,321.40 L986.50,320.40 L987.00,319.40 L987.50,318.40 L988.00,317.40 L988.50,316.40 L989.01,315.40 L989.53,314.40 L990.06,313.40 L990.60,312.40 L991.15,311.40 L991.71,310.40 L992.27,309.40 L992.83,308.40 L993.40,307.40 L993.96,306.40 L994.53,305.40 L995.09,304.40 L995.65,303.40 L996.21,302.40 L996.76,301.40 L997.30,300.40 L997.84,299.40 L998.39,298.40 L998.95,297.40 L999.51,296.40 L1000.07,295.40 L1000.64,294.40 L1001.20,293.40 L1001.75,292.40 L1002.31,291.40 L1002.85,290.40 L1003.38,289.40 L1003.91,288.40 L1004.42,287.40 L1004.91,286.40 L1005.39,285.40 L1005.85,284.40 L1006.29,283.40 L1006.71,282.40 L1007.13,281.40 L1007.55,280.40 L1007.96,279.40 L1008.36,278.40 L1008.75,277.40 L1009.14,276.40 L1009.51,275.40 L1009.88,274.40 L1010.24,273.40 L1010.58,272.40 L1010.92,271.40 L1011.24,270.40 L1011.55,269.40 L1011.85,268.40 L1012.14,267.40 L1012.41,266.40 L1012.68,265.40 L1012.94,264.40 L1013.20,263.40 L1013.46,262.40 L1013.71,261.40 L1013.96,260.40 L1014.20,259.40 L1014.43,258.40 L1014.65,257.40 L1014.86,256.40 L1015.06,255.40 L1015.25,254.40 L1015.42,253.40 L1015.58,252.40 L1015.73,251.40 L1015.85,250.40 L1015.97,249.40 L1016.06,248.40 L1016.15,247.40 L1016.24,246.40 L1016.31,245.40 L1016.38,244.40 L1016.45,243.40 L1016.52,242.40 L1016.59,241.40 L1016.67,240.40 L1016.75,239.40 L1016.83,238.40 L1016.90,237.40 L1016.98,236.40 L1017.06,235.40 L1017.14,234.40 L1017.21,233.40 L1017.29,232.40 L1017.37,231.40 L1017.45,230.40 L1017.52,229.40 L1017.60,228.40 L1017.68,227.40 L1017.76,226.40 L1017.85,225.40 L1017.93,224.40 L1018.02,223.40 L1018.10,222.40 L1018.19,221.40 L1018.28,220.40 L1018.36,219.40 L1018.45,218.40 L1018.53,217.40 L1018.62,216.40 L1018.70,215.40 L1018.79,214.40 L1018.87,213.40 L1018.95,212.40 L1019.02,211.40 L1019.10,210.40 L1019.17,209.40 L1019.25,208.40 L1019.32,207.40 L1019.39,206.40 L1019.46,205.40 L1019.53,204.40 L1019.60,203.40 L1019.67,202.40 L1019.74,201.40 L1019.81,200.40 L1019.88,199.40 L1019.95,198.40 L1020.01,197.40 L1020.08,196.40 L1020.14,195.40 L1020.21,194.40 L1020.27,193.40 L1020.33,192.40 L1020.39,191.40 L1020.46,190.40 L1020.52,189.40 L1020.57,188.40 L1020.63,187.40 L1020.69,186.40 L1020.75,185.40 L1020.80,184.40Z" fill="#5841b5" stroke="#4d35ae" stroke-width="1.1"/>
<path d="M1135.60,184.90 L1135.60,185.90 L1135.60,186.90 L1135.61,187.90 L1135.62,188.90 L1135.63,189.90 L1135.64,190.90 L1135.66,191.90 L1135.67,192.90 L1135.69,193.90 L1135.71,194.90 L1135.73,195.90 L1135.76,196.90 L1135.78,197.90 L1135.81,198.90 L1135.84,199.90 L1135.87,200.90 L1135.90,201.90 L1135.93,202.90 L1135.96,203.90 L1136.00,204.90 L1136.03,205.90 L1136.07,206.90 L1136.10,207.90 L1136.14,208.90 L1136.18,209.90 L1136.22,210.90 L1136.27,211.90 L1136.32,212.90 L1136.38,213.90 L1136.45,214.90 L1136.53,215.90 L1136.61,216.90 L1136.69,217.90 L1136.79,218.90 L1136.88,219.90 L1136.98,220.90 L1137.09,221.90 L1137.20,222.90 L1137.31,223.90 L1137.43,224.90 L1137.54,225.90 L1137.66,226.90 L1137.79,227.90 L1137.92,228.90 L1138.06,229.90 L1138.21,230.90 L1138.37,231.90 L1138.54,232.90 L1138.72,233.90 L1138.91,234.90 L1139.10,235.90 L1139.31,236.90 L1139.52,237.90 L1139.74,238.90 L1139.98,239.90 L1140.22,240.90 L1140.49,241.90 L1140.78,242.90 L1141.10,243.90 L1141.43,244.90 L1141.77,245.90 L1142.13,246.90 L1142.51,247.90 L1142.89,248.90 L1143.28,249.90 L1143.68,250.90 L1144.09,251.90 L1144.50,252.90 L1144.91,253.90 L1145.32,254.90 L1145.73,255.90 L1146.14,256.90 L1146.55,257.90 L1146.98,258.90 L1147.41,259.90 L1147.85,260.90 L1148.30,261.90 L1148.76,262.90 L1149.22,263.90 L1149.69,264.90 L1150.16,265.90 L1150.64,266.90 L1151.11,267.90 L1151.59,268.90 L1152.06,269.90 L1152.54,270.90 L1153.01,271.90 L1153.48,272.90 L1153.94,273.90 L1154.41,274.90 L1154.88,275.90 L1155.36,276.90 L1155.84,277.90 L1156.32,278.90 L1156.80,279.90 L1157.28,280.90 L1157.77,281.90 L1158.24,282.90 L1158.72,283.90 L1159.18,284.90 L1159.65,285.90 L1160.10,286.90 L1160.54,287.90 L1160.97,288.90 L1161.39,289.90 L1161.80,290.90 L1162.21,291.90 L1162.62,292.90 L1163.02,293.90 L1163.43,294.90 L1163.82,295.90 L1164.22,296.90 L1164.60,297.90 L1164.98,298.90 L1165.36,299.90 L1165.72,300.90 L1166.07,301.90 L1166.41,302.90 L1166.73,303.90 L1167.04,304.90 L1167.34,305.90 L1167.62,306.90 L1167.89,307.90 L1168.15,308.90 L1168.42,309.90 L1168.67,310.90 L1168.93,311.90 L1169.17,312.90 L1169.40,313.90 L1169.62,314.90 L1169.82,315.90 L1170.00,316.90 L1170.16,317.90 L1170.30,318.90 L1170.41,319.90 L1170.51,320.90 L1170.61,321.90 L1170.71,322.90 L1170.80,323.90 L1170.88,324.90 L1170.95,325.90 L1171.01,326.90 L1171.06,327.90 L1171.09,328.90 L1171.10,329.90 L1171.09,330.90 L1171.08,331.90 L1171.05,332.90 L1171.01,333.90 L1170.97,334.90 L1170.91,335.90 L1170.86,336.90 L1170.79,337.90 L1170.73,338.90 L1170.66,339.90 L1170.59,340.90 L1170.52,341.90 L1170.45,342.90 L1170.38,343.90 L1170.30,344.90 L1170.20,345.90 L1170.10,346.90 L1169.98,347.90 L1169.86,348.90 L1169.73,349.90 L1169.60,350.90 L1169.47,351.90 L1169.35,352.90 L1169.23,353.90 L1169.12,354.90 L1169.02,355.90 L1168.94,356.90 L1168.87,357.90 L1168.83,358.90 L1168.80,359.90 L1168.80,360.90 L1168.80,361.90 L1168.80,362.90 L1168.81,363.90 L1168.81,364.90 L1168.82,365.90 L1168.83,366.90 L1168.84,367.90 L1168.85,368.90 L1168.86,369.90 L1168.87,370.90 L1168.88,371.90 L1168.89,372.90 L1168.91,373.90 L1168.92,374.90 L1168.93,375.90 L1168.95,376.90 L1168.96,377.90 L1168.97,378.90 L1168.99,379.90 L1169.00,380.90 L1169.01,381.90 L1169.02,382.90 L1169.03,383.90 L1169.05,384.90 L1169.06,385.90 L1169.07,386.90 L1169.07,387.90 L1169.08,388.90 L1169.09,389.90 L1169.09,390.90 L1169.10,391.90 L1169.10,392.90 L1169.10,393.90 L1169.10,394.90 L1169.10,395.90 L1169.10,396.90 L1169.09,397.90 L1169.09,398.90 L1169.08,399.90 L1169.08,400.90 L1169.07,401.90 L1169.07,402.90 L1169.06,403.90 L1169.05,404.90 L1169.04,405.90 L1169.03,406.90 L1169.03,407.90 L1169.02,408.90 L1169.01,409.90 L1169.00,410.90 L1168.98,411.90 L1168.97,412.90 L1168.96,413.90 L1168.95,414.90 L1168.94,415.90 L1168.93,416.90 L1168.92,417.90 L1168.90,418.90 L1168.89,419.90 L1168.88,420.90 L1168.87,421.90 L1168.86,422.90 L1168.84,423.90 L1168.83,424.90 L1168.82,425.90 L1168.81,426.90 L1168.80,427.90 L1168.79,428.90 L1168.78,429.90 L1168.77,430.90 L1168.76,431.90 L1168.75,432.90 L1168.74,433.90 L1168.74,434.90 L1168.73,435.90 L1168.72,436.90 L1168.72,437.90 L1168.71,438.90 L1168.71,439.90 L1168.71,440.90 L1168.70,441.90 L1168.70,442.90 L1168.70,443.90 L1168.70,444.90 L1168.70,445.90 L1168.71,446.90 L1168.71,447.90 L1168.72,448.90 L1168.73,449.90 L1168.74,450.90 L1168.75,451.90 L1168.76,452.90 L1168.77,453.90 L1168.77,454.90 L1168.78,455.90 L1168.79,456.90 L1168.80,457.90 L1168.80,458.90 L1168.80,459.90 L1168.79,460.90 L1168.77,461.90 L1168.73,462.90 L1168.68,463.90 L1168.61,464.90 L1168.53,465.90 L1168.45,466.90 L1168.35,467.90 L1168.24,468.90 L1168.12,469.90 L1168.00,470.90 L1167.87,471.90 L1167.74,472.90 L1167.60,473.90 L1167.47,474.90 L1167.33,475.90 L1167.19,476.90 L1167.03,477.90 L1166.86,478.90 L1166.66,479.90 L1166.45,480.90 L1166.22,481.90 L1165.97,482.90 L1165.71,483.90 L1165.44,484.90 L1165.16,485.90 L1164.86,486.90 L1164.56,487.90 L1164.26,488.90 L1163.95,489.90 L1163.64,490.90 L1163.33,491.90 L1163.02,492.90 L1162.71,493.90 L1162.38,494.90 L1162.04,495.90 L1161.69,496.90 L1161.32,497.90 L1160.94,498.90 L1160.56,499.90 L1160.17,500.90 L1159.77,501.90 L1159.37,502.90 L1158.97,503.90 L1158.57,504.90 L1158.18,505.90 L1157.79,506.90 L1157.41,507.90 L1157.03,508.90 L1156.67,509.90 L1156.33,510.90 L1155.99,511.90 L1155.65,512.90 L1155.31,513.90 L1154.98,514.90 L1154.66,515.90 L1154.33,516.90 L1154.01,517.90 L1153.69,518.90 L1153.37,519.90 L1153.06,520.90 L1152.74,521.90 L1152.43,522.90 L1152.12,523.90 L1151.81,524.90 L1151.50,525.90 L1151.19,526.90 L1150.88,527.90 L1150.57,528.90 L1150.25,529.90 L1149.94,530.90 L1149.62,531.90 L1149.30,532.90 L1148.99,533.90 L1148.67,534.90 L1148.36,535.90 L1148.06,536.90 L1147.76,537.90 L1147.47,538.90 L1147.18,539.90 L1146.90,540.90 L1146.63,541.90 L1146.37,542.90 L1146.12,543.90 L1145.89,544.90 L1145.66,545.90 L1145.43,546.90 L1145.22,547.90 L1145.01,548.90 L1144.80,549.90 L1144.60,550.90 L1144.40,551.90 L1144.21,552.90 L1144.02,553.90 L1143.83,554.90 L1143.64,555.90 L1143.45,556.90 L1143.26,557.90 L1143.07,558.90 L1142.88,559.90 L1142.68,560.90 L1142.48,561.90 L1142.28,562.90 L1142.08,563.90 L1141.88,564.90 L1141.68,565.90 L1141.49,566.90 L1141.29,567.90 L1141.09,568.90 L1140.89,569.90 L1140.70,570.90 L1140.51,571.90 L1140.32,572.90 L1140.14,573.90 L1139.96,574.90 L1139.79,575.90 L1139.62,576.90 L1139.45,577.90 L1139.29,578.90 L1139.13,579.90 L1138.98,580.90 L1138.83,581.90 L1138.68,582.90 L1138.54,583.90 L1138.40,584.90 L1138.26,585.90 L1138.12,586.90 L1137.98,587.90 L1137.84,588.90 L1137.71,589.90 L1137.57,590.90 L1137.44,591.90 L1137.30,592.90 L1137.17,593.90 L1137.03,594.90 L1136.90,595.90 L1136.76,596.90 L1136.63,597.90 L1136.50,598.90 L1136.37,599.90 L1136.24,600.90 L1136.12,601.90 L1135.99,602.90 L1135.86,603.90 L1135.80,604.40 L1127.80,604.40 L1127.74,603.90 L1127.61,602.90 L1127.48,601.90 L1127.36,600.90 L1127.23,599.90 L1127.10,598.90 L1126.97,597.90 L1126.84,596.90 L1126.70,595.90 L1126.57,594.90 L1126.43,593.90 L1126.30,592.90 L1126.16,591.90 L1126.03,590.90 L1125.89,589.90 L1125.76,588.90 L1125.62,587.90 L1125.48,586.90 L1125.34,585.90 L1125.20,584.90 L1125.06,583.90 L1124.92,582.90 L1124.77,581.90 L1124.62,580.90 L1124.47,579.90 L1124.31,578.90 L1124.15,577.90 L1123.98,576.90 L1123.81,575.90 L1123.64,574.90 L1123.46,573.90 L1123.28,572.90 L1123.09,571.90 L1122.90,570.90 L1122.71,569.90 L1122.51,568.90 L1122.31,567.90 L1122.11,566.90 L1121.92,565.90 L1121.72,564.90 L1121.52,563.90 L1121.32,562.90 L1121.12,561.90 L1120.92,560.90 L1120.72,559.90 L1120.53,558.90 L1120.34,557.90 L1120.15,556.90 L1119.96,555.90 L1119.77,554.90 L1119.58,553.90 L1119.39,552.90 L1119.20,551.90 L1119.00,550.90 L1118.80,549.90 L1118.59,548.90 L1118.38,547.90 L1118.17,546.90 L1117.94,545.90 L1117.71,544.90 L1117.48,543.90 L1117.23,542.90 L1116.97,541.90 L1116.70,540.90 L1116.42,539.90 L1116.13,538.90 L1115.84,537.90 L1115.54,536.90 L1115.24,535.90 L1114.93,534.90 L1114.61,533.90 L1114.30,532.90 L1113.98,531.90 L1113.66,530.90 L1113.35,529.90 L1113.03,528.90 L1112.72,527.90 L1112.41,526.90 L1112.10,525.90 L1111.79,524.90 L1111.48,523.90 L1111.17,522.90 L1110.86,521.90 L1110.54,520.90 L1110.23,519.90 L1109.91,518.90 L1109.59,517.90 L1109.27,516.90 L1108.94,515.90 L1108.62,514.90 L1108.29,513.90 L1107.95,512.90 L1107.61,511.90 L1107.27,510.90 L1106.93,509.90 L1106.57,508.90 L1106.19,507.90 L1105.81,506.90 L1105.42,505.90 L1105.03,504.90 L1104.63,503.90 L1104.23,502.90 L1103.83,501.90 L1103.43,500.90 L1103.04,499.90 L1102.66,498.90 L1102.28,497.90 L1101.91,496.90 L1101.56,495.90 L1101.22,494.90 L1100.89,493.90 L1100.58,492.90 L1100.27,491.90 L1099.96,490.90 L1099.65,489.90 L1099.34,488.90 L1099.04,487.90 L1098.74,486.90 L1098.44,485.90 L1098.16,484.90 L1097.89,483.90 L1097.63,482.90 L1097.38,481.90 L1097.15,480.90 L1096.94,479.90 L1096.74,478.90 L1096.57,477.90 L1096.41,476.90 L1096.27,475.90 L1096.13,474.90 L1096.00,473.90 L1095.86,472.90 L1095.73,471.90 L1095.60,470.90 L1095.48,469.90 L1095.36,468.90 L1095.25,467.90 L1095.15,466.90 L1095.07,465.90 L1094.99,464.90 L1094.92,463.90 L1094.87,462.90 L1094.83,461.90 L1094.81,460.90 L1094.80,459.90 L1094.80,458.90 L1094.80,457.90 L1094.81,456.90 L1094.82,455.90 L1094.83,454.90 L1094.83,453.90 L1094.84,452.90 L1094.85,451.90 L1094.86,450.90 L1094.87,449.90 L1094.88,448.90 L1094.89,447.90 L1094.89,446.90 L1094.90,445.90 L1094.90,444.90 L1094.90,443.90 L1094.90,442.90 L1094.90,441.90 L1094.89,440.90 L1094.89,439.90 L1094.89,438.90 L1094.88,437.90 L1094.88,436.90 L1094.87,435.90 L1094.86,434.90 L1094.86,433.90 L1094.85,432.90 L1094.84,431.90 L1094.83,430.90 L1094.82,429.90 L1094.81,428.90 L1094.80,427.90 L1094.79,426.90 L1094.78,425.90 L1094.77,424.90 L1094.76,423.90 L1094.74,422.90 L1094.73,421.90 L1094.72,420.90 L1094.71,419.90 L1094.70,418.90 L1094.68,417.90 L1094.67,416.90 L1094.66,415.90 L1094.65,414.90 L1094.64,413.90 L1094.63,412.90 L1094.62,411.90 L1094.60,410.90 L1094.59,409.90 L1094.58,408.90 L1094.57,407.90 L1094.57,406.90 L1094.56,405.90 L1094.55,404.90 L1094.54,403.90 L1094.53,402.90 L1094.53,401.90 L1094.52,400.90 L1094.52,399.90 L1094.51,398.90 L1094.51,397.90 L1094.50,396.90 L1094.50,395.90 L1094.50,394.90 L1094.50,393.90 L1094.50,392.90 L1094.50,391.90 L1094.51,390.90 L1094.51,389.90 L1094.52,388.90 L1094.53,387.90 L1094.53,386.90 L1094.54,385.90 L1094.55,384.90 L1094.57,383.90 L1094.58,382.90 L1094.59,381.90 L1094.60,380.90 L1094.61,379.90 L1094.63,378.90 L1094.64,377.90 L1094.65,376.90 L1094.67,375.90 L1094.68,374.90 L1094.69,373.90 L1094.71,372.90 L1094.72,371.90 L1094.73,370.90 L1094.74,369.90 L1094.75,368.90 L1094.76,367.90 L1094.77,366.90 L1094.78,365.90 L1094.79,364.90 L1094.79,363.90 L1094.80,362.90 L1094.80,361.90 L1094.80,360.90 L1094.80,359.90 L1094.77,358.90 L1094.73,357.90 L1094.66,356.90 L1094.58,355.90 L1094.48,354.90 L1094.37,353.90 L1094.25,352.90 L1094.13,351.90 L1094.00,350.90 L1093.87,349.90 L1093.74,348.90 L1093.62,347.90 L1093.50,346.90 L1093.40,345.90 L1093.30,344.90 L1093.22,343.90 L1093.15,342.90 L1093.08,341.90 L1093.01,340.90 L1092.94,339.90 L1092.87,338.90 L1092.81,337.90 L1092.74,336.90 L1092.69,335.90 L1092.63,334.90 L1092.59,333.90 L1092.55,332.90 L1092.52,331.90 L1092.51,330.90 L1092.50,329.90 L1092.51,328.90 L1092.54,327.90 L1092.59,326.90 L1092.65,325.90 L1092.72,324.90 L1092.80,323.90 L1092.89,322.90 L1092.99,321.90 L1093.09,320.90 L1093.19,319.90 L1093.30,318.90 L1093.44,317.90 L1093.60,316.90 L1093.78,315.90 L1093.98,314.90 L1094.20,313.90 L1094.43,312.90 L1094.67,311.90 L1094.93,310.90 L1095.18,309.90 L1095.45,308.90 L1095.71,307.90 L1095.98,306.90 L1096.26,305.90 L1096.56,304.90 L1096.87,303.90 L1097.19,302.90 L1097.53,301.90 L1097.88,300.90 L1098.24,299.90 L1098.62,298.90 L1099.00,297.90 L1099.38,296.90 L1099.78,295.90 L1100.17,294.90 L1100.58,293.90 L1100.98,292.90 L1101.39,291.90 L1101.80,290.90 L1102.21,289.90 L1102.63,288.90 L1103.06,287.90 L1103.50,286.90 L1103.95,285.90 L1104.42,284.90 L1104.88,283.90 L1105.36,282.90 L1105.83,281.90 L1106.32,280.90 L1106.80,279.90 L1107.28,278.90 L1107.76,277.90 L1108.24,276.90 L1108.72,275.90 L1109.19,274.90 L1109.66,273.90 L1110.12,272.90 L1110.59,271.90 L1111.06,270.90 L1111.54,269.90 L1112.01,268.90 L1112.49,267.90 L1112.96,266.90 L1113.44,265.90 L1113.91,264.90 L1114.38,263.90 L1114.84,262.90 L1115.30,261.90 L1115.75,260.90 L1116.19,259.90 L1116.62,258.90 L1117.05,257.90 L1117.46,256.90 L1117.87,255.90 L1118.28,254.90 L1118.69,253.90 L1119.10,252.90 L1119.51,251.90 L1119.92,250.90 L1120.32,249.90 L1120.71,248.90 L1121.09,247.90 L1121.47,246.90 L1121.83,245.90 L1122.17,244.90 L1122.50,243.90 L1122.82,242.90 L1123.11,241.90 L1123.38,240.90 L1123.62,239.90 L1123.86,238.90 L1124.08,237.90 L1124.29,236.90 L1124.50,235.90 L1124.69,234.90 L1124.88,233.90 L1125.06,232.90 L1125.23,231.90 L1125.39,230.90 L1125.54,229.90 L1125.68,228.90 L1125.81,227.90 L1125.94,226.90 L1126.06,225.90 L1126.17,224.90 L1126.29,223.90 L1126.40,222.90 L1126.51,221.90 L1126.62,220.90 L1126.72,219.90 L1126.81,218.90 L1126.91,217.90 L1126.99,216.90 L1127.07,215.90 L1127.15,214.90 L1127.22,213.90 L1127.28,212.90 L1127.33,211.90 L1127.38,210.90 L1127.42,209.90 L1127.46,208.90 L1127.50,207.90 L1127.53,206.90 L1127.57,205.90 L1127.60,204.90 L1127.64,203.90 L1127.67,202.90 L1127.70,201.90 L1127.73,200.90 L1127.76,199.90 L1127.79,198.90 L1127.82,197.90 L1127.84,196.90 L1127.87,195.90 L1127.89,194.90 L1127.91,193.90 L1127.93,192.90 L1127.94,191.90 L1127.96,190.90 L1127.97,189.90 L1127.98,188.90 L1127.99,187.90 L1128.00,186.90 L1128.00,185.90 L1128.00,184.90Z" fill="#9a25b2" stroke="#9018ab" stroke-width="1.1"/>
<circle class="d" cx="794.6" cy="54.8" r="3.4"/>
<circle class="d" cx="799.6" cy="305.9" r="3.4"/>
<circle class="d" cx="797.1" cy="318.5" r="3.4"/>
<circle class="d" cx="797.8" cy="319.5" r="3.4"/>
<circle class="d" cx="794.6" cy="337.8" r="3.4"/>
<circle class="d" cx="803.0" cy="348.7" r="3.4"/>
<circle class="d" cx="803.0" cy="352.1" r="3.4"/>
<circle class="d" cx="800.5" cy="386.7" r="3.4"/>
<circle class="d" cx="799.6" cy="398.8" r="3.4"/>
<circle class="d" cx="805.5" cy="397.9" r="3.4"/>
<circle class="d" cx="802.1" cy="427.3" r="3.4"/>
<circle class="d" cx="796.3" cy="430.7" r="3.4"/>
<circle class="d" cx="797.1" cy="479.4" r="3.4"/>
<circle class="d" cx="803.8" cy="479.4" r="3.4"/>
<circle class="d" cx="795.4" cy="495.4" r="3.4"/>
<circle class="d" cx="795.1" cy="496.4" r="3.4"/>
<circle class="d" cx="803.8" cy="500.9" r="3.4"/>
<circle class="d" cx="798.4" cy="534.5" r="3.4"/>
<circle class="d" cx="801.3" cy="621.0" r="3.4"/>
<circle class="d" cx="798.0" cy="637.8" r="3.4"/>
<circle class="d" cx="800.0" cy="410.0" r="3.4"/>
<circle class="d" cx="798.0" cy="416.0" r="3.4"/>
<circle class="d" cx="795.8" cy="493.5" r="3.4"/>
<circle class="d" cx="906.8" cy="54.8" r="3.4"/>
<circle class="d" cx="912.0" cy="54.8" r="3.4"/>
<circle class="d" cx="912.3" cy="55.0" r="3.4"/>
<circle class="d" cx="912.6" cy="54.6" r="3.4"/>
<circle class="d" cx="905.4" cy="183.1" r="3.4"/>
<circle class="d" cx="909.0" cy="245.1" r="3.4"/>
<circle class="d" cx="909.3" cy="245.5" r="3.4"/>
<circle class="d" cx="912.7" cy="279.6" r="3.4"/>
<circle class="d" cx="908.0" cy="284.8" r="3.4"/>
<circle class="d" cx="916.1" cy="284.8" r="3.4"/>
<circle class="d" cx="907.1" cy="305.6" r="3.4"/>
<circle class="d" cx="914.6" cy="305.6" r="3.4"/>
<circle class="d" cx="909.9" cy="311.3" r="3.4"/>
<circle class="d" cx="915.6" cy="313.2" r="3.4"/>
<circle class="d" cx="908.0" cy="317.0" r="3.4"/>
<circle class="d" cx="913.7" cy="318.9" r="3.4"/>
<circle class="d" cx="909.9" cy="316.9" r="3.4"/>
<circle class="d" cx="915.6" cy="316.4" r="3.4"/>
<circle class="d" cx="909.9" cy="322.6" r="3.4"/>
<circle class="d" cx="908.5" cy="324.5" r="3.4"/>
<circle class="d" cx="911.0" cy="320.0" r="3.4"/>
<circle class="d" cx="912.0" cy="314.0" r="3.4"/>
<circle class="d" cx="911.3" cy="331.1" r="3.4"/>
<circle class="d" cx="906.6" cy="337.7" r="3.4"/>
<circle class="d" cx="904.7" cy="353.8" r="3.4"/>
<circle class="d" cx="910.9" cy="352.4" r="3.4"/>
<circle class="d" cx="911.5" cy="352.9" r="3.4"/>
<circle class="d" cx="914.2" cy="353.8" r="3.4"/>
<circle class="d" cx="914.6" cy="360.9" r="3.4"/>
<circle class="d" cx="907.5" cy="366.5" r="3.4"/>
<circle class="d" cx="909.0" cy="385.0" r="3.4"/>
<circle class="d" cx="913.0" cy="392.0" r="3.4"/>
<circle class="d" cx="907.1" cy="400.6" r="3.4"/>
<circle class="d" cx="916.1" cy="400.6" r="3.4"/>
<circle class="d" cx="908.0" cy="401.4" r="3.4"/>
<circle class="d" cx="916.5" cy="401.4" r="3.4"/>
<circle class="d" cx="906.1" cy="409.5" r="3.4"/>
<circle class="d" cx="907.1" cy="415.1" r="3.4"/>
<circle class="d" cx="913.7" cy="415.6" r="3.4"/>
<circle class="d" cx="908.0" cy="415.0" r="3.4"/>
<circle class="d" cx="907.1" cy="427.4" r="3.4"/>
<circle class="d" cx="907.5" cy="434.0" r="3.4"/>
<circle class="d" cx="911.3" cy="445.9" r="3.4"/>
<circle class="d" cx="907.1" cy="454.8" r="3.4"/>
<circle class="d" cx="907.6" cy="455.2" r="3.4"/>
<circle class="d" cx="916.5" cy="455.8" r="3.4"/>
<circle class="d" cx="913.2" cy="471.9" r="3.4"/>
<circle class="d" cx="906.1" cy="478.5" r="3.4"/>
<circle class="d" cx="915.6" cy="477.5" r="3.4"/>
<circle class="d" cx="906.5" cy="479.0" r="3.4"/>
<circle class="d" cx="913.5" cy="472.5" r="3.4"/>
<circle class="d" cx="907.1" cy="493.5" r="3.4"/>
<circle class="d" cx="908.0" cy="499.2" r="3.4"/>
<circle class="d" cx="914.6" cy="501.1" r="3.4"/>
<circle class="d" cx="907.5" cy="494.0" r="3.4"/>
<circle class="d" cx="912.7" cy="520.5" r="3.4"/>
<circle class="d" cx="908.0" cy="534.2" r="3.4"/>
<circle class="d" cx="914.2" cy="534.2" r="3.4"/>
<circle class="d" cx="907.1" cy="569.2" r="3.4"/>
<circle class="d" cx="913.7" cy="569.2" r="3.4"/>
<circle class="d" cx="907.5" cy="569.5" r="3.4"/>
<circle class="d" cx="908.0" cy="605.9" r="3.4"/>
<circle class="d" cx="911.3" cy="620.2" r="3.4"/>
<circle class="d" cx="914.6" cy="620.2" r="3.4"/>
<circle class="d" cx="906.3" cy="637.5" r="3.4"/>
<circle class="d" cx="909.7" cy="312.8" r="3.4"/>
<circle class="d" cx="905.6" cy="411.0" r="3.4"/>
<circle class="d" cx="913.3" cy="416.6" r="3.4"/>
<circle class="d" cx="912.3" cy="319.2" r="3.4"/>
<circle class="d" cx="910.6" cy="312.5" r="3.4"/>
<circle class="d" cx="905.9" cy="408.0" r="3.4"/>
<circle class="d" cx="907.6" cy="411.4" r="3.4"/>
<circle class="d" cx="910.6" cy="322.1" r="3.4"/>
<circle class="d" cx="914.8" cy="314.1" r="3.4"/>
<circle class="d" cx="914.5" cy="318.9" r="3.4"/>
<circle class="d" cx="911.8" cy="315.6" r="3.4"/>
<circle class="d" cx="914.2" cy="318.1" r="3.4"/>
<circle class="d" cx="914.9" cy="315.1" r="3.4"/>
<circle class="d" cx="909.5" cy="321.1" r="3.4"/>
<circle class="d" cx="914.2" cy="305.9" r="3.4"/>
<circle class="d" cx="917.2" cy="318.0" r="3.4"/>
<circle class="d" cx="909.2" cy="414.9" r="3.4"/>
<circle class="d" cx="915.2" cy="316.0" r="3.4"/>
<circle class="d" cx="911.1" cy="310.3" r="3.4"/>
<circle class="d" cx="914.5" cy="306.5" r="3.4"/>
<circle class="d" cx="909.4" cy="317.5" r="3.4"/>
<circle class="d" cx="913.6" cy="313.6" r="3.4"/>
<circle class="d" cx="911.4" cy="322.3" r="3.4"/>
<circle class="d" cx="910.1" cy="312.1" r="3.4"/>
<circle class="d" cx="907.4" cy="322.8" r="3.4"/>
<circle class="d" cx="915.1" cy="312.5" r="3.4"/>
<circle class="d" cx="911.5" cy="322.1" r="3.4"/>
<circle class="d" cx="915.9" cy="311.2" r="3.4"/>
<circle class="d" cx="909.2" cy="316.4" r="3.4"/>
<circle class="d" cx="910.1" cy="311.8" r="3.4"/>
<circle class="d" cx="913.8" cy="313.4" r="3.4"/>
<circle class="d" cx="910.8" cy="318.9" r="3.4"/>
<circle class="d" cx="909.0" cy="403.2" r="3.4"/>
<circle class="d" cx="906.4" cy="352.3" r="3.4"/>
<circle class="d" cx="905.9" cy="305.2" r="3.4"/>
<circle class="d" cx="910.8" cy="320.1" r="3.4"/>
<circle class="d" cx="910.3" cy="314.7" r="3.4"/>
<circle class="d" cx="908.9" cy="312.2" r="3.4"/>
<circle class="d" cx="910.6" cy="319.2" r="3.4"/>
<circle class="d" cx="910.0" cy="350.5" r="3.4"/>
<circle class="d" cx="906.1" cy="318.2" r="3.4"/>
<circle class="d" cx="911.8" cy="310.2" r="3.4"/>
<circle class="d" cx="914.0" cy="318.1" r="3.4"/>
<circle class="d" cx="908.3" cy="316.5" r="3.4"/>
<circle class="d" cx="1025.2" cy="183.2" r="3.4"/>
<circle class="d" cx="1019.0" cy="240.4" r="3.4"/>
<circle class="d" cx="1020.9" cy="246.1" r="3.4"/>
<circle class="d" cx="1027.0" cy="245.1" r="3.4"/>
<circle class="d" cx="1017.6" cy="280.3" r="3.4"/>
<circle class="d" cx="1016.3" cy="285.3" r="3.4"/>
<circle class="d" cx="1015.5" cy="304.6" r="3.4"/>
<circle class="d" cx="1020.5" cy="304.6" r="3.4"/>
<circle class="d" cx="1026.4" cy="304.6" r="3.4"/>
<circle class="d" cx="1026.8" cy="310.5" r="3.4"/>
<circle class="d" cx="1016.3" cy="317.2" r="3.4"/>
<circle class="d" cx="1023.0" cy="318.0" r="3.4"/>
<circle class="d" cx="1026.4" cy="318.9" r="3.4"/>
<circle class="d" cx="1017.1" cy="317.8" r="3.4"/>
<circle class="d" cx="1024.6" cy="317.8" r="3.4"/>
<circle class="d" cx="1020.9" cy="320.7" r="3.4"/>
<circle class="d" cx="1020.0" cy="319.0" r="3.4"/>
<circle class="d" cx="1020.5" cy="329.0" r="3.4"/>
<circle class="d" cx="1016.1" cy="331.1" r="3.4"/>
<circle class="d" cx="1022.7" cy="332.0" r="3.4"/>
<circle class="d" cx="1017.1" cy="337.7" r="3.4"/>
<circle class="d" cx="1023.7" cy="338.2" r="3.4"/>
<circle class="d" cx="1016.1" cy="351.9" r="3.4"/>
<circle class="d" cx="1021.8" cy="351.4" r="3.4"/>
<circle class="d" cx="1026.5" cy="352.8" r="3.4"/>
<circle class="d" cx="1017.1" cy="359.4" r="3.4"/>
<circle class="d" cx="1023.7" cy="358.5" r="3.4"/>
<circle class="d" cx="1025.6" cy="360.4" r="3.4"/>
<circle class="d" cx="1022.0" cy="357.0" r="3.4"/>
<circle class="d" cx="1020.0" cy="356.0" r="3.4"/>
<circle class="d" cx="1018.0" cy="367.5" r="3.4"/>
<circle class="d" cx="1022.7" cy="376.9" r="3.4"/>
<circle class="d" cx="1016.1" cy="387.8" r="3.4"/>
<circle class="d" cx="1022.7" cy="387.8" r="3.4"/>
<circle class="d" cx="1027.5" cy="389.7" r="3.4"/>
<circle class="d" cx="1016.6" cy="397.3" r="3.4"/>
<circle class="d" cx="1025.6" cy="396.3" r="3.4"/>
<circle class="d" cx="1020.0" cy="403.0" r="3.4"/>
<circle class="d" cx="1023.0" cy="406.0" r="3.4"/>
<circle class="d" cx="1018.0" cy="414.0" r="3.4"/>
<circle class="d" cx="1024.0" cy="418.0" r="3.4"/>
<circle class="d" cx="1018.0" cy="429.3" r="3.4"/>
<circle class="d" cx="1025.6" cy="428.4" r="3.4"/>
<circle class="d" cx="1018.5" cy="432.2" r="3.4"/>
<circle class="d" cx="1019.0" cy="430.0" r="3.4"/>
<circle class="d" cx="1018.0" cy="446.3" r="3.4"/>
<circle class="d" cx="1024.6" cy="446.3" r="3.4"/>
<circle class="d" cx="1020.9" cy="450.1" r="3.4"/>
<circle class="d" cx="1025.1" cy="454.8" r="3.4"/>
<circle class="d" cx="1021.0" cy="448.0" r="3.4"/>
<circle class="d" cx="1019.9" cy="470.9" r="3.4"/>
<circle class="d" cx="1017.1" cy="478.5" r="3.4"/>
<circle class="d" cx="1023.7" cy="478.5" r="3.4"/>
<circle class="d" cx="1026.5" cy="480.4" r="3.4"/>
<circle class="d" cx="1021.0" cy="477.0" r="3.4"/>
<circle class="d" cx="1020.0" cy="479.0" r="3.4"/>
<circle class="d" cx="1021.8" cy="487.9" r="3.4"/>
<circle class="d" cx="1022.1" cy="490.2" r="3.4"/>
<circle class="d" cx="1022.1" cy="498.6" r="3.4"/>
<circle class="d" cx="1021.5" cy="497.8" r="3.4"/>
<circle class="d" cx="1017.1" cy="520.5" r="3.4"/>
<circle class="d" cx="1023.8" cy="520.5" r="3.4"/>
<circle class="d" cx="1022.1" cy="534.7" r="3.4"/>
<circle class="d" cx="1021.6" cy="535.2" r="3.4"/>
<circle class="d" cx="1022.1" cy="606.1" r="3.4"/>
<circle class="d" cx="1016.3" cy="621.2" r="3.4"/>
<circle class="d" cx="1023.4" cy="621.2" r="3.4"/>
<circle class="d" cx="1025.0" cy="637.1" r="3.4"/>
<circle class="d" cx="1025.7" cy="312.1" r="3.4"/>
<circle class="d" cx="1020.0" cy="321.4" r="3.4"/>
<circle class="d" cx="1022.9" cy="478.0" r="3.4"/>
<circle class="d" cx="1021.2" cy="403.5" r="3.4"/>
<circle class="d" cx="1015.8" cy="318.8" r="3.4"/>
<circle class="d" cx="1027.2" cy="397.4" r="3.4"/>
<circle class="d" cx="1020.3" cy="353.0" r="3.4"/>
<circle class="d" cx="1027.8" cy="390.4" r="3.4"/>
<circle class="d" cx="1016.5" cy="338.0" r="3.4"/>
<circle class="d" cx="1017.9" cy="361.1" r="3.4"/>
<circle class="d" cx="1019.4" cy="470.4" r="3.4"/>
<circle class="d" cx="1020.6" cy="478.2" r="3.4"/>
<circle class="d" cx="1022.8" cy="318.1" r="3.4"/>
<circle class="d" cx="1026.6" cy="453.4" r="3.4"/>
<circle class="d" cx="1022.5" cy="355.6" r="3.4"/>
<circle class="d" cx="1021.2" cy="449.8" r="3.4"/>
<circle class="d" cx="1017.2" cy="317.1" r="3.4"/>
<circle class="d" cx="1020.4" cy="356.0" r="3.4"/>
<circle class="d" cx="1020.0" cy="318.5" r="3.4"/>
<circle class="d" cx="1023.5" cy="478.4" r="3.4"/>
<circle class="d" cx="1019.9" cy="322.5" r="3.4"/>
<circle class="d" cx="1021.5" cy="319.4" r="3.4"/>
<circle class="d" cx="1020.8" cy="492.0" r="3.4"/>
<circle class="d" cx="1024.9" cy="447.1" r="3.4"/>
<circle class="d" cx="1017.8" cy="429.8" r="3.4"/>
<circle class="d" cx="1022.7" cy="318.5" r="3.4"/>
<circle class="d" cx="1018.7" cy="358.5" r="3.4"/>
<circle class="d" cx="1022.9" cy="449.6" r="3.4"/>
<circle class="d" cx="1018.6" cy="477.7" r="3.4"/>
<circle class="d" cx="1024.0" cy="316.3" r="3.4"/>
<circle class="d" cx="1024.5" cy="320.6" r="3.4"/>
<circle class="d" cx="1023.2" cy="331.8" r="3.4"/>
<circle class="d" cx="1019.7" cy="431.7" r="3.4"/>
<circle class="d" cx="1022.1" cy="357.6" r="3.4"/>
<circle class="d" cx="1023.8" cy="317.1" r="3.4"/>
<circle class="d" cx="1021.3" cy="356.3" r="3.4"/>
<circle class="d" cx="1019.0" cy="446.0" r="3.4"/>
<circle class="d" cx="1017.8" cy="317.7" r="3.4"/>
<circle class="d" cx="1019.8" cy="428.2" r="3.4"/>
<circle class="d" cx="1020.0" cy="477.1" r="3.4"/>
<circle class="d" cx="1017.3" cy="386.8" r="3.4"/>
<circle class="d" cx="1015.3" cy="358.6" r="3.4"/>
<circle class="d" cx="1023.7" cy="490.5" r="3.4"/>
<circle class="d" cx="1026.2" cy="445.6" r="3.4"/>
<circle class="d" cx="1021.9" cy="488.8" r="3.4"/>
<circle class="d" cx="1024.1" cy="359.3" r="3.4"/>
<circle class="d" cx="1018.2" cy="356.6" r="3.4"/>
<circle class="d" cx="1021.7" cy="478.9" r="3.4"/>
<circle class="d" cx="1024.9" cy="357.1" r="3.4"/>
<circle class="d" cx="1023.4" cy="480.0" r="3.4"/>
<circle class="d" cx="1020.5" cy="320.4" r="3.4"/>
<circle class="d" cx="1020.5" cy="404.9" r="3.4"/>
<circle class="d" cx="1021.4" cy="318.2" r="3.4"/>
<circle class="d" cx="1020.7" cy="478.2" r="3.4"/>
<circle class="d" cx="1022.8" cy="317.9" r="3.4"/>
<circle class="d" cx="1017.6" cy="358.5" r="3.4"/>
<circle class="d" cx="1022.9" cy="476.9" r="3.4"/>
<circle class="d" cx="1017.8" cy="329.7" r="3.4"/>
<circle class="d" cx="1022.6" cy="320.1" r="3.4"/>
<circle class="d" cx="1018.1" cy="472.5" r="3.4"/>
<circle class="d" cx="1023.3" cy="318.8" r="3.4"/>
<circle class="d" cx="1023.3" cy="498.8" r="3.4"/>
<circle class="d" cx="1028.4" cy="480.6" r="3.4"/>
<circle class="d" cx="1027.8" cy="318.5" r="3.4"/>
<circle class="d" cx="1020.0" cy="317.1" r="3.4"/>
<circle class="d" cx="1019.6" cy="305.0" r="3.4"/>
<circle class="d" cx="1020.3" cy="433.5" r="3.4"/>
<circle class="d" cx="1021.5" cy="477.9" r="3.4"/>
<circle class="d" cx="1020.3" cy="355.2" r="3.4"/>
<circle class="d" cx="1017.8" cy="431.2" r="3.4"/>
<circle class="d" cx="1015.1" cy="359.6" r="3.4"/>
<circle class="d" cx="1024.8" cy="351.8" r="3.4"/>
<circle class="d" cx="1019.4" cy="319.8" r="3.4"/>
<circle class="d" cx="1016.9" cy="318.2" r="3.4"/>
<circle class="d" cx="1018.5" cy="477.3" r="3.4"/>
<circle class="d" cx="1023.5" cy="316.5" r="3.4"/>
<circle class="d" cx="1015.1" cy="316.1" r="3.4"/>
<circle class="d" cx="1017.7" cy="358.9" r="3.4"/>
<circle class="d" cx="1015.5" cy="316.9" r="3.4"/>
<circle class="d" cx="1017.0" cy="319.3" r="3.4"/>
<circle class="d" cx="1018.8" cy="401.1" r="3.4"/>
<circle class="d" cx="1016.0" cy="316.7" r="3.4"/>
<circle class="d" cx="1021.0" cy="386.8" r="3.4"/>
<circle class="d" cx="1023.0" cy="387.9" r="3.4"/>
<circle class="d" cx="1025.0" cy="479.2" r="3.4"/>
<circle class="d" cx="1025.9" cy="362.3" r="3.4"/>
<circle class="d" cx="1022.4" cy="491.2" r="3.4"/>
<circle class="d" cx="1024.1" cy="396.7" r="3.4"/>
<circle class="d" cx="1019.4" cy="317.6" r="3.4"/>
<circle class="d" cx="1017.7" cy="286.2" r="3.4"/>
<circle class="d" cx="1136.3" cy="183.2" r="3.4"/>
<circle class="d" cx="1132.3" cy="239.9" r="3.4"/>
<circle class="d" cx="1128.1" cy="285.3" r="3.4"/>
<circle class="d" cx="1134.2" cy="285.3" r="3.4"/>
<circle class="d" cx="1130.9" cy="303.8" r="3.4"/>
<circle class="d" cx="1136.6" cy="309.4" r="3.4"/>
<circle class="d" cx="1127.1" cy="315.1" r="3.4"/>
<circle class="d" cx="1131.9" cy="316.1" r="3.4"/>
<circle class="d" cx="1128.5" cy="318.9" r="3.4"/>
<circle class="d" cx="1129.0" cy="318.0" r="3.4"/>
<circle class="d" cx="1128.0" cy="315.0" r="3.4"/>
<circle class="d" cx="1137.2" cy="311.7" r="3.4"/>
<circle class="d" cx="1132.1" cy="320.1" r="3.4"/>
<circle class="d" cx="1137.2" cy="325.1" r="3.4"/>
<circle class="d" cx="1131.3" cy="326.0" r="3.4"/>
<circle class="d" cx="1135.5" cy="354.5" r="3.4"/>
<circle class="d" cx="1135.8" cy="354.9" r="3.4"/>
<circle class="d" cx="1135.5" cy="377.2" r="3.4"/>
<circle class="d" cx="1128.0" cy="387.3" r="3.4"/>
<circle class="d" cx="1136.3" cy="395.7" r="3.4"/>
<circle class="d" cx="1128.8" cy="399.0" r="3.4"/>
<circle class="d" cx="1131.0" cy="405.0" r="3.4"/>
<circle class="d" cx="1135.0" cy="412.0" r="3.4"/>
<circle class="d" cx="1130.5" cy="427.6" r="3.4"/>
<circle class="d" cx="1133.8" cy="435.1" r="3.4"/>
<circle class="d" cx="1129.6" cy="446.0" r="3.4"/>
<circle class="d" cx="1136.3" cy="454.4" r="3.4"/>
<circle class="d" cx="1127.1" cy="467.9" r="3.4"/>
<circle class="d" cx="1127.1" cy="470.9" r="3.4"/>
<circle class="d" cx="1137.2" cy="473.4" r="3.4"/>
<circle class="d" cx="1132.1" cy="476.0" r="3.4"/>
<circle class="d" cx="1134.7" cy="481.0" r="3.4"/>
<circle class="d" cx="1132.5" cy="475.5" r="3.4"/>
<circle class="d" cx="1127.9" cy="489.4" r="3.4"/>
<circle class="d" cx="1131.3" cy="498.6" r="3.4"/>
<circle class="d" cx="1133.0" cy="501.1" r="3.4"/>
<circle class="d" cx="1133.8" cy="533.9" r="3.4"/>
<circle class="d" cx="1137.2" cy="534.7" r="3.4"/>
<circle class="d" cx="1134.2" cy="534.2" r="3.4"/>
<circle class="d" cx="1136.3" cy="569.2" r="3.4"/>
<circle class="d" cx="1133.5" cy="606.5" r="3.4"/>
<circle class="d" cx="1135.5" cy="395.4" r="3.4"/>
<circle class="d" cx="1132.3" cy="317.5" r="3.4"/>
<circle class="d" cx="1136.7" cy="411.0" r="3.4"/>
<circle class="d" cx="1129.8" cy="326.1" r="3.4"/>
<circle class="d" cx="1132.1" cy="316.3" r="3.4"/>
<circle class="d" cx="1127.9" cy="319.7" r="3.4"/>
<circle class="d" cx="1127.6" cy="313.5" r="3.4"/>
<circle class="d" cx="1129.9" cy="320.8" r="3.4"/>
<circle class="d" cx="1130.5" cy="319.5" r="3.4"/>
<circle class="d" cx="1131.0" cy="316.9" r="3.4"/>
<circle class="d" cx="1130.3" cy="318.4" r="3.4"/>
<circle class="d" cx="1132.1" cy="324.9" r="3.4"/>
<circle class="d" cx="1131.4" cy="474.4" r="3.4"/>
<circle class="d" cx="1126.9" cy="315.6" r="3.4"/>
<circle class="d" cx="1129.9" cy="318.0" r="3.4"/>
</g>
<line x1="800.3" y1="367.7" x2="800.3" y2="459.2" stroke="#c0c0c0" stroke-opacity="0.55" stroke-width="1.1"/>
<line x1="911.0" y1="368" x2="911.0" y2="410" stroke="#c0c0c0" stroke-opacity="0.55" stroke-width="1.1"/>
<line x1="1021.3" y1="394" x2="1021.3" y2="431" stroke="#c0c0c0" stroke-opacity="0.55" stroke-width="1.1"/>
<line x1="1131.8" y1="380" x2="1131.8" y2="438" stroke="#c0c0c0" stroke-opacity="0.55" stroke-width="1.1"/>
<polyline points="800.3,413.9 911.0,389.0 1021.3,411.8 1131.8,409.1" fill="none" stroke="#000" stroke-width="2.9" stroke-linejoin="round"/>
<circle cx="800.3" cy="413.9" r="8.2" fill="#bcbcbc" fill-opacity="0.58" stroke="#d0ccc8" stroke-opacity="0.9" stroke-width="1.8"/>
<circle cx="911.0" cy="389.0" r="8.2" fill="#bcbcbc" fill-opacity="0.58" stroke="#d0ccc8" stroke-opacity="0.9" stroke-width="1.8"/>
<circle cx="1021.3" cy="411.8" r="8.2" fill="#bcbcbc" fill-opacity="0.58" stroke="#d0ccc8" stroke-opacity="0.9" stroke-width="1.8"/>
<circle cx="1131.8" cy="409.1" r="8.2" fill="#bcbcbc" fill-opacity="0.58" stroke="#d0ccc8" stroke-opacity="0.9" stroke-width="1.8"/>
<path d="M733.7,22.7 V727.3 H1198.2" fill="none" stroke="#4a4a4a" stroke-width="2.2" stroke-linejoin="miter"/>
<text x="725.2" y="190.6" text-anchor="end" font-size="20" fill="#606060" stroke="#606060" font-family="Liberation Sans, sans-serif">0</text>
<text x="725.2" y="364.0" text-anchor="end" font-size="20" fill="#606060" stroke="#606060" font-family="Liberation Sans, sans-serif">-2</text>
<text x="725.2" y="537.4" text-anchor="end" font-size="20" fill="#606060" stroke="#606060" font-family="Liberation Sans, sans-serif">-4</text>
<text x="725.2" y="710.8" text-anchor="end" font-size="20" fill="#606060" stroke="#606060" font-family="Liberation Sans, sans-serif">-6</text>
<text x="800.3" y="702.8" text-anchor="middle" font-size="20" fill="#222" stroke="#222" font-family="Liberation Sans, sans-serif">n=23</text>
<text x="911.0" y="702.8" text-anchor="middle" font-size="20" fill="#222" stroke="#222" font-family="Liberation Sans, sans-serif">n=109</text>
<text x="1021.3" y="702.8" text-anchor="middle" font-size="20" fill="#222" stroke="#222" font-family="Liberation Sans, sans-serif">n=158</text>
<text x="1131.8" y="702.8" text-anchor="middle" font-size="20" fill="#222" stroke="#222" font-family="Liberation Sans, sans-serif">n=56</text>
<text x="815.1" y="815.3" transform="rotate(-90 815.1 815.3)" text-anchor="middle" font-size="20.6" fill="#606060" stroke="#606060" font-family="Liberation Sans, sans-serif">Unpublishable</text>
<text x="925.8" y="815.3" transform="rotate(-90 925.8 815.3)" text-anchor="middle" font-size="20.6" fill="#606060" stroke="#606060" font-family="Liberation Sans, sans-serif">Major Revision</text>
<text x="1036.1" y="815.3" transform="rotate(-90 1036.1 815.3)" text-anchor="middle" font-size="20.6" fill="#606060" stroke="#606060" font-family="Liberation Sans, sans-serif">Minor Revision</text>
<text x="1146.6" y="815.3" transform="rotate(-90 1146.6 815.3)" text-anchor="middle" font-size="20.6" fill="#606060" stroke="#606060" font-family="Liberation Sans, sans-serif">Publishable As Is</text>
<text x="965.7" y="943.5" text-anchor="middle" font-size="22.2" fill="#1a1a1a" stroke="#1a1a1a" font-family="Liberation Sans, sans-serif">Categorical Peer Review Rating</text>
<text x="643.2" y="376.5" transform="rotate(-90 643.2 376.5)" text-anchor="middle" font-size="22.2" fill="#1a1a1a" stroke="#1a1a1a" font-family="Liberation Sans, sans-serif">Deviation from</text>
<text x="667.9000000000001" y="376.5" transform="rotate(-90 667.9000000000001 376.5)" text-anchor="middle" font-size="22.2" fill="#1a1a1a" stroke="#1a1a1a" font-family="Liberation Sans, sans-serif">Meta-Analytic Mean Effect Size</text>
<text x="1.3" y="32.2" font-size="41.5" font-weight="bold" fill="#000" stroke="#000" stroke-width="0.6" font-family="Liberation Sans, sans-serif">A</text>
<text x="638.3" y="32.8" font-size="41.5" font-weight="bold" fill="#000" stroke="#000" stroke-width="0.6" font-family="Liberation Sans, sans-serif">B</text>
</svg></div></body></html>
